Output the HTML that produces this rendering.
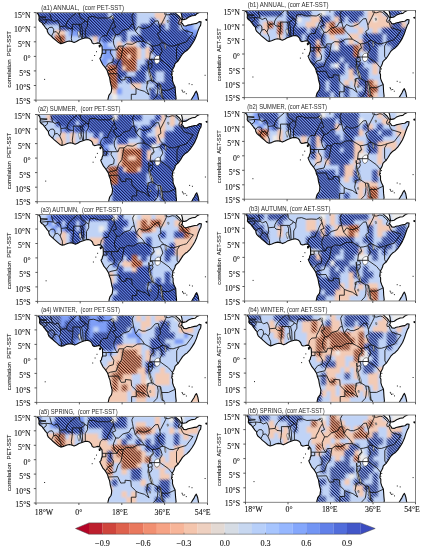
<!DOCTYPE html><html><head><meta charset="utf-8"><style>html,body{margin:0;padding:0;background:#fff;}svg{display:block;}</style></head><body><svg width="423" height="550" viewBox="0 0 423 550"><defs><pattern id="hb" patternUnits="userSpaceOnUse" width="2.05" height="2.05" patternTransform="rotate(-45)"><rect x="0" y="0" width="1.0" height="2.05" fill="#121a58"/></pattern><pattern id="hr" patternUnits="userSpaceOnUse" width="2.05" height="2.05" patternTransform="rotate(-45)"><rect x="0" y="0" width="0.95" height="2.05" fill="#4a1608"/></pattern><filter id="bl" x="-5%" y="-5%" width="110%" height="110%"><feGaussianBlur stdDeviation="1.1"/></filter><filter id="bl2" x="-5%" y="-5%" width="110%" height="110%"><feGaussianBlur stdDeviation="0.8"/></filter></defs><style>.tk{font-family:"Liberation Serif",serif;font-size:7.8px;fill:#111;stroke:#111;stroke-width:0.1px}.tt{font-family:"Liberation Sans",sans-serif;font-size:6.9px;fill:#2a2a2a}.yl{font-family:"Liberation Sans",sans-serif;font-size:6.2px;fill:#222;stroke:#222;stroke-width:0.08px}.cb{font-family:"Liberation Serif",serif;font-size:8.2px;fill:#111;stroke:#111;stroke-width:0.1px}</style><clipPath id="ca1"><rect x="36.0" y="12.6" width="171.5" height="87.5"/></clipPath><clipPath id="la1"><path d="M40.8 5.3 L39.6 9.7 L38.1 12.6 L37.2 13.5 L38.4 14.3 L38.9 16.1 L39.1 17.6 L38.9 19.9 L39.8 21.4 L42.0 22.8 L43.1 24.6 L44.1 25.7 L45.5 27.8 L47.2 29.5 L47.4 31.6 L48.4 33.6 L50.3 35.4 L51.7 36.5 L53.1 38.0 L56.2 40.6 L58.6 42.6 L60.8 43.7 L63.4 42.9 L67.0 41.5 L69.3 41.0 L71.7 41.5 L74.1 42.5 L76.5 41.5 L78.9 40.0 L81.3 39.1 L84.8 38.0 L87.0 37.7 L89.6 38.6 L91.3 40.3 L92.2 42.9 L93.6 43.8 L95.5 43.5 L97.9 42.9 L99.6 43.2 L100.8 44.7 L102.0 46.4 L102.2 49.4 L102.2 53.4 L101.3 55.5 L101.0 57.2 L99.8 58.4 L100.8 60.7 L102.7 64.5 L105.1 67.4 L107.0 70.3 L107.9 72.7 L108.2 74.1 L109.6 77.6 L110.3 82.0 L110.8 84.1 L111.7 87.6 L111.5 90.5 L111.0 92.5 L108.9 95.4 L108.2 98.1 L107.7 100.7 L107.5 104.5 L173.0 104.5 L175.6 100.7 L176.1 98.6 L175.6 94.3 L175.3 89.9 L175.1 87.0 L173.4 83.5 L172.5 80.6 L172.5 76.8 L171.5 75.3 L172.0 72.4 L172.2 70.1 L173.4 68.0 L174.4 66.0 L174.9 63.9 L176.5 62.2 L178.0 61.0 L180.1 57.8 L182.5 54.0 L184.9 51.7 L186.8 50.5 L189.6 47.6 L192.3 43.8 L194.4 40.3 L196.3 35.9 L197.7 31.6 L199.4 27.2 L200.6 25.4 L201.1 21.9 L199.2 21.6 L196.8 23.4 L194.4 23.7 L190.8 24.6 L188.0 25.1 L186.1 26.0 L183.7 25.7 L182.3 23.4 L180.8 22.8 L181.8 21.9 L182.0 20.2 L180.6 18.4 L178.9 16.1 L176.5 14.1 L174.2 11.7 L173.0 10.9 L171.8 8.2 L170.6 5.3ZM180.1 5.3 L180.6 8.2 L180.8 11.7 L181.1 13.2 L181.8 15.5 L182.0 17.6 L182.5 19.3 L183.7 19.6 L186.1 19.0 L188.4 17.3 L192.0 15.8 L194.9 15.5 L196.8 13.8 L199.2 12.6 L203.2 10.9 L205.1 9.1 L209.9 5.9 L213.5 4.1 L213.5 2.4 L180.1 2.4ZM196.3 91.2 L197.0 92.8 L197.7 94.8 L198.4 98.6 L198.7 101.0 L199.2 104.5 L184.9 104.5 L188.4 102.7 L191.1 100.1 L192.7 97.2 L193.9 95.4 L195.1 92.8ZM205.8 19.6 L207.5 19.3 L208.7 19.9 L207.5 20.5 L206.1 20.2ZM99.1 45.6 L100.1 45.3 L100.1 46.7 L99.4 47.0Z"/></clipPath><g clip-path="url(#ca1)"><g clip-path="url(#la1)"><g filter="url(#bl)"><path d="M35.7 12.3h72.1v6.4h-72.1zM111.9 12.3h24.4v6.4h-24.4zM169.1 12.3h38.7v6.4h-38.7zM35.7 18.1h100.6v6.4h-100.6zM150.0 18.1h5.4v6.4h-5.4zM169.1 18.1h10.1v6.4h-10.1zM35.7 24.0h5.4v6.4h-5.4zM59.5 24.0h76.8v6.4h-76.8zM140.5 24.0h24.4v6.4h-24.4zM169.1 24.0h10.1v6.4h-10.1zM35.7 29.8h5.4v6.4h-5.4zM78.6 29.8h48.2v6.4h-48.2zM140.5 29.8h48.2v6.4h-48.2zM35.7 35.6h5.4v6.4h-5.4zM83.3 35.6h5.4v6.4h-5.4zM102.4 35.6h10.1v6.4h-10.1zM121.5 35.6h5.4v6.4h-5.4zM131.0 35.6h67.3v6.4h-67.3zM35.7 41.5h5.4v6.4h-5.4zM83.3 41.5h5.4v6.4h-5.4zM140.5 41.5h5.4v6.4h-5.4zM150.0 41.5h57.8v6.4h-57.8zM35.7 47.3h5.4v6.4h-5.4zM83.3 47.3h5.4v6.4h-5.4zM150.0 47.3h57.8v6.4h-57.8zM35.7 53.1h5.4v6.4h-5.4zM83.3 53.1h5.4v6.4h-5.4zM154.8 53.1h53.0v6.4h-53.0zM35.7 59.0h5.4v6.4h-5.4zM111.9 59.0h10.1v6.4h-10.1zM145.3 59.0h62.5v6.4h-62.5zM35.7 64.8h5.4v6.4h-5.4zM116.7 64.8h5.4v6.4h-5.4zM140.5 64.8h57.8v6.4h-57.8zM35.7 70.6h5.4v6.4h-5.4zM116.7 70.6h10.1v6.4h-10.1zM135.7 70.6h10.1v6.4h-10.1zM150.0 70.6h5.4v6.4h-5.4zM164.3 70.6h24.4v6.4h-24.4zM35.7 76.5h5.4v6.4h-5.4zM116.7 76.5h5.4v6.4h-5.4zM126.2 76.5h19.7v6.4h-19.7zM150.0 76.5h5.4v6.4h-5.4zM164.3 76.5h24.4v6.4h-24.4zM35.7 82.3h5.4v6.4h-5.4zM154.8 82.3h29.2v6.4h-29.2zM35.7 88.1h5.4v6.4h-5.4zM150.0 88.1h5.4v6.4h-5.4zM159.6 88.1h24.4v6.4h-24.4zM35.7 94.0h5.4v6.4h-5.4zM150.0 94.0h33.9v6.4h-33.9z" fill="#6a8cf0"/><path d="M107.2 12.3h5.4v6.4h-5.4zM135.7 12.3h19.7v6.4h-19.7zM164.3 12.3h5.4v6.4h-5.4zM135.7 18.1h14.9v6.4h-14.9zM154.8 18.1h5.4v6.4h-5.4zM164.3 18.1h5.4v6.4h-5.4zM183.4 18.1h24.4v6.4h-24.4zM40.5 24.0h19.7v6.4h-19.7zM135.7 24.0h5.4v6.4h-5.4zM164.3 24.0h5.4v6.4h-5.4zM178.6 24.0h5.4v6.4h-5.4zM192.9 24.0h14.9v6.4h-14.9zM40.5 29.8h14.9v6.4h-14.9zM64.3 29.8h5.4v6.4h-5.4zM126.2 29.8h14.9v6.4h-14.9zM40.5 35.6h14.9v6.4h-14.9zM64.3 35.6h19.7v6.4h-19.7zM88.1 35.6h5.4v6.4h-5.4zM111.9 35.6h10.1v6.4h-10.1zM126.2 35.6h5.4v6.4h-5.4zM40.5 41.5h14.9v6.4h-14.9zM64.3 41.5h19.7v6.4h-19.7zM88.1 41.5h5.4v6.4h-5.4zM97.6 41.5h5.4v6.4h-5.4zM107.2 41.5h10.1v6.4h-10.1zM121.5 41.5h5.4v6.4h-5.4zM135.7 41.5h5.4v6.4h-5.4zM145.3 41.5h5.4v6.4h-5.4zM40.5 47.3h14.9v6.4h-14.9zM64.3 47.3h19.7v6.4h-19.7zM88.1 47.3h5.4v6.4h-5.4zM97.6 47.3h5.4v6.4h-5.4zM111.9 47.3h5.4v6.4h-5.4zM140.5 47.3h5.4v6.4h-5.4zM40.5 53.1h14.9v6.4h-14.9zM64.3 53.1h19.7v6.4h-19.7zM88.1 53.1h14.9v6.4h-14.9zM111.9 53.1h5.4v6.4h-5.4zM140.5 53.1h5.4v6.4h-5.4zM150.0 53.1h5.4v6.4h-5.4zM40.5 59.0h14.9v6.4h-14.9zM64.3 59.0h19.7v6.4h-19.7zM107.2 59.0h5.4v6.4h-5.4zM135.7 59.0h10.1v6.4h-10.1zM40.5 64.8h14.9v6.4h-14.9zM64.3 64.8h19.7v6.4h-19.7zM102.4 64.8h5.4v6.4h-5.4zM135.7 64.8h5.4v6.4h-5.4zM40.5 70.6h14.9v6.4h-14.9zM64.3 70.6h19.7v6.4h-19.7zM102.4 70.6h5.4v6.4h-5.4zM126.2 70.6h10.1v6.4h-10.1zM145.3 70.6h5.4v6.4h-5.4zM154.8 70.6h10.1v6.4h-10.1zM40.5 76.5h14.9v6.4h-14.9zM64.3 76.5h14.9v6.4h-14.9zM121.5 76.5h5.4v6.4h-5.4zM145.3 76.5h5.4v6.4h-5.4zM154.8 76.5h10.1v6.4h-10.1zM40.5 82.3h14.9v6.4h-14.9zM64.3 82.3h10.1v6.4h-10.1zM116.7 82.3h14.9v6.4h-14.9zM140.5 82.3h14.9v6.4h-14.9zM40.5 88.1h14.9v6.4h-14.9zM64.3 88.1h5.4v6.4h-5.4zM121.5 88.1h29.2v6.4h-29.2zM154.8 88.1h5.4v6.4h-5.4zM40.5 94.0h14.9v6.4h-14.9zM64.3 94.0h48.2v6.4h-48.2zM116.7 94.0h33.9v6.4h-33.9z" fill="#c0d3f6"/><path d="M154.8 12.3h10.1v6.4h-10.1zM159.6 18.1h5.4v6.4h-5.4zM178.6 18.1h5.4v6.4h-5.4zM54.8 29.8h10.1v6.4h-10.1zM92.9 35.6h5.4v6.4h-5.4zM116.7 41.5h5.4v6.4h-5.4zM126.2 41.5h10.1v6.4h-10.1zM135.7 47.3h5.4v6.4h-5.4zM145.3 47.3h5.4v6.4h-5.4zM126.2 53.1h5.4v6.4h-5.4zM135.7 53.1h5.4v6.4h-5.4zM145.3 53.1h5.4v6.4h-5.4zM121.5 64.8h5.4v6.4h-5.4zM131.0 82.3h10.1v6.4h-10.1zM111.9 88.1h5.4v6.4h-5.4z" fill="#f3cbb6"/><path d="M183.4 24.0h10.1v6.4h-10.1zM69.0 29.8h10.1v6.4h-10.1zM188.1 29.8h19.7v6.4h-19.7zM97.6 35.6h5.4v6.4h-5.4zM197.7 35.6h10.1v6.4h-10.1zM102.4 41.5h5.4v6.4h-5.4zM102.4 47.3h10.1v6.4h-10.1zM102.4 53.1h10.1v6.4h-10.1zM83.3 59.0h24.4v6.4h-24.4zM83.3 64.8h19.7v6.4h-19.7zM197.7 64.8h10.1v6.4h-10.1zM83.3 70.6h19.7v6.4h-19.7zM188.1 70.6h19.7v6.4h-19.7zM188.1 76.5h19.7v6.4h-19.7zM183.4 82.3h24.4v6.4h-24.4zM116.7 88.1h5.4v6.4h-5.4zM183.4 88.1h24.4v6.4h-24.4zM183.4 94.0h24.4v6.4h-24.4z" fill="#7f9ff7"/><path d="M54.8 35.6h10.1v6.4h-10.1zM54.8 41.5h10.1v6.4h-10.1zM54.8 47.3h10.1v6.4h-10.1zM116.7 47.3h19.7v6.4h-19.7zM54.8 53.1h10.1v6.4h-10.1zM116.7 53.1h10.1v6.4h-10.1zM131.0 53.1h5.4v6.4h-5.4zM54.8 59.0h10.1v6.4h-10.1zM121.5 59.0h14.9v6.4h-14.9zM54.8 64.8h10.1v6.4h-10.1zM107.2 64.8h10.1v6.4h-10.1zM126.2 64.8h10.1v6.4h-10.1zM54.8 70.6h10.1v6.4h-10.1zM107.2 70.6h10.1v6.4h-10.1zM54.8 76.5h10.1v6.4h-10.1zM78.6 76.5h38.7v6.4h-38.7zM54.8 82.3h10.1v6.4h-10.1zM73.8 82.3h43.5v6.4h-43.5zM54.8 88.1h10.1v6.4h-10.1zM54.8 94.0h10.1v6.4h-10.1z" fill="#ec9a78"/><path d="M92.9 41.5h5.4v6.4h-5.4zM92.9 47.3h5.4v6.4h-5.4zM69.0 88.1h43.5v6.4h-43.5zM111.9 94.0h5.4v6.4h-5.4z" fill="#ececec"/></g><mask id="ma1D" maskUnits="userSpaceOnUse" x="31.0" y="7.6" width="181.5" height="97.5"><path filter="url(#bl2)" d="M35.7 12.3h72.1v6.4h-72.1zM111.9 12.3h24.4v6.4h-24.4zM169.1 12.3h38.7v6.4h-38.7zM35.7 18.1h100.6v6.4h-100.6zM150.0 18.1h5.4v6.4h-5.4zM169.1 18.1h10.1v6.4h-10.1zM35.7 24.0h5.4v6.4h-5.4zM59.5 24.0h76.8v6.4h-76.8zM140.5 24.0h24.4v6.4h-24.4zM169.1 24.0h10.1v6.4h-10.1zM35.7 29.8h5.4v6.4h-5.4zM78.6 29.8h48.2v6.4h-48.2zM140.5 29.8h48.2v6.4h-48.2zM35.7 35.6h5.4v6.4h-5.4zM83.3 35.6h5.4v6.4h-5.4zM102.4 35.6h10.1v6.4h-10.1zM121.5 35.6h5.4v6.4h-5.4zM131.0 35.6h67.3v6.4h-67.3zM35.7 41.5h5.4v6.4h-5.4zM83.3 41.5h5.4v6.4h-5.4zM140.5 41.5h5.4v6.4h-5.4zM150.0 41.5h57.8v6.4h-57.8zM35.7 47.3h5.4v6.4h-5.4zM83.3 47.3h5.4v6.4h-5.4zM150.0 47.3h57.8v6.4h-57.8zM35.7 53.1h5.4v6.4h-5.4zM83.3 53.1h5.4v6.4h-5.4zM154.8 53.1h53.0v6.4h-53.0zM35.7 59.0h5.4v6.4h-5.4zM111.9 59.0h10.1v6.4h-10.1zM145.3 59.0h62.5v6.4h-62.5zM35.7 64.8h5.4v6.4h-5.4zM116.7 64.8h5.4v6.4h-5.4zM140.5 64.8h57.8v6.4h-57.8zM35.7 70.6h5.4v6.4h-5.4zM116.7 70.6h10.1v6.4h-10.1zM135.7 70.6h10.1v6.4h-10.1zM150.0 70.6h5.4v6.4h-5.4zM164.3 70.6h24.4v6.4h-24.4zM35.7 76.5h5.4v6.4h-5.4zM116.7 76.5h5.4v6.4h-5.4zM126.2 76.5h19.7v6.4h-19.7zM150.0 76.5h5.4v6.4h-5.4zM164.3 76.5h24.4v6.4h-24.4zM35.7 82.3h5.4v6.4h-5.4zM154.8 82.3h29.2v6.4h-29.2zM35.7 88.1h5.4v6.4h-5.4zM150.0 88.1h5.4v6.4h-5.4zM159.6 88.1h24.4v6.4h-24.4zM35.7 94.0h5.4v6.4h-5.4zM150.0 94.0h33.9v6.4h-33.9z" fill="#fff"/></mask><rect x="36.0" y="12.6" width="171.5" height="87.5" fill="url(#hb)" mask="url(#ma1D)"/><mask id="ma1R" maskUnits="userSpaceOnUse" x="31.0" y="7.6" width="181.5" height="97.5"><path filter="url(#bl2)" d="M54.8 35.6h10.1v6.4h-10.1zM54.8 41.5h10.1v6.4h-10.1zM54.8 47.3h10.1v6.4h-10.1zM116.7 47.3h19.7v6.4h-19.7zM54.8 53.1h10.1v6.4h-10.1zM116.7 53.1h10.1v6.4h-10.1zM131.0 53.1h5.4v6.4h-5.4zM54.8 59.0h10.1v6.4h-10.1zM121.5 59.0h14.9v6.4h-14.9zM54.8 64.8h10.1v6.4h-10.1zM107.2 64.8h10.1v6.4h-10.1zM126.2 64.8h10.1v6.4h-10.1zM54.8 70.6h10.1v6.4h-10.1zM107.2 70.6h10.1v6.4h-10.1zM54.8 76.5h10.1v6.4h-10.1zM78.6 76.5h38.7v6.4h-38.7zM54.8 82.3h10.1v6.4h-10.1zM73.8 82.3h43.5v6.4h-43.5zM54.8 88.1h10.1v6.4h-10.1zM54.8 94.0h10.1v6.4h-10.1z" fill="#fff"/></mask><rect x="36.0" y="12.6" width="171.5" height="87.5" fill="url(#hr)" mask="url(#ma1R)"/></g><path d="M154.6 57.5 L156.3 55.8 L158.2 55.5 L160.1 56.4 L159.9 57.8 L159.6 61.6 L158.0 63.6 L156.1 63.9 L154.4 61.6 L154.4 59.3ZM148.4 66.0 L148.9 66.3 L149.4 69.5 L150.3 72.7 L151.8 75.6 L152.7 78.5 L153.0 81.1 L152.2 82.0 L151.3 80.3 L149.6 76.8 L148.7 73.8 L148.2 70.3ZM159.9 84.1 L161.1 84.9 L161.5 88.4 L162.0 91.3 L162.2 94.3 L163.0 98.1 L162.0 98.3 L161.1 96.0 L160.3 92.8 L159.9 88.4ZM164.4 43.2 L165.3 43.5 L165.8 46.7 L165.8 49.1 L165.1 48.8 L164.6 46.1ZM78.2 31.3 L79.4 31.0 L79.8 34.5 L79.1 37.7 L78.4 35.9 L77.7 33.0ZM167.0 20.5 L168.2 20.5 L168.4 22.2 L167.5 22.5ZM151.3 52.0 L151.8 50.8 L153.7 49.9 L153.2 51.1 L151.5 53.1ZM148.0 61.3 L148.7 61.3 L148.4 63.6 L147.7 63.4ZM146.5 81.7 L148.0 81.1 L148.2 83.8 L147.0 84.1ZM111.0 16.1 L113.4 15.8 L113.7 18.4 L112.0 19.3 L110.6 17.9ZM149.4 88.4 L150.3 88.1 L150.6 90.2 L149.4 89.9Z" fill="#fff" stroke="#222" stroke-width="0.5"/><path d="M40.8 5.3 L39.6 9.7 L38.1 12.6 L37.2 13.5 L38.4 14.3 L38.9 16.1 L39.1 17.6 L38.9 19.9 L39.8 21.4 L42.0 22.8 L43.1 24.6 L44.1 25.7 L45.5 27.8 L47.2 29.5 L47.4 31.6 L48.4 33.6 L50.3 35.4 L51.7 36.5 L53.1 38.0 L56.2 40.6 L58.6 42.6 L60.8 43.7 L63.4 42.9 L67.0 41.5 L69.3 41.0 L71.7 41.5 L74.1 42.5 L76.5 41.5 L78.9 40.0 L81.3 39.1 L84.8 38.0 L87.0 37.7 L89.6 38.6 L91.3 40.3 L92.2 42.9 L93.6 43.8 L95.5 43.5 L97.9 42.9 L99.6 43.2 L100.8 44.7 L102.0 46.4 L102.2 49.4 L102.2 53.4 L101.3 55.5 L101.0 57.2 L99.8 58.4 L100.8 60.7 L102.7 64.5 L105.1 67.4 L107.0 70.3 L107.9 72.7 L108.2 74.1 L109.6 77.6 L110.3 82.0 L110.8 84.1 L111.7 87.6 L111.5 90.5 L111.0 92.5 L108.9 95.4 L108.2 98.1 L107.7 100.7 L107.5 104.5 L173.0 104.5 L175.6 100.7 L176.1 98.6 L175.6 94.3 L175.3 89.9 L175.1 87.0 L173.4 83.5 L172.5 80.6 L172.5 76.8 L171.5 75.3 L172.0 72.4 L172.2 70.1 L173.4 68.0 L174.4 66.0 L174.9 63.9 L176.5 62.2 L178.0 61.0 L180.1 57.8 L182.5 54.0 L184.9 51.7 L186.8 50.5 L189.6 47.6 L192.3 43.8 L194.4 40.3 L196.3 35.9 L197.7 31.6 L199.4 27.2 L200.6 25.4 L201.1 21.9 L199.2 21.6 L196.8 23.4 L194.4 23.7 L190.8 24.6 L188.0 25.1 L186.1 26.0 L183.7 25.7 L182.3 23.4 L180.8 22.8 L181.8 21.9 L182.0 20.2 L180.6 18.4 L178.9 16.1 L176.5 14.1 L174.2 11.7 L173.0 10.9 L171.8 8.2 L170.6 5.3ZM180.1 5.3 L180.6 8.2 L180.8 11.7 L181.1 13.2 L181.8 15.5 L182.0 17.6 L182.5 19.3 L183.7 19.6 L186.1 19.0 L188.4 17.3 L192.0 15.8 L194.9 15.5 L196.8 13.8 L199.2 12.6 L203.2 10.9 L205.1 9.1 L209.9 5.9 L213.5 4.1 L213.5 2.4 L180.1 2.4ZM196.3 91.2 L197.0 92.8 L197.7 94.8 L198.4 98.6 L198.7 101.0 L199.2 104.5 L184.9 104.5 L188.4 102.7 L191.1 100.1 L192.7 97.2 L193.9 95.4 L195.1 92.8ZM205.8 19.6 L207.5 19.3 L208.7 19.9 L207.5 20.5 L206.1 20.2ZM99.1 45.6 L100.1 45.3 L100.1 46.7 L99.4 47.0Z" fill="none" stroke="#0a0a0a" stroke-width="1.1" stroke-linejoin="round"/><path d="M49.8 13.5 L51.7 20.2M39.1 16.7 L46.0 17.0M39.1 18.1 L46.0 17.6M39.1 20.3 L46.2 19.6 L51.7 20.2M46.2 19.6 L46.2 22.2 L43.1 24.6M47.2 30.1 L49.3 27.5 L52.2 27.2 L53.6 29.2 L53.6 32.1 L51.5 36.2M53.6 32.1 L56.2 31.6 L58.6 34.2M58.6 34.2 L61.0 39.4 L61.0 43.5M51.7 20.2 L53.9 21.6 L57.4 20.2 L59.1 23.4 L59.8 26.6M59.8 26.6 L60.1 30.7 L58.6 34.2M59.8 26.6 L65.8 26.0 L67.7 28.1 L72.4 28.6M66.0 26.0 L66.5 23.1 L68.4 19.9 L71.7 16.7 L76.5 12.6 L79.4 12.9M72.4 28.6 L72.0 33.3 L71.3 38.3 L72.0 41.8M72.4 28.6 L72.2 24.3 L78.9 24.3M78.9 24.3 L80.1 27.2 L80.3 32.4 L81.7 38.6M81.0 24.3 L82.2 28.9 L82.7 38.3M78.9 24.3 L81.0 24.3 L84.4 21.9 L84.6 20.5M79.4 12.9 L79.8 16.4 L81.3 18.4 L84.1 19.6 L84.6 20.5M85.3 37.7 L85.3 29.8 L87.5 26.0 L87.5 22.2M84.6 20.5 L87.5 22.2M87.5 22.2 L88.6 17.0 L93.2 16.4 L97.9 18.1 L102.7 17.9 L108.2 18.1 L111.3 16.4 L112.7 18.1M99.4 42.6 L100.3 38.3 L102.7 35.9 L107.0 35.6 L107.5 33.0 L109.8 28.6 L110.6 26.6 L111.7 24.3 L113.7 21.4 L112.7 18.1M113.7 21.4 L114.6 24.6 L115.8 27.2 L112.2 28.6 L115.8 34.5M115.8 34.5 L113.4 40.3 L113.7 44.1 L115.1 47.6 L117.2 49.9M102.2 49.9 L105.8 49.9 L110.6 49.9 L117.2 49.9M105.8 49.9 L105.8 53.4 L101.7 53.4M110.6 49.9 L110.3 52.9 L113.4 57.8 L112.9 62.2 L108.6 63.4 L105.3 67.7M123.2 46.1 L121.0 57.8 L117.9 62.2 L115.8 68.6 L110.1 69.8 L107.5 70.9M117.2 49.9 L118.7 46.1 L123.2 46.1M123.2 46.1 L126.5 43.8 L132.2 44.4 L137.2 41.5 L140.8 41.2 L144.1 41.5M115.8 34.5 L118.7 34.5 L122.9 30.4 L128.9 28.6 L131.3 24.6 L133.4 24.3M133.4 24.3 L135.3 31.0 L138.4 34.5 L142.0 38.0 L144.1 41.5M133.4 24.3 L132.5 19.6 L131.8 16.1 L133.7 12.6 L136.0 10.6M135.3 31.0 L138.4 26.6 L142.0 28.4 L145.1 28.4 L150.3 26.3 L155.1 21.1 L158.0 20.8 L159.9 27.2M159.9 27.2 L160.3 31.6 L157.5 33.6 L159.6 38.9 L163.4 42.9M163.4 42.9 L160.8 42.9 L159.6 44.7M159.6 44.7 L155.1 45.9 L152.2 46.1M144.1 41.5 L148.0 43.5 L152.2 46.1M152.2 46.1 L153.4 49.9 L150.3 52.9 L149.4 60.1M159.9 27.2 L160.6 25.7 L163.9 19.3 L165.6 15.8 L165.8 14.6 L167.0 6.8M165.8 14.6 L168.2 14.9 L171.8 13.8 L174.2 14.3 L177.7 17.6 L179.9 19.9M179.9 19.9 L178.4 22.2 L178.9 24.3 L180.8 24.3M180.8 24.3 L182.0 27.5 L183.7 30.1 L193.0 33.0 L186.1 42.1 L183.0 42.9 L179.2 44.1M179.2 44.1 L176.5 45.0 L173.0 46.1 L169.4 45.9 L164.6 43.2 L163.4 42.9M179.2 44.1 L176.5 48.2 L176.5 58.7 L178.0 61.0M159.6 44.7 L161.1 47.6 L162.2 51.4 L159.9 55.5 L159.6 56.4 L159.9 59.3M159.9 59.3 L168.4 65.4 L172.2 70.1M149.4 59.3 L159.6 59.3M149.4 60.1 L151.5 59.6 L152.5 63.4M148.0 60.7 L148.4 64.5 L148.0 69.5M148.0 64.5 L151.5 63.4M151.5 63.4 L152.2 66.0 L150.8 68.6 L149.1 69.5M148.9 69.5 L151.8 80.3M151.8 80.3 L147.7 81.1 L147.2 84.3 L146.5 88.4 L148.0 92.5 L149.1 94.8 L144.4 91.3 L139.6 89.9 L136.0 88.4M108.2 73.8 L117.7 73.6 L120.8 80.0 L125.1 79.7 L125.1 77.1 L130.8 77.6 L131.3 83.5 L135.8 87.8 L136.0 88.4M136.0 88.4 L136.0 94.3 L131.3 94.3 L131.3 103.6M151.8 80.3 L157.2 83.8M157.2 83.8 L158.0 88.1 L157.5 92.8 L156.8 96.0M157.2 83.8 L159.9 84.1 L161.3 90.2M161.3 90.2 L162.2 97.8 L164.1 98.6 L163.0 103.3M161.3 90.2 L168.2 90.2 L175.1 87.0M156.8 96.0 L151.3 101.8M182.3 19.0 L182.3 18.4" fill="none" stroke="#111" stroke-width="0.85" stroke-linejoin="round"/><rect x="94.1" y="55.0" width="1" height="1" fill="#222"/><rect x="96.0" y="51.2" width="1" height="1" fill="#222"/><rect x="91.7" y="59.9" width="1" height="1" fill="#222"/><rect x="172.0" y="73.6" width="1" height="1" fill="#222"/><rect x="172.9" y="70.7" width="1" height="1" fill="#222"/><rect x="181.5" y="89.7" width="1" height="1" fill="#222"/><rect x="182.0" y="90.6" width="1" height="1" fill="#222"/><rect x="182.7" y="91.7" width="1" height="1" fill="#222"/><rect x="184.1" y="91.4" width="1" height="1" fill="#222"/><rect x="185.8" y="93.2" width="1" height="1" fill="#222"/><rect x="188.7" y="83.3" width="1" height="1" fill="#222"/><rect x="191.5" y="84.1" width="1" height="1" fill="#222"/><rect x="44.1" y="78.9" width="1" height="1" fill="#222"/><rect x="210.6" y="69.3" width="1" height="1" fill="#222"/><rect x="204.6" y="74.8" width="1" height="1" fill="#222"/></g><rect x="36.0" y="12.6" width="171.5" height="87.5" fill="none" stroke="#777" stroke-width="0.9"/><line x1="33.8" y1="12.6" x2="36.0" y2="12.6" stroke="#333" stroke-width="0.8"/><text x="30.6" y="17.5" class="tk" text-anchor="end">15°N</text><line x1="33.8" y1="27.2" x2="36.0" y2="27.2" stroke="#333" stroke-width="0.8"/><text x="30.6" y="32.1" class="tk" text-anchor="end">10°N</text><line x1="33.8" y1="41.8" x2="36.0" y2="41.8" stroke="#333" stroke-width="0.8"/><text x="30.6" y="46.7" class="tk" text-anchor="end">5°N</text><line x1="33.8" y1="56.4" x2="36.0" y2="56.4" stroke="#333" stroke-width="0.8"/><text x="30.6" y="61.2" class="tk" text-anchor="end">0°</text><line x1="33.8" y1="70.9" x2="36.0" y2="70.9" stroke="#333" stroke-width="0.8"/><text x="30.6" y="75.8" class="tk" text-anchor="end">5°S</text><line x1="33.8" y1="85.5" x2="36.0" y2="85.5" stroke="#333" stroke-width="0.8"/><text x="30.6" y="90.4" class="tk" text-anchor="end">10°S</text><line x1="33.8" y1="100.1" x2="36.0" y2="100.1" stroke="#333" stroke-width="0.8"/><text x="30.6" y="103.7" class="tk" text-anchor="end">15°S</text><line x1="78.9" y1="12.6" x2="78.9" y2="14.6" stroke="#333" stroke-width="0.8"/><line x1="121.8" y1="12.6" x2="121.8" y2="14.6" stroke="#333" stroke-width="0.8"/><line x1="164.6" y1="12.6" x2="164.6" y2="14.6" stroke="#333" stroke-width="0.8"/><line x1="207.5" y1="12.6" x2="207.5" y2="14.6" stroke="#333" stroke-width="0.8"/><line x1="36.0" y1="100.1" x2="36.0" y2="102.1" stroke="#333" stroke-width="0.8"/><line x1="78.9" y1="100.1" x2="78.9" y2="102.1" stroke="#333" stroke-width="0.8"/><line x1="121.8" y1="100.1" x2="121.8" y2="102.1" stroke="#333" stroke-width="0.8"/><line x1="164.6" y1="100.1" x2="164.6" y2="102.1" stroke="#333" stroke-width="0.8"/><line x1="207.5" y1="100.1" x2="207.5" y2="102.1" stroke="#333" stroke-width="0.8"/><text x="41.2" y="10.0" class="tt" textLength="82.8" lengthAdjust="spacingAndGlyphs">(a1) ANNUAL,&#160; (corr PET-SST)</text><text transform="translate(11.4 59.3) rotate(-90)" class="yl" text-anchor="middle" textLength="56.5" lengthAdjust="spacingAndGlyphs">correlation&#160; PET-SST</text><clipPath id="cb1"><rect x="244.3" y="10.5" width="171.2" height="87.1"/></clipPath><clipPath id="lb1"><path d="M249.1 3.2 L247.9 7.6 L246.4 10.5 L245.5 11.4 L246.7 12.2 L247.2 14.0 L247.4 15.4 L247.2 17.8 L248.1 19.2 L250.2 20.7 L251.4 22.4 L252.4 23.6 L253.8 25.6 L255.5 27.3 L255.7 29.4 L256.7 31.4 L258.6 33.1 L260.0 34.3 L261.4 35.8 L264.5 38.4 L266.9 40.4 L269.0 41.4 L271.6 40.7 L275.2 39.2 L277.6 38.8 L280.0 39.2 L282.3 40.3 L284.7 39.2 L287.1 37.8 L289.5 36.9 L293.0 35.8 L295.2 35.5 L297.8 36.3 L299.5 38.1 L300.4 40.7 L301.8 41.6 L303.7 41.3 L306.1 40.7 L307.8 41.0 L309.0 42.4 L310.2 44.2 L310.4 47.1 L310.4 51.1 L309.5 53.2 L309.2 54.9 L308.0 56.1 L309.0 58.4 L310.9 62.2 L313.3 65.1 L315.2 68.0 L316.1 70.3 L316.3 71.8 L317.8 75.2 L318.5 79.6 L319.0 81.6 L319.9 85.1 L319.7 88.0 L319.2 90.1 L317.1 93.0 L316.3 95.6 L315.9 98.2 L315.6 102.0 L381.0 102.0 L383.6 98.2 L384.1 96.1 L383.6 91.8 L383.4 87.4 L383.2 84.5 L381.5 81.1 L380.5 78.1 L380.5 74.4 L379.6 72.9 L380.1 70.0 L380.3 67.7 L381.5 65.7 L382.4 63.6 L382.9 61.6 L384.6 59.9 L386.0 58.7 L388.2 55.5 L390.5 51.7 L392.9 49.4 L394.8 48.2 L397.7 45.3 L400.3 41.6 L402.4 38.1 L404.3 33.7 L405.8 29.4 L407.4 25.0 L408.6 23.3 L409.1 19.8 L407.2 19.5 L404.8 21.2 L402.4 21.5 L398.9 22.4 L396.0 23.0 L394.1 23.9 L391.7 23.6 L390.3 21.2 L388.9 20.7 L389.8 19.8 L390.1 18.0 L388.6 16.3 L387.0 14.0 L384.6 12.0 L382.2 9.6 L381.0 8.8 L379.8 6.1 L378.6 3.2ZM388.2 3.2 L388.6 6.1 L388.9 9.6 L389.1 11.1 L389.8 13.4 L390.1 15.4 L390.5 17.2 L391.7 17.5 L394.1 16.9 L396.5 15.1 L400.0 13.7 L402.9 13.4 L404.8 11.7 L407.2 10.5 L411.2 8.8 L413.1 7.0 L417.9 3.8 L421.4 2.1 L421.4 0.3 L388.2 0.3ZM404.3 88.7 L405.0 90.3 L405.8 92.4 L406.5 96.1 L406.7 98.5 L407.2 102.0 L392.9 102.0 L396.5 100.2 L399.1 97.6 L400.8 94.7 L401.9 93.0 L403.1 90.3ZM413.8 17.5 L415.5 17.2 L416.7 17.8 L415.5 18.3 L414.1 18.0ZM307.3 43.3 L308.3 43.0 L308.3 44.5 L307.5 44.8Z"/></clipPath><g clip-path="url(#cb1)"><g clip-path="url(#lb1)"><g filter="url(#bl)"><path d="M244.0 10.2h38.6v6.4h-38.6zM286.8 10.2h24.4v6.4h-24.4zM334.4 10.2h29.1v6.4h-29.1zM386.7 10.2h14.9v6.4h-14.9zM244.0 16.0h14.9v6.4h-14.9zM286.8 16.0h10.1v6.4h-10.1zM320.1 16.0h10.1v6.4h-10.1zM339.1 16.0h5.4v6.4h-5.4zM348.6 16.0h10.1v6.4h-10.1zM244.0 21.8h14.9v6.4h-14.9zM286.8 21.8h10.1v6.4h-10.1zM320.1 21.8h5.4v6.4h-5.4zM391.4 21.8h10.1v6.4h-10.1zM244.0 27.6h10.1v6.4h-10.1zM286.8 27.6h19.6v6.4h-19.6zM310.6 27.6h10.1v6.4h-10.1zM381.9 27.6h24.4v6.4h-24.4zM244.0 33.4h10.1v6.4h-10.1zM286.8 33.4h14.9v6.4h-14.9zM305.8 33.4h19.6v6.4h-19.6zM362.9 33.4h19.6v6.4h-19.6zM386.7 33.4h29.1v6.4h-29.1zM244.0 39.2h10.1v6.4h-10.1zM286.8 39.2h14.9v6.4h-14.9zM305.8 39.2h10.1v6.4h-10.1zM320.1 39.2h5.4v6.4h-5.4zM339.1 39.2h5.4v6.4h-5.4zM362.9 39.2h19.6v6.4h-19.6zM386.7 39.2h29.1v6.4h-29.1zM244.0 45.0h10.1v6.4h-10.1zM286.8 45.0h14.9v6.4h-14.9zM310.6 45.0h5.4v6.4h-5.4zM324.8 45.0h5.4v6.4h-5.4zM339.1 45.0h14.9v6.4h-14.9zM362.9 45.0h14.9v6.4h-14.9zM391.4 45.0h24.4v6.4h-24.4zM244.0 50.8h10.1v6.4h-10.1zM286.8 50.8h10.1v6.4h-10.1zM310.6 50.8h5.4v6.4h-5.4zM324.8 50.8h29.1v6.4h-29.1zM367.6 50.8h10.1v6.4h-10.1zM391.4 50.8h24.4v6.4h-24.4zM244.0 56.7h10.1v6.4h-10.1zM286.8 56.7h10.1v6.4h-10.1zM310.6 56.7h5.4v6.4h-5.4zM324.8 56.7h14.9v6.4h-14.9zM343.9 56.7h14.9v6.4h-14.9zM367.6 56.7h10.1v6.4h-10.1zM391.4 56.7h24.4v6.4h-24.4zM244.0 62.5h10.1v6.4h-10.1zM286.8 62.5h43.4v6.4h-43.4zM339.1 62.5h5.4v6.4h-5.4zM348.6 62.5h14.9v6.4h-14.9zM396.2 62.5h5.4v6.4h-5.4zM244.0 68.3h10.1v6.4h-10.1zM286.8 68.3h57.7v6.4h-57.7zM353.4 68.3h14.9v6.4h-14.9zM244.0 74.1h10.1v6.4h-10.1zM286.8 74.1h52.9v6.4h-52.9zM358.1 74.1h10.1v6.4h-10.1zM244.0 79.9h10.1v6.4h-10.1zM282.0 79.9h43.4v6.4h-43.4zM329.6 79.9h10.1v6.4h-10.1zM358.1 79.9h10.1v6.4h-10.1zM244.0 85.7h10.1v6.4h-10.1zM277.3 85.7h48.2v6.4h-48.2zM329.6 85.7h10.1v6.4h-10.1zM343.9 85.7h5.4v6.4h-5.4zM362.9 85.7h5.4v6.4h-5.4zM244.0 91.5h10.1v6.4h-10.1zM272.5 91.5h57.7v6.4h-57.7zM334.4 91.5h5.4v6.4h-5.4zM343.9 91.5h5.4v6.4h-5.4zM358.1 91.5h10.1v6.4h-10.1z" fill="#7494ee"/><path d="M282.0 10.2h5.4v6.4h-5.4zM310.6 10.2h10.1v6.4h-10.1zM324.8 10.2h10.1v6.4h-10.1zM362.9 10.2h5.4v6.4h-5.4zM381.9 10.2h5.4v6.4h-5.4zM258.3 16.0h29.1v6.4h-29.1zM301.1 16.0h10.1v6.4h-10.1zM329.6 16.0h5.4v6.4h-5.4zM343.9 16.0h5.4v6.4h-5.4zM358.1 16.0h10.1v6.4h-10.1zM386.7 16.0h10.1v6.4h-10.1zM400.9 16.0h14.9v6.4h-14.9zM258.3 21.8h5.4v6.4h-5.4zM272.5 21.8h5.4v6.4h-5.4zM282.0 21.8h5.4v6.4h-5.4zM296.3 21.8h10.1v6.4h-10.1zM315.3 21.8h5.4v6.4h-5.4zM334.4 21.8h19.6v6.4h-19.6zM358.1 21.8h10.1v6.4h-10.1zM405.7 21.8h10.1v6.4h-10.1zM253.5 27.6h10.1v6.4h-10.1zM267.8 27.6h10.1v6.4h-10.1zM282.0 27.6h5.4v6.4h-5.4zM305.8 27.6h5.4v6.4h-5.4zM320.1 27.6h5.4v6.4h-5.4zM343.9 27.6h14.9v6.4h-14.9zM362.9 27.6h10.1v6.4h-10.1zM377.2 27.6h5.4v6.4h-5.4zM405.7 27.6h10.1v6.4h-10.1zM253.5 33.4h24.4v6.4h-24.4zM282.0 33.4h5.4v6.4h-5.4zM301.1 33.4h5.4v6.4h-5.4zM324.8 33.4h5.4v6.4h-5.4zM334.4 33.4h14.9v6.4h-14.9zM358.1 33.4h5.4v6.4h-5.4zM381.9 33.4h5.4v6.4h-5.4zM253.5 39.2h24.4v6.4h-24.4zM282.0 39.2h5.4v6.4h-5.4zM301.1 39.2h5.4v6.4h-5.4zM324.8 39.2h10.1v6.4h-10.1zM343.9 39.2h5.4v6.4h-5.4zM353.4 39.2h5.4v6.4h-5.4zM381.9 39.2h5.4v6.4h-5.4zM253.5 45.0h24.4v6.4h-24.4zM282.0 45.0h5.4v6.4h-5.4zM301.1 45.0h10.1v6.4h-10.1zM320.1 45.0h5.4v6.4h-5.4zM329.6 45.0h5.4v6.4h-5.4zM377.2 45.0h14.9v6.4h-14.9zM253.5 50.8h24.4v6.4h-24.4zM282.0 50.8h5.4v6.4h-5.4zM296.3 50.8h14.9v6.4h-14.9zM320.1 50.8h5.4v6.4h-5.4zM358.1 50.8h5.4v6.4h-5.4zM377.2 50.8h14.9v6.4h-14.9zM253.5 56.7h24.4v6.4h-24.4zM282.0 56.7h5.4v6.4h-5.4zM296.3 56.7h14.9v6.4h-14.9zM315.3 56.7h10.1v6.4h-10.1zM339.1 56.7h5.4v6.4h-5.4zM358.1 56.7h10.1v6.4h-10.1zM377.2 56.7h14.9v6.4h-14.9zM253.5 62.5h24.4v6.4h-24.4zM282.0 62.5h5.4v6.4h-5.4zM329.6 62.5h5.4v6.4h-5.4zM343.9 62.5h5.4v6.4h-5.4zM362.9 62.5h10.1v6.4h-10.1zM377.2 62.5h19.6v6.4h-19.6zM400.9 62.5h14.9v6.4h-14.9zM253.5 68.3h24.4v6.4h-24.4zM282.0 68.3h5.4v6.4h-5.4zM343.9 68.3h5.4v6.4h-5.4zM367.6 68.3h5.4v6.4h-5.4zM377.2 68.3h38.6v6.4h-38.6zM253.5 74.1h24.4v6.4h-24.4zM282.0 74.1h5.4v6.4h-5.4zM339.1 74.1h10.1v6.4h-10.1zM353.4 74.1h5.4v6.4h-5.4zM367.6 74.1h48.2v6.4h-48.2zM253.5 79.9h24.4v6.4h-24.4zM324.8 79.9h5.4v6.4h-5.4zM339.1 79.9h5.4v6.4h-5.4zM348.6 79.9h5.4v6.4h-5.4zM377.2 79.9h38.6v6.4h-38.6zM253.5 85.7h24.4v6.4h-24.4zM324.8 85.7h5.4v6.4h-5.4zM339.1 85.7h5.4v6.4h-5.4zM348.6 85.7h14.9v6.4h-14.9zM377.2 85.7h38.6v6.4h-38.6zM253.5 91.5h19.6v6.4h-19.6zM329.6 91.5h5.4v6.4h-5.4zM339.1 91.5h5.4v6.4h-5.4zM348.6 91.5h10.1v6.4h-10.1zM377.2 91.5h38.6v6.4h-38.6z" fill="#c0d3f6"/><path d="M320.1 10.2h5.4v6.4h-5.4zM400.9 10.2h14.9v6.4h-14.9zM296.3 16.0h5.4v6.4h-5.4zM372.4 16.0h5.4v6.4h-5.4zM334.4 45.0h5.4v6.4h-5.4zM362.9 50.8h5.4v6.4h-5.4zM334.4 62.5h5.4v6.4h-5.4z" fill="#ececec"/><path d="M367.6 10.2h14.9v6.4h-14.9zM310.6 16.0h10.1v6.4h-10.1zM334.4 16.0h5.4v6.4h-5.4zM367.6 16.0h5.4v6.4h-5.4zM377.2 16.0h10.1v6.4h-10.1zM396.2 16.0h5.4v6.4h-5.4zM263.0 21.8h5.4v6.4h-5.4zM305.8 21.8h10.1v6.4h-10.1zM324.8 21.8h5.4v6.4h-5.4zM353.4 21.8h5.4v6.4h-5.4zM367.6 21.8h24.4v6.4h-24.4zM400.9 21.8h5.4v6.4h-5.4zM263.0 27.6h5.4v6.4h-5.4zM324.8 27.6h5.4v6.4h-5.4zM358.1 27.6h5.4v6.4h-5.4zM372.4 27.6h5.4v6.4h-5.4zM277.3 33.4h5.4v6.4h-5.4zM329.6 33.4h5.4v6.4h-5.4zM348.6 33.4h10.1v6.4h-10.1zM277.3 39.2h5.4v6.4h-5.4zM315.3 39.2h5.4v6.4h-5.4zM334.4 39.2h5.4v6.4h-5.4zM348.6 39.2h5.4v6.4h-5.4zM358.1 39.2h5.4v6.4h-5.4zM277.3 45.0h5.4v6.4h-5.4zM358.1 45.0h5.4v6.4h-5.4zM277.3 50.8h5.4v6.4h-5.4zM315.3 50.8h5.4v6.4h-5.4zM277.3 56.7h5.4v6.4h-5.4zM277.3 62.5h5.4v6.4h-5.4zM372.4 62.5h5.4v6.4h-5.4zM277.3 68.3h5.4v6.4h-5.4zM348.6 68.3h5.4v6.4h-5.4zM372.4 68.3h5.4v6.4h-5.4zM277.3 74.1h5.4v6.4h-5.4zM348.6 74.1h5.4v6.4h-5.4zM277.3 79.9h5.4v6.4h-5.4zM343.9 79.9h5.4v6.4h-5.4zM353.4 79.9h5.4v6.4h-5.4zM372.4 79.9h5.4v6.4h-5.4zM372.4 91.5h5.4v6.4h-5.4z" fill="#f3cbb6"/><path d="M267.8 21.8h5.4v6.4h-5.4zM277.3 21.8h5.4v6.4h-5.4zM329.6 21.8h5.4v6.4h-5.4zM277.3 27.6h5.4v6.4h-5.4zM329.6 27.6h14.9v6.4h-14.9zM315.3 45.0h5.4v6.4h-5.4zM353.4 45.0h5.4v6.4h-5.4zM353.4 50.8h5.4v6.4h-5.4zM367.6 79.9h5.4v6.4h-5.4zM367.6 85.7h10.1v6.4h-10.1zM367.6 91.5h5.4v6.4h-5.4z" fill="#ec9a78"/></g><mask id="mb1D" maskUnits="userSpaceOnUse" x="239.3" y="5.5" width="181.2" height="97.1"><path filter="url(#bl2)" d="M244.0 10.2h38.6v6.4h-38.6zM286.8 10.2h24.4v6.4h-24.4zM334.4 10.2h29.1v6.4h-29.1zM386.7 10.2h14.9v6.4h-14.9zM244.0 16.0h14.9v6.4h-14.9zM286.8 16.0h10.1v6.4h-10.1zM320.1 16.0h10.1v6.4h-10.1zM339.1 16.0h5.4v6.4h-5.4zM348.6 16.0h10.1v6.4h-10.1zM244.0 21.8h14.9v6.4h-14.9zM286.8 21.8h10.1v6.4h-10.1zM320.1 21.8h5.4v6.4h-5.4zM391.4 21.8h10.1v6.4h-10.1zM244.0 27.6h10.1v6.4h-10.1zM286.8 27.6h19.6v6.4h-19.6zM310.6 27.6h10.1v6.4h-10.1zM381.9 27.6h24.4v6.4h-24.4zM244.0 33.4h10.1v6.4h-10.1zM286.8 33.4h14.9v6.4h-14.9zM305.8 33.4h19.6v6.4h-19.6zM362.9 33.4h19.6v6.4h-19.6zM386.7 33.4h29.1v6.4h-29.1zM244.0 39.2h10.1v6.4h-10.1zM286.8 39.2h14.9v6.4h-14.9zM305.8 39.2h10.1v6.4h-10.1zM320.1 39.2h5.4v6.4h-5.4zM339.1 39.2h5.4v6.4h-5.4zM362.9 39.2h19.6v6.4h-19.6zM386.7 39.2h29.1v6.4h-29.1zM244.0 45.0h10.1v6.4h-10.1zM286.8 45.0h14.9v6.4h-14.9zM310.6 45.0h5.4v6.4h-5.4zM324.8 45.0h5.4v6.4h-5.4zM339.1 45.0h14.9v6.4h-14.9zM362.9 45.0h14.9v6.4h-14.9zM391.4 45.0h24.4v6.4h-24.4zM244.0 50.8h10.1v6.4h-10.1zM286.8 50.8h10.1v6.4h-10.1zM310.6 50.8h5.4v6.4h-5.4zM324.8 50.8h29.1v6.4h-29.1zM367.6 50.8h10.1v6.4h-10.1zM391.4 50.8h24.4v6.4h-24.4zM244.0 56.7h10.1v6.4h-10.1zM286.8 56.7h10.1v6.4h-10.1zM310.6 56.7h5.4v6.4h-5.4zM324.8 56.7h14.9v6.4h-14.9zM343.9 56.7h14.9v6.4h-14.9zM367.6 56.7h10.1v6.4h-10.1zM391.4 56.7h24.4v6.4h-24.4zM244.0 62.5h10.1v6.4h-10.1zM286.8 62.5h43.4v6.4h-43.4zM339.1 62.5h5.4v6.4h-5.4zM348.6 62.5h14.9v6.4h-14.9zM396.2 62.5h5.4v6.4h-5.4zM244.0 68.3h10.1v6.4h-10.1zM286.8 68.3h57.7v6.4h-57.7zM353.4 68.3h14.9v6.4h-14.9zM244.0 74.1h10.1v6.4h-10.1zM286.8 74.1h52.9v6.4h-52.9zM358.1 74.1h10.1v6.4h-10.1zM244.0 79.9h10.1v6.4h-10.1zM282.0 79.9h43.4v6.4h-43.4zM329.6 79.9h10.1v6.4h-10.1zM358.1 79.9h10.1v6.4h-10.1zM244.0 85.7h10.1v6.4h-10.1zM277.3 85.7h48.2v6.4h-48.2zM329.6 85.7h10.1v6.4h-10.1zM343.9 85.7h5.4v6.4h-5.4zM362.9 85.7h5.4v6.4h-5.4zM244.0 91.5h10.1v6.4h-10.1zM272.5 91.5h57.7v6.4h-57.7zM334.4 91.5h5.4v6.4h-5.4zM343.9 91.5h5.4v6.4h-5.4zM358.1 91.5h10.1v6.4h-10.1z" fill="#fff"/></mask><rect x="244.3" y="10.5" width="171.2" height="87.1" fill="url(#hb)" mask="url(#mb1D)"/><mask id="mb1R" maskUnits="userSpaceOnUse" x="239.3" y="5.5" width="181.2" height="97.1"><path filter="url(#bl2)" d="M267.8 21.8h5.4v6.4h-5.4zM277.3 21.8h5.4v6.4h-5.4zM329.6 21.8h5.4v6.4h-5.4zM277.3 27.6h5.4v6.4h-5.4zM329.6 27.6h14.9v6.4h-14.9zM315.3 45.0h5.4v6.4h-5.4zM353.4 45.0h5.4v6.4h-5.4zM353.4 50.8h5.4v6.4h-5.4zM367.6 79.9h5.4v6.4h-5.4zM367.6 85.7h10.1v6.4h-10.1zM367.6 91.5h5.4v6.4h-5.4z" fill="#fff"/></mask><rect x="244.3" y="10.5" width="171.2" height="87.1" fill="url(#hr)" mask="url(#mb1R)"/></g><path d="M362.7 55.2 L364.4 53.5 L366.3 53.2 L368.2 54.0 L367.9 55.5 L367.7 59.3 L366.0 61.3 L364.1 61.6 L362.5 59.3 L362.5 57.0ZM356.5 63.6 L357.0 63.9 L357.5 67.1 L358.4 70.3 L359.9 73.2 L360.8 76.1 L361.0 78.7 L360.3 79.6 L359.4 77.9 L357.7 74.4 L356.8 71.5 L356.3 68.0ZM367.9 81.6 L369.1 82.5 L369.6 86.0 L370.1 88.9 L370.3 91.8 L371.0 95.6 L370.1 95.9 L369.1 93.5 L368.4 90.3 L367.9 86.0ZM372.5 41.0 L373.4 41.3 L373.9 44.5 L373.9 46.8 L373.2 46.5 L372.7 43.9ZM286.4 29.1 L287.6 28.8 L288.1 32.3 L287.3 35.5 L286.6 33.7 L285.9 30.8ZM375.1 18.3 L376.3 18.3 L376.5 20.1 L375.6 20.4ZM359.4 49.7 L359.9 48.5 L361.8 47.7 L361.3 48.8 L359.6 50.9ZM356.1 59.0 L356.8 59.0 L356.5 61.3 L355.8 61.0ZM354.6 79.3 L356.1 78.7 L356.3 81.3 L355.1 81.6ZM319.2 14.0 L321.6 13.7 L321.8 16.3 L320.2 17.2 L318.7 15.7ZM357.5 86.0 L358.4 85.7 L358.7 87.7 L357.5 87.4Z" fill="#fff" stroke="#222" stroke-width="0.5"/><path d="M249.1 3.2 L247.9 7.6 L246.4 10.5 L245.5 11.4 L246.7 12.2 L247.2 14.0 L247.4 15.4 L247.2 17.8 L248.1 19.2 L250.2 20.7 L251.4 22.4 L252.4 23.6 L253.8 25.6 L255.5 27.3 L255.7 29.4 L256.7 31.4 L258.6 33.1 L260.0 34.3 L261.4 35.8 L264.5 38.4 L266.9 40.4 L269.0 41.4 L271.6 40.7 L275.2 39.2 L277.6 38.8 L280.0 39.2 L282.3 40.3 L284.7 39.2 L287.1 37.8 L289.5 36.9 L293.0 35.8 L295.2 35.5 L297.8 36.3 L299.5 38.1 L300.4 40.7 L301.8 41.6 L303.7 41.3 L306.1 40.7 L307.8 41.0 L309.0 42.4 L310.2 44.2 L310.4 47.1 L310.4 51.1 L309.5 53.2 L309.2 54.9 L308.0 56.1 L309.0 58.4 L310.9 62.2 L313.3 65.1 L315.2 68.0 L316.1 70.3 L316.3 71.8 L317.8 75.2 L318.5 79.6 L319.0 81.6 L319.9 85.1 L319.7 88.0 L319.2 90.1 L317.1 93.0 L316.3 95.6 L315.9 98.2 L315.6 102.0 L381.0 102.0 L383.6 98.2 L384.1 96.1 L383.6 91.8 L383.4 87.4 L383.2 84.5 L381.5 81.1 L380.5 78.1 L380.5 74.4 L379.6 72.9 L380.1 70.0 L380.3 67.7 L381.5 65.7 L382.4 63.6 L382.9 61.6 L384.6 59.9 L386.0 58.7 L388.2 55.5 L390.5 51.7 L392.9 49.4 L394.8 48.2 L397.7 45.3 L400.3 41.6 L402.4 38.1 L404.3 33.7 L405.8 29.4 L407.4 25.0 L408.6 23.3 L409.1 19.8 L407.2 19.5 L404.8 21.2 L402.4 21.5 L398.9 22.4 L396.0 23.0 L394.1 23.9 L391.7 23.6 L390.3 21.2 L388.9 20.7 L389.8 19.8 L390.1 18.0 L388.6 16.3 L387.0 14.0 L384.6 12.0 L382.2 9.6 L381.0 8.8 L379.8 6.1 L378.6 3.2ZM388.2 3.2 L388.6 6.1 L388.9 9.6 L389.1 11.1 L389.8 13.4 L390.1 15.4 L390.5 17.2 L391.7 17.5 L394.1 16.9 L396.5 15.1 L400.0 13.7 L402.9 13.4 L404.8 11.7 L407.2 10.5 L411.2 8.8 L413.1 7.0 L417.9 3.8 L421.4 2.1 L421.4 0.3 L388.2 0.3ZM404.3 88.7 L405.0 90.3 L405.8 92.4 L406.5 96.1 L406.7 98.5 L407.2 102.0 L392.9 102.0 L396.5 100.2 L399.1 97.6 L400.8 94.7 L401.9 93.0 L403.1 90.3ZM413.8 17.5 L415.5 17.2 L416.7 17.8 L415.5 18.3 L414.1 18.0ZM307.3 43.3 L308.3 43.0 L308.3 44.5 L307.5 44.8Z" fill="none" stroke="#0a0a0a" stroke-width="1.1" stroke-linejoin="round"/><path d="M258.1 11.4 L260.0 18.0M247.4 14.6 L254.3 14.9M247.4 16.0 L254.3 15.4M247.4 18.2 L254.5 17.5 L260.0 18.0M254.5 17.5 L254.5 20.1 L251.4 22.4M255.5 27.9 L257.6 25.3 L260.5 25.0 L261.9 27.0 L261.9 30.0 L259.8 34.0M261.9 30.0 L264.5 29.4 L266.9 32.0M266.9 32.0 L269.3 37.2 L269.3 41.3M260.0 18.0 L262.1 19.5 L265.7 18.0 L267.4 21.2 L268.1 24.4M268.1 24.4 L268.3 28.5 L266.9 32.0M268.1 24.4 L274.0 23.9 L275.9 25.9 L280.7 26.5M274.3 23.9 L274.7 21.0 L276.6 17.8 L280.0 14.6 L284.7 10.5 L287.6 10.8M280.7 26.5 L280.2 31.1 L279.5 36.0 L280.2 39.5M280.7 26.5 L280.4 22.1 L287.1 22.1M287.1 22.1 L288.3 25.0 L288.5 30.2 L290.0 36.3M289.2 22.1 L290.4 26.8 L290.9 36.0M287.1 22.1 L289.2 22.1 L292.6 19.8 L292.8 18.3M287.6 10.8 L288.1 14.3 L289.5 16.3 L292.3 17.5 L292.8 18.3M293.5 35.5 L293.5 27.6 L295.7 23.9 L295.7 20.1M292.8 18.3 L295.7 20.1M295.7 20.1 L296.8 14.9 L301.4 14.3 L306.1 16.0 L310.9 15.7 L316.3 16.0 L319.4 14.3 L320.9 16.0M307.5 40.4 L308.5 36.0 L310.9 33.7 L315.2 33.4 L315.6 30.8 L318.0 26.5 L318.7 24.4 L319.9 22.1 L321.8 19.2 L320.9 16.0M321.8 19.2 L322.8 22.4 L324.0 25.0 L320.4 26.5 L324.0 32.3M324.0 32.3 L321.6 38.1 L321.8 41.9 L323.2 45.3 L325.4 47.7M310.4 47.7 L314.0 47.7 L318.7 47.7 L325.4 47.7M314.0 47.7 L314.0 51.1 L309.9 51.1M318.7 47.7 L318.5 50.6 L321.6 55.5 L321.1 59.9 L316.8 61.0 L313.5 65.4M331.3 43.9 L329.2 55.5 L326.1 59.9 L324.0 66.2 L318.2 67.4 L315.6 68.6M325.4 47.7 L326.8 43.9 L331.3 43.9M331.3 43.9 L334.7 41.6 L340.4 42.1 L345.4 39.2 L348.9 39.0 L352.3 39.2M324.0 32.3 L326.8 32.3 L331.1 28.2 L337.0 26.5 L339.4 22.4 L341.6 22.1M341.6 22.1 L343.5 28.8 L346.5 32.3 L350.1 35.8 L352.3 39.2M341.6 22.1 L340.6 17.5 L339.9 14.0 L341.8 10.5 L344.2 8.5M343.5 28.8 L346.5 24.4 L350.1 26.2 L353.2 26.2 L358.4 24.1 L363.2 18.9 L366.0 18.6 L367.9 25.0M367.9 25.0 L368.4 29.4 L365.6 31.4 L367.7 36.6 L371.5 40.7M371.5 40.7 L368.9 40.7 L367.7 42.4M367.7 42.4 L363.2 43.6 L360.3 43.9M352.3 39.2 L356.1 41.3 L360.3 43.9M360.3 43.9 L361.5 47.7 L358.4 50.6 L357.5 57.8M367.9 25.0 L368.7 23.6 L372.0 17.2 L373.7 13.7 L373.9 12.5 L375.1 4.7M373.9 12.5 L376.3 12.8 L379.8 11.7 L382.2 12.2 L385.8 15.4 L387.9 17.8M387.9 17.8 L386.5 20.1 L387.0 22.1 L388.9 22.1M388.9 22.1 L390.1 25.3 L391.7 27.9 L401.0 30.8 L394.1 39.8 L391.0 40.7 L387.2 41.9M387.2 41.9 L384.6 42.7 L381.0 43.9 L377.5 43.6 L372.7 41.0 L371.5 40.7M387.2 41.9 L384.6 45.9 L384.6 56.4 L386.0 58.7M367.7 42.4 L369.1 45.3 L370.3 49.1 L367.9 53.2 L367.7 54.0 L367.9 57.0M367.9 57.0 L376.5 63.1 L380.3 67.7M357.5 57.0 L367.7 57.0M357.5 57.8 L359.6 57.2 L360.6 61.0M356.1 58.4 L356.5 62.2 L356.1 67.1M356.1 62.2 L359.6 61.0M359.6 61.0 L360.3 63.6 L358.9 66.2 L357.2 67.1M357.0 67.1 L359.9 77.9M359.9 77.9 L355.8 78.7 L355.3 81.9 L354.6 86.0 L356.1 90.1 L357.2 92.4 L352.5 88.9 L347.7 87.4 L344.2 86.0M316.3 71.5 L325.9 71.2 L328.9 77.6 L333.2 77.3 L333.2 74.7 L338.9 75.2 L339.4 81.1 L343.9 85.4 L344.2 86.0M344.2 86.0 L344.2 91.8 L339.4 91.8 L339.4 101.1M359.9 77.9 L365.3 81.3M365.3 81.3 L366.0 85.7 L365.6 90.3 L364.9 93.5M365.3 81.3 L367.9 81.6 L369.4 87.7M369.4 87.7 L370.3 95.3 L372.2 96.1 L371.0 100.8M369.4 87.7 L376.3 87.7 L383.2 84.5M364.9 93.5 L359.4 99.3M390.3 16.9 L390.3 16.3" fill="none" stroke="#111" stroke-width="0.85" stroke-linejoin="round"/><rect x="302.3" y="52.7" width="1" height="1" fill="#222"/><rect x="304.2" y="48.9" width="1" height="1" fill="#222"/><rect x="299.9" y="57.6" width="1" height="1" fill="#222"/><rect x="380.0" y="71.3" width="1" height="1" fill="#222"/><rect x="381.0" y="68.4" width="1" height="1" fill="#222"/><rect x="389.6" y="87.2" width="1" height="1" fill="#222"/><rect x="390.0" y="88.1" width="1" height="1" fill="#222"/><rect x="390.7" y="89.3" width="1" height="1" fill="#222"/><rect x="392.2" y="89.0" width="1" height="1" fill="#222"/><rect x="393.8" y="90.7" width="1" height="1" fill="#222"/><rect x="396.7" y="80.8" width="1" height="1" fill="#222"/><rect x="399.5" y="81.7" width="1" height="1" fill="#222"/><rect x="252.4" y="76.5" width="1" height="1" fill="#222"/><rect x="418.6" y="66.9" width="1" height="1" fill="#222"/><rect x="412.6" y="72.4" width="1" height="1" fill="#222"/></g><rect x="244.3" y="10.5" width="171.2" height="87.1" fill="none" stroke="#777" stroke-width="0.9"/><line x1="242.1" y1="10.5" x2="244.3" y2="10.5" stroke="#333" stroke-width="0.8"/><text x="240.0" y="15.4" class="tk" text-anchor="end">15°N</text><line x1="242.1" y1="25.0" x2="244.3" y2="25.0" stroke="#333" stroke-width="0.8"/><text x="240.0" y="29.9" class="tk" text-anchor="end">10°N</text><line x1="242.1" y1="39.5" x2="244.3" y2="39.5" stroke="#333" stroke-width="0.8"/><text x="240.0" y="44.4" class="tk" text-anchor="end">5°N</text><line x1="242.1" y1="54.0" x2="244.3" y2="54.0" stroke="#333" stroke-width="0.8"/><text x="240.0" y="58.9" class="tk" text-anchor="end">0°</text><line x1="242.1" y1="68.6" x2="244.3" y2="68.6" stroke="#333" stroke-width="0.8"/><text x="240.0" y="73.5" class="tk" text-anchor="end">5°S</text><line x1="242.1" y1="83.1" x2="244.3" y2="83.1" stroke="#333" stroke-width="0.8"/><text x="240.0" y="88.0" class="tk" text-anchor="end">10°S</text><line x1="242.1" y1="97.6" x2="244.3" y2="97.6" stroke="#333" stroke-width="0.8"/><text x="240.0" y="101.2" class="tk" text-anchor="end">15°S</text><line x1="287.1" y1="10.5" x2="287.1" y2="12.5" stroke="#333" stroke-width="0.8"/><line x1="329.9" y1="10.5" x2="329.9" y2="12.5" stroke="#333" stroke-width="0.8"/><line x1="372.7" y1="10.5" x2="372.7" y2="12.5" stroke="#333" stroke-width="0.8"/><line x1="415.5" y1="10.5" x2="415.5" y2="12.5" stroke="#333" stroke-width="0.8"/><line x1="244.3" y1="97.6" x2="244.3" y2="99.6" stroke="#333" stroke-width="0.8"/><line x1="287.1" y1="97.6" x2="287.1" y2="99.6" stroke="#333" stroke-width="0.8"/><line x1="329.9" y1="97.6" x2="329.9" y2="99.6" stroke="#333" stroke-width="0.8"/><line x1="372.7" y1="97.6" x2="372.7" y2="99.6" stroke="#333" stroke-width="0.8"/><line x1="415.5" y1="97.6" x2="415.5" y2="99.6" stroke="#333" stroke-width="0.8"/><text x="247.7" y="7.4" class="tt" textLength="80.9" lengthAdjust="spacingAndGlyphs">(b1) ANNUAL, (corr AET-SST)</text><text transform="translate(220.9 54.8) rotate(-90)" class="yl" text-anchor="middle" textLength="53.0" lengthAdjust="spacingAndGlyphs">correlation&#160; AET-SST</text><clipPath id="ca2"><rect x="37.2" y="114.5" width="170.6" height="87.2"/></clipPath><clipPath id="la2"><path d="M41.9 107.2 L40.8 111.6 L39.3 114.5 L38.4 115.4 L39.6 116.2 L40.0 118.0 L40.3 119.4 L40.0 121.8 L41.0 123.2 L43.1 124.7 L44.3 126.4 L45.3 127.6 L46.7 129.6 L48.3 131.4 L48.6 133.4 L49.5 135.4 L51.4 137.2 L52.8 138.3 L54.3 139.8 L57.3 142.4 L59.7 144.4 L61.8 145.5 L64.4 144.7 L68.0 143.3 L70.4 142.8 L72.7 143.3 L75.1 144.3 L77.5 143.3 L79.9 141.8 L82.2 141.0 L85.8 139.8 L87.9 139.5 L90.5 140.4 L92.2 142.1 L93.1 144.7 L94.5 145.6 L96.4 145.3 L98.8 144.7 L100.5 145.0 L101.6 146.5 L102.8 148.2 L103.1 151.1 L103.1 155.2 L102.1 157.2 L101.9 159.0 L100.7 160.1 L101.6 162.5 L103.5 166.2 L105.9 169.1 L107.8 172.1 L108.8 174.4 L109.0 175.8 L110.4 179.3 L111.1 183.7 L111.6 185.7 L112.5 189.2 L112.3 192.1 L111.8 194.1 L109.7 197.0 L109.0 199.7 L108.5 202.3 L108.3 206.1 L173.4 206.1 L176.0 202.3 L176.5 200.2 L176.0 195.9 L175.8 191.5 L175.6 188.6 L173.9 185.1 L173.0 182.2 L173.0 178.4 L172.0 177.0 L172.5 174.1 L172.7 171.8 L173.9 169.7 L174.9 167.7 L175.3 165.7 L177.0 163.9 L178.4 162.8 L180.6 159.6 L182.9 155.8 L185.3 153.4 L187.2 152.3 L190.0 149.4 L192.6 145.6 L194.8 142.1 L196.7 137.8 L198.1 133.4 L199.7 129.0 L200.9 127.3 L201.4 123.8 L199.5 123.5 L197.1 125.3 L194.8 125.5 L191.2 126.4 L188.4 127.0 L186.5 127.9 L184.1 127.6 L182.7 125.3 L181.3 124.7 L182.2 123.8 L182.4 122.1 L181.0 120.3 L179.4 118.0 L177.0 116.0 L174.6 113.6 L173.4 112.8 L172.3 110.1 L171.1 107.2ZM180.6 107.2 L181.0 110.1 L181.3 113.6 L181.5 115.1 L182.2 117.4 L182.4 119.4 L182.9 121.2 L184.1 121.5 L186.5 120.9 L188.8 119.2 L192.4 117.7 L195.2 117.4 L197.1 115.7 L199.5 114.5 L203.5 112.8 L205.4 111.0 L210.2 107.8 L213.7 106.1 L213.7 104.3 L180.6 104.3ZM196.7 192.8 L197.4 194.4 L198.1 196.5 L198.8 200.2 L199.0 202.6 L199.5 206.1 L185.3 206.1 L188.8 204.3 L191.5 201.7 L193.1 198.8 L194.3 197.0 L195.5 194.4ZM206.1 121.5 L207.8 121.2 L209.0 121.8 L207.8 122.3 L206.4 122.1ZM100.0 147.3 L100.9 147.1 L100.9 148.5 L100.2 148.8Z"/></clipPath><g clip-path="url(#ca2)"><g clip-path="url(#la2)"><g filter="url(#bl)"><path d="M36.9 114.2h10.1v6.4h-10.1zM141.2 114.2h14.8v6.4h-14.8zM164.9 114.2h5.3v6.4h-5.3zM174.3 114.2h5.3v6.4h-5.3zM36.9 120.0h19.6v6.4h-19.6zM74.8 120.0h5.3v6.4h-5.3zM131.7 120.0h19.6v6.4h-19.6zM155.4 120.0h5.3v6.4h-5.3zM164.9 120.0h5.3v6.4h-5.3zM174.3 120.0h5.3v6.4h-5.3zM36.9 125.8h24.3v6.4h-24.3zM136.4 125.8h5.3v6.4h-5.3zM150.6 125.8h5.3v6.4h-5.3zM164.9 125.8h10.1v6.4h-10.1zM36.9 131.6h24.3v6.4h-24.3zM65.3 131.6h5.3v6.4h-5.3zM74.8 131.6h19.6v6.4h-19.6zM98.5 131.6h5.3v6.4h-5.3zM136.4 131.6h5.3v6.4h-5.3zM145.9 131.6h10.1v6.4h-10.1zM36.9 137.5h19.6v6.4h-19.6zM65.3 137.5h5.3v6.4h-5.3zM74.8 137.5h14.8v6.4h-14.8zM112.7 137.5h5.3v6.4h-5.3zM126.9 137.5h14.8v6.4h-14.8zM160.1 137.5h5.3v6.4h-5.3zM36.9 143.3h19.6v6.4h-19.6zM65.3 143.3h5.3v6.4h-5.3zM74.8 143.3h14.8v6.4h-14.8zM93.8 143.3h5.3v6.4h-5.3zM108.0 143.3h10.1v6.4h-10.1zM136.4 143.3h5.3v6.4h-5.3zM155.4 143.3h5.3v6.4h-5.3zM36.9 149.1h19.6v6.4h-19.6zM65.3 149.1h5.3v6.4h-5.3zM74.8 149.1h14.8v6.4h-14.8zM93.8 149.1h10.1v6.4h-10.1zM108.0 149.1h10.1v6.4h-10.1zM150.6 149.1h14.8v6.4h-14.8zM36.9 154.9h19.6v6.4h-19.6zM65.3 154.9h5.3v6.4h-5.3zM74.8 154.9h43.3v6.4h-43.3zM150.6 154.9h14.8v6.4h-14.8zM36.9 160.7h19.6v6.4h-19.6zM65.3 160.7h5.3v6.4h-5.3zM74.8 160.7h43.3v6.4h-43.3zM36.9 166.5h19.6v6.4h-19.6zM65.3 166.5h5.3v6.4h-5.3zM74.8 166.5h33.8v6.4h-33.8zM36.9 172.3h19.6v6.4h-19.6zM65.3 172.3h5.3v6.4h-5.3zM74.8 172.3h33.8v6.4h-33.8zM145.9 172.3h5.3v6.4h-5.3zM36.9 178.1h19.6v6.4h-19.6zM65.3 178.1h5.3v6.4h-5.3zM74.8 178.1h5.3v6.4h-5.3zM145.9 178.1h5.3v6.4h-5.3zM36.9 184.0h19.6v6.4h-19.6zM65.3 184.0h5.3v6.4h-5.3zM74.8 184.0h38.5v6.4h-38.5zM155.4 184.0h5.3v6.4h-5.3zM36.9 189.8h19.6v6.4h-19.6zM65.3 189.8h48.0v6.4h-48.0zM36.9 195.6h19.6v6.4h-19.6zM65.3 195.6h48.0v6.4h-48.0zM155.4 195.6h5.3v6.4h-5.3z" fill="#c0d3f6"/><path d="M46.4 114.2h5.3v6.4h-5.3zM160.1 114.2h5.3v6.4h-5.3zM169.6 114.2h5.3v6.4h-5.3zM160.1 120.0h5.3v6.4h-5.3zM169.6 120.0h5.3v6.4h-5.3zM179.1 120.0h5.3v6.4h-5.3zM155.4 125.8h10.1v6.4h-10.1zM60.6 131.6h5.3v6.4h-5.3zM70.1 131.6h5.3v6.4h-5.3zM155.4 131.6h10.1v6.4h-10.1zM55.9 137.5h10.1v6.4h-10.1zM70.1 137.5h5.3v6.4h-5.3zM89.0 137.5h10.1v6.4h-10.1zM155.4 137.5h5.3v6.4h-5.3zM55.9 143.3h10.1v6.4h-10.1zM70.1 143.3h5.3v6.4h-5.3zM89.0 143.3h5.3v6.4h-5.3zM117.5 143.3h19.6v6.4h-19.6zM55.9 149.1h10.1v6.4h-10.1zM70.1 149.1h5.3v6.4h-5.3zM89.0 149.1h5.3v6.4h-5.3zM117.5 149.1h5.3v6.4h-5.3zM145.9 149.1h5.3v6.4h-5.3zM55.9 154.9h10.1v6.4h-10.1zM70.1 154.9h5.3v6.4h-5.3zM117.5 154.9h5.3v6.4h-5.3zM126.9 154.9h10.1v6.4h-10.1zM145.9 154.9h5.3v6.4h-5.3zM55.9 160.7h10.1v6.4h-10.1zM70.1 160.7h5.3v6.4h-5.3zM117.5 160.7h5.3v6.4h-5.3zM55.9 166.5h10.1v6.4h-10.1zM70.1 166.5h5.3v6.4h-5.3zM122.2 166.5h5.3v6.4h-5.3zM136.4 166.5h5.3v6.4h-5.3zM55.9 172.3h10.1v6.4h-10.1zM70.1 172.3h5.3v6.4h-5.3zM55.9 178.1h10.1v6.4h-10.1zM70.1 178.1h5.3v6.4h-5.3zM55.9 184.0h10.1v6.4h-10.1zM70.1 184.0h5.3v6.4h-5.3zM55.9 189.8h10.1v6.4h-10.1zM55.9 195.6h10.1v6.4h-10.1z" fill="#f3cbb6"/><path d="M51.1 114.2h62.2v6.4h-62.2zM117.5 114.2h24.3v6.4h-24.3zM155.4 114.2h5.3v6.4h-5.3zM55.9 120.0h19.6v6.4h-19.6zM79.6 120.0h52.7v6.4h-52.7zM150.6 120.0h5.3v6.4h-5.3zM183.8 120.0h24.3v6.4h-24.3zM65.3 125.8h5.3v6.4h-5.3zM74.8 125.8h10.1v6.4h-10.1zM89.0 125.8h48.0v6.4h-48.0zM141.2 125.8h10.1v6.4h-10.1zM174.3 125.8h33.8v6.4h-33.8zM93.8 131.6h5.3v6.4h-5.3zM103.2 131.6h33.8v6.4h-33.8zM141.2 131.6h5.3v6.4h-5.3zM164.9 131.6h43.3v6.4h-43.3zM103.2 137.5h10.1v6.4h-10.1zM117.5 137.5h10.1v6.4h-10.1zM141.2 137.5h14.8v6.4h-14.8zM164.9 137.5h43.3v6.4h-43.3zM98.5 143.3h5.3v6.4h-5.3zM141.2 143.3h10.1v6.4h-10.1zM160.1 143.3h48.0v6.4h-48.0zM103.2 149.1h5.3v6.4h-5.3zM141.2 149.1h5.3v6.4h-5.3zM164.9 149.1h43.3v6.4h-43.3zM141.2 154.9h5.3v6.4h-5.3zM164.9 154.9h43.3v6.4h-43.3zM141.2 160.7h66.9v6.4h-66.9zM117.5 166.5h5.3v6.4h-5.3zM141.2 166.5h66.9v6.4h-66.9zM117.5 172.3h29.0v6.4h-29.0zM150.6 172.3h57.5v6.4h-57.5zM117.5 178.1h29.0v6.4h-29.0zM150.6 178.1h57.5v6.4h-57.5zM112.7 184.0h43.3v6.4h-43.3zM160.1 184.0h48.0v6.4h-48.0zM112.7 189.8h95.4v6.4h-95.4zM112.7 195.6h43.3v6.4h-43.3zM160.1 195.6h48.0v6.4h-48.0z" fill="#6a8cf0"/><path d="M112.7 114.2h5.3v6.4h-5.3zM179.1 114.2h29.0v6.4h-29.0zM150.6 143.3h5.3v6.4h-5.3z" fill="#ececec"/><path d="M60.6 125.8h5.3v6.4h-5.3zM70.1 125.8h5.3v6.4h-5.3zM84.3 125.8h5.3v6.4h-5.3zM98.5 137.5h5.3v6.4h-5.3zM103.2 143.3h5.3v6.4h-5.3z" fill="#7f9ff7"/><path d="M122.2 149.1h19.6v6.4h-19.6zM122.2 154.9h5.3v6.4h-5.3zM136.4 154.9h5.3v6.4h-5.3zM122.2 160.7h19.6v6.4h-19.6zM108.0 166.5h10.1v6.4h-10.1zM126.9 166.5h10.1v6.4h-10.1zM108.0 172.3h10.1v6.4h-10.1zM79.6 178.1h38.5v6.4h-38.5z" fill="#ec9a78"/></g><mask id="ma2D" maskUnits="userSpaceOnUse" x="32.2" y="109.5" width="180.6" height="97.2"><path filter="url(#bl2)" d="M51.1 114.2h62.2v6.4h-62.2zM117.5 114.2h24.3v6.4h-24.3zM155.4 114.2h5.3v6.4h-5.3zM55.9 120.0h19.6v6.4h-19.6zM79.6 120.0h52.7v6.4h-52.7zM150.6 120.0h5.3v6.4h-5.3zM183.8 120.0h24.3v6.4h-24.3zM65.3 125.8h5.3v6.4h-5.3zM74.8 125.8h10.1v6.4h-10.1zM89.0 125.8h48.0v6.4h-48.0zM141.2 125.8h10.1v6.4h-10.1zM174.3 125.8h33.8v6.4h-33.8zM93.8 131.6h5.3v6.4h-5.3zM103.2 131.6h33.8v6.4h-33.8zM141.2 131.6h5.3v6.4h-5.3zM164.9 131.6h43.3v6.4h-43.3zM103.2 137.5h10.1v6.4h-10.1zM117.5 137.5h10.1v6.4h-10.1zM141.2 137.5h14.8v6.4h-14.8zM164.9 137.5h43.3v6.4h-43.3zM98.5 143.3h5.3v6.4h-5.3zM141.2 143.3h10.1v6.4h-10.1zM160.1 143.3h48.0v6.4h-48.0zM103.2 149.1h5.3v6.4h-5.3zM141.2 149.1h5.3v6.4h-5.3zM164.9 149.1h43.3v6.4h-43.3zM141.2 154.9h5.3v6.4h-5.3zM164.9 154.9h43.3v6.4h-43.3zM141.2 160.7h66.9v6.4h-66.9zM117.5 166.5h5.3v6.4h-5.3zM141.2 166.5h66.9v6.4h-66.9zM117.5 172.3h29.0v6.4h-29.0zM150.6 172.3h57.5v6.4h-57.5zM117.5 178.1h29.0v6.4h-29.0zM150.6 178.1h57.5v6.4h-57.5zM112.7 184.0h43.3v6.4h-43.3zM160.1 184.0h48.0v6.4h-48.0zM112.7 189.8h95.4v6.4h-95.4zM112.7 195.6h43.3v6.4h-43.3zM160.1 195.6h48.0v6.4h-48.0z" fill="#fff"/></mask><rect x="37.2" y="114.5" width="170.6" height="87.2" fill="url(#hb)" mask="url(#ma2D)"/><mask id="ma2R" maskUnits="userSpaceOnUse" x="32.2" y="109.5" width="180.6" height="97.2"><path filter="url(#bl2)" d="M122.2 149.1h19.6v6.4h-19.6zM122.2 154.9h5.3v6.4h-5.3zM136.4 154.9h5.3v6.4h-5.3zM122.2 160.7h19.6v6.4h-19.6zM108.0 166.5h10.1v6.4h-10.1zM126.9 166.5h10.1v6.4h-10.1zM108.0 172.3h10.1v6.4h-10.1zM79.6 178.1h38.5v6.4h-38.5z" fill="#fff"/></mask><rect x="37.2" y="114.5" width="170.6" height="87.2" fill="url(#hr)" mask="url(#ma2R)"/></g><path d="M155.2 159.3 L156.9 157.5 L158.8 157.2 L160.6 158.1 L160.4 159.6 L160.2 163.3 L158.5 165.4 L156.6 165.7 L155.0 163.3 L155.0 161.0ZM149.0 167.7 L149.5 168.0 L150.0 171.2 L150.9 174.4 L152.4 177.3 L153.3 180.2 L153.5 182.8 L152.8 183.7 L151.9 181.9 L150.2 178.4 L149.3 175.5 L148.8 172.1ZM160.4 185.7 L161.6 186.6 L162.1 190.1 L162.5 193.0 L162.8 195.9 L163.5 199.7 L162.5 200.0 L161.6 197.6 L160.9 194.4 L160.4 190.1ZM164.9 145.0 L165.9 145.3 L166.3 148.5 L166.3 150.8 L165.6 150.5 L165.2 147.9ZM79.1 133.1 L80.3 132.8 L80.8 136.3 L80.1 139.5 L79.4 137.8 L78.7 134.8ZM167.5 122.3 L168.7 122.3 L168.9 124.1 L168.0 124.4ZM151.9 153.7 L152.4 152.6 L154.3 151.7 L153.8 152.9 L152.1 154.9ZM148.6 163.0 L149.3 163.0 L149.0 165.4 L148.3 165.1ZM147.1 183.4 L148.6 182.8 L148.8 185.4 L147.6 185.7ZM111.8 118.0 L114.2 117.7 L114.4 120.3 L112.8 121.2 L111.4 119.7ZM150.0 190.1 L150.9 189.8 L151.2 191.8 L150.0 191.5Z" fill="#fff" stroke="#222" stroke-width="0.5"/><path d="M41.9 107.2 L40.8 111.6 L39.3 114.5 L38.4 115.4 L39.6 116.2 L40.0 118.0 L40.3 119.4 L40.0 121.8 L41.0 123.2 L43.1 124.7 L44.3 126.4 L45.3 127.6 L46.7 129.6 L48.3 131.4 L48.6 133.4 L49.5 135.4 L51.4 137.2 L52.8 138.3 L54.3 139.8 L57.3 142.4 L59.7 144.4 L61.8 145.5 L64.4 144.7 L68.0 143.3 L70.4 142.8 L72.7 143.3 L75.1 144.3 L77.5 143.3 L79.9 141.8 L82.2 141.0 L85.8 139.8 L87.9 139.5 L90.5 140.4 L92.2 142.1 L93.1 144.7 L94.5 145.6 L96.4 145.3 L98.8 144.7 L100.5 145.0 L101.6 146.5 L102.8 148.2 L103.1 151.1 L103.1 155.2 L102.1 157.2 L101.9 159.0 L100.7 160.1 L101.6 162.5 L103.5 166.2 L105.9 169.1 L107.8 172.1 L108.8 174.4 L109.0 175.8 L110.4 179.3 L111.1 183.7 L111.6 185.7 L112.5 189.2 L112.3 192.1 L111.8 194.1 L109.7 197.0 L109.0 199.7 L108.5 202.3 L108.3 206.1 L173.4 206.1 L176.0 202.3 L176.5 200.2 L176.0 195.9 L175.8 191.5 L175.6 188.6 L173.9 185.1 L173.0 182.2 L173.0 178.4 L172.0 177.0 L172.5 174.1 L172.7 171.8 L173.9 169.7 L174.9 167.7 L175.3 165.7 L177.0 163.9 L178.4 162.8 L180.6 159.6 L182.9 155.8 L185.3 153.4 L187.2 152.3 L190.0 149.4 L192.6 145.6 L194.8 142.1 L196.7 137.8 L198.1 133.4 L199.7 129.0 L200.9 127.3 L201.4 123.8 L199.5 123.5 L197.1 125.3 L194.8 125.5 L191.2 126.4 L188.4 127.0 L186.5 127.9 L184.1 127.6 L182.7 125.3 L181.3 124.7 L182.2 123.8 L182.4 122.1 L181.0 120.3 L179.4 118.0 L177.0 116.0 L174.6 113.6 L173.4 112.8 L172.3 110.1 L171.1 107.2ZM180.6 107.2 L181.0 110.1 L181.3 113.6 L181.5 115.1 L182.2 117.4 L182.4 119.4 L182.9 121.2 L184.1 121.5 L186.5 120.9 L188.8 119.2 L192.4 117.7 L195.2 117.4 L197.1 115.7 L199.5 114.5 L203.5 112.8 L205.4 111.0 L210.2 107.8 L213.7 106.1 L213.7 104.3 L180.6 104.3ZM196.7 192.8 L197.4 194.4 L198.1 196.5 L198.8 200.2 L199.0 202.6 L199.5 206.1 L185.3 206.1 L188.8 204.3 L191.5 201.7 L193.1 198.8 L194.3 197.0 L195.5 194.4ZM206.1 121.5 L207.8 121.2 L209.0 121.8 L207.8 122.3 L206.4 122.1ZM100.0 147.3 L100.9 147.1 L100.9 148.5 L100.2 148.8Z" fill="none" stroke="#0a0a0a" stroke-width="1.1" stroke-linejoin="round"/><path d="M50.9 115.4 L52.8 122.1M40.3 118.6 L47.2 118.9M40.3 120.0 L47.2 119.4M40.3 122.2 L47.4 121.5 L52.8 122.1M47.4 121.5 L47.4 124.1 L44.3 126.4M48.3 131.9 L50.5 129.3 L53.3 129.0 L54.7 131.1 L54.7 134.0 L52.6 138.0M54.7 134.0 L57.3 133.4 L59.7 136.0M59.7 136.0 L62.1 141.2 L62.1 145.3M52.8 122.1 L55.0 123.5 L58.5 122.1 L60.2 125.3 L60.9 128.5M60.9 128.5 L61.1 132.5 L59.7 136.0M60.9 128.5 L66.8 127.9 L68.7 129.9 L73.5 130.5M67.1 127.9 L67.5 125.0 L69.4 121.8 L72.7 118.6 L77.5 114.5 L80.3 114.8M73.5 130.5 L73.0 135.1 L72.3 140.1 L73.0 143.6M73.5 130.5 L73.2 126.1 L79.9 126.1M79.9 126.1 L81.0 129.0 L81.3 134.3 L82.7 140.4M82.0 126.1 L83.2 130.8 L83.6 140.1M79.9 126.1 L82.0 126.1 L85.3 123.8 L85.5 122.3M80.3 114.8 L80.8 118.3 L82.2 120.3 L85.1 121.5 L85.5 122.3M86.2 139.5 L86.2 131.6 L88.4 127.9 L88.4 124.1M85.5 122.3 L88.4 124.1M88.4 124.1 L89.6 118.9 L94.1 118.3 L98.8 120.0 L103.5 119.7 L109.0 120.0 L112.1 118.3 L113.5 120.0M100.2 144.4 L101.2 140.1 L103.5 137.8 L107.8 137.5 L108.3 134.8 L110.7 130.5 L111.4 128.5 L112.5 126.1 L114.4 123.2 L113.5 120.0M114.4 123.2 L115.4 126.4 L116.6 129.0 L113.0 130.5 L116.6 136.3M116.6 136.3 L114.2 142.1 L114.4 145.9 L115.9 149.4 L118.0 151.7M103.1 151.7 L106.6 151.7 L111.4 151.7 L118.0 151.7M106.6 151.7 L106.6 155.2 L102.6 155.2M111.4 151.7 L111.1 154.6 L114.2 159.6 L113.7 163.9 L109.5 165.1 L106.2 169.4M123.9 147.9 L121.8 159.6 L118.7 163.9 L116.6 170.3 L110.9 171.5 L108.3 172.6M118.0 151.7 L119.4 147.9 L123.9 147.9M123.9 147.9 L127.2 145.6 L132.9 146.2 L137.9 143.3 L141.5 143.0 L144.8 143.3M116.6 136.3 L119.4 136.3 L123.7 132.2 L129.6 130.5 L132.0 126.4 L134.1 126.1M134.1 126.1 L136.0 132.8 L139.1 136.3 L142.6 139.8 L144.8 143.3M134.1 126.1 L133.2 121.5 L132.5 118.0 L134.3 114.5 L136.7 112.5M136.0 132.8 L139.1 128.5 L142.6 130.2 L145.7 130.2 L150.9 128.2 L155.7 122.9 L158.5 122.6 L160.4 129.0M160.4 129.0 L160.9 133.4 L158.0 135.4 L160.2 140.7 L164.0 144.7M164.0 144.7 L161.4 144.7 L160.2 146.5M160.2 146.5 L155.7 147.6 L152.8 147.9M144.8 143.3 L148.6 145.3 L152.8 147.9M152.8 147.9 L154.0 151.7 L150.9 154.6 L150.0 161.9M160.4 129.0 L161.1 127.6 L164.4 121.2 L166.1 117.7 L166.3 116.5 L167.5 108.7M166.3 116.5 L168.7 116.8 L172.3 115.7 L174.6 116.2 L178.2 119.4 L180.3 121.8M180.3 121.8 L178.9 124.1 L179.4 126.1 L181.3 126.1M181.3 126.1 L182.4 129.3 L184.1 131.9 L193.3 134.8 L186.5 143.9 L183.4 144.7 L179.6 145.9M179.6 145.9 L177.0 146.8 L173.4 147.9 L169.9 147.6 L165.2 145.0 L164.0 144.7M179.6 145.9 L177.0 150.0 L177.0 160.4 L178.4 162.8M160.2 146.5 L161.6 149.4 L162.8 153.2 L160.4 157.2 L160.2 158.1 L160.4 161.0M160.4 161.0 L168.9 167.1 L172.7 171.8M150.0 161.0 L160.2 161.0M150.0 161.9 L152.1 161.3 L153.1 165.1M148.6 162.5 L149.0 166.2 L148.6 171.2M148.6 166.2 L152.1 165.1M152.1 165.1 L152.8 167.7 L151.4 170.3 L149.7 171.2M149.5 171.2 L152.4 181.9M152.4 181.9 L148.3 182.8 L147.9 186.0 L147.1 190.1 L148.6 194.1 L149.7 196.5 L145.0 193.0 L140.3 191.5 L136.7 190.1M109.0 175.5 L118.5 175.2 L121.6 181.6 L125.8 181.4 L125.8 178.7 L131.5 179.3 L132.0 185.1 L136.5 189.5 L136.7 190.1M136.7 190.1 L136.7 195.9 L132.0 195.9 L132.0 205.2M152.4 181.9 L157.8 185.4M157.8 185.4 L158.5 189.8 L158.0 194.4 L157.3 197.6M157.8 185.4 L160.4 185.7 L161.8 191.8M161.8 191.8 L162.8 199.4 L164.7 200.2 L163.5 204.9M161.8 191.8 L168.7 191.8 L175.6 188.6M157.3 197.6 L151.9 203.4M182.7 120.9 L182.7 120.3" fill="none" stroke="#111" stroke-width="0.85" stroke-linejoin="round"/><rect x="95.0" y="156.7" width="1" height="1" fill="#222"/><rect x="96.9" y="152.9" width="1" height="1" fill="#222"/><rect x="92.6" y="161.7" width="1" height="1" fill="#222"/><rect x="172.5" y="175.3" width="1" height="1" fill="#222"/><rect x="173.4" y="172.4" width="1" height="1" fill="#222"/><rect x="181.9" y="191.3" width="1" height="1" fill="#222"/><rect x="182.4" y="192.2" width="1" height="1" fill="#222"/><rect x="183.1" y="193.4" width="1" height="1" fill="#222"/><rect x="184.6" y="193.1" width="1" height="1" fill="#222"/><rect x="186.2" y="194.8" width="1" height="1" fill="#222"/><rect x="189.1" y="184.9" width="1" height="1" fill="#222"/><rect x="191.9" y="185.8" width="1" height="1" fill="#222"/><rect x="45.2" y="180.6" width="1" height="1" fill="#222"/><rect x="210.9" y="171.0" width="1" height="1" fill="#222"/><rect x="204.9" y="176.5" width="1" height="1" fill="#222"/></g><rect x="37.2" y="114.5" width="170.6" height="87.2" fill="none" stroke="#777" stroke-width="0.9"/><line x1="35.0" y1="114.5" x2="37.2" y2="114.5" stroke="#333" stroke-width="0.8"/><text x="30.6" y="119.4" class="tk" text-anchor="end">15°N</text><line x1="35.0" y1="129.0" x2="37.2" y2="129.0" stroke="#333" stroke-width="0.8"/><text x="30.6" y="133.9" class="tk" text-anchor="end">10°N</text><line x1="35.0" y1="143.6" x2="37.2" y2="143.6" stroke="#333" stroke-width="0.8"/><text x="30.6" y="148.5" class="tk" text-anchor="end">5°N</text><line x1="35.0" y1="158.1" x2="37.2" y2="158.1" stroke="#333" stroke-width="0.8"/><text x="30.6" y="163.0" class="tk" text-anchor="end">0°</text><line x1="35.0" y1="172.6" x2="37.2" y2="172.6" stroke="#333" stroke-width="0.8"/><text x="30.6" y="177.5" class="tk" text-anchor="end">5°S</text><line x1="35.0" y1="187.2" x2="37.2" y2="187.2" stroke="#333" stroke-width="0.8"/><text x="30.6" y="192.1" class="tk" text-anchor="end">10°S</text><line x1="35.0" y1="201.7" x2="37.2" y2="201.7" stroke="#333" stroke-width="0.8"/><text x="30.6" y="205.3" class="tk" text-anchor="end">15°S</text><line x1="79.9" y1="114.5" x2="79.9" y2="116.5" stroke="#333" stroke-width="0.8"/><line x1="122.5" y1="114.5" x2="122.5" y2="116.5" stroke="#333" stroke-width="0.8"/><line x1="165.2" y1="114.5" x2="165.2" y2="116.5" stroke="#333" stroke-width="0.8"/><line x1="207.8" y1="114.5" x2="207.8" y2="116.5" stroke="#333" stroke-width="0.8"/><line x1="37.2" y1="201.7" x2="37.2" y2="203.7" stroke="#333" stroke-width="0.8"/><line x1="79.9" y1="201.7" x2="79.9" y2="203.7" stroke="#333" stroke-width="0.8"/><line x1="122.5" y1="201.7" x2="122.5" y2="203.7" stroke="#333" stroke-width="0.8"/><line x1="165.2" y1="201.7" x2="165.2" y2="203.7" stroke="#333" stroke-width="0.8"/><line x1="207.8" y1="201.7" x2="207.8" y2="203.7" stroke="#333" stroke-width="0.8"/><text x="37.9" y="111.2" class="tt" textLength="82.5" lengthAdjust="spacingAndGlyphs">(a2) SUMMER,&#160; (corr PET-SST)</text><text transform="translate(11.4 161.1) rotate(-90)" class="yl" text-anchor="middle" textLength="56.5" lengthAdjust="spacingAndGlyphs">correlation&#160; PET-SST</text><clipPath id="cb2"><rect x="244.3" y="112.5" width="171.2" height="86.7"/></clipPath><clipPath id="lb2"><path d="M249.1 105.3 L247.9 109.6 L246.4 112.5 L245.5 113.4 L246.7 114.2 L247.2 116.0 L247.4 117.4 L247.2 119.7 L248.1 121.2 L250.2 122.6 L251.4 124.3 L252.4 125.5 L253.8 127.5 L255.5 129.3 L255.7 131.3 L256.7 133.3 L258.6 135.0 L260.0 136.2 L261.4 137.6 L264.5 140.2 L266.9 142.3 L269.0 143.3 L271.6 142.6 L275.2 141.1 L277.6 140.7 L280.0 141.1 L282.3 142.1 L284.7 141.1 L287.1 139.7 L289.5 138.8 L293.0 137.6 L295.2 137.4 L297.8 138.2 L299.5 140.0 L300.4 142.6 L301.8 143.4 L303.7 143.1 L306.1 142.6 L307.8 142.8 L309.0 144.3 L310.2 146.0 L310.4 148.9 L310.4 153.0 L309.5 155.0 L309.2 156.7 L308.0 157.9 L309.0 160.2 L310.9 163.9 L313.3 166.8 L315.2 169.7 L316.1 172.0 L316.3 173.5 L317.8 176.9 L318.5 181.3 L319.0 183.3 L319.9 186.8 L319.7 189.7 L319.2 191.7 L317.1 194.6 L316.3 197.2 L315.9 199.8 L315.6 203.5 L381.0 203.5 L383.6 199.8 L384.1 197.8 L383.6 193.4 L383.4 189.1 L383.2 186.2 L381.5 182.7 L380.5 179.8 L380.5 176.1 L379.6 174.6 L380.1 171.7 L380.3 169.4 L381.5 167.4 L382.4 165.4 L382.9 163.4 L384.6 161.6 L386.0 160.5 L388.2 157.3 L390.5 153.5 L392.9 151.2 L394.8 150.1 L397.7 147.2 L400.3 143.4 L402.4 140.0 L404.3 135.6 L405.8 131.3 L407.4 127.0 L408.6 125.2 L409.1 121.7 L407.2 121.5 L404.8 123.2 L402.4 123.5 L398.9 124.3 L396.0 124.9 L394.1 125.8 L391.7 125.5 L390.3 123.2 L388.9 122.6 L389.8 121.7 L390.1 120.0 L388.6 118.3 L387.0 116.0 L384.6 113.9 L382.2 111.6 L381.0 110.8 L379.8 108.2 L378.6 105.3ZM388.2 105.3 L388.6 108.2 L388.9 111.6 L389.1 113.1 L389.8 115.4 L390.1 117.4 L390.5 119.1 L391.7 119.4 L394.1 118.9 L396.5 117.1 L400.0 115.7 L402.9 115.4 L404.8 113.7 L407.2 112.5 L411.2 110.8 L413.1 109.0 L417.9 105.9 L421.4 104.1 L421.4 102.4 L388.2 102.4ZM404.3 190.4 L405.0 192.0 L405.8 194.0 L406.5 197.8 L406.7 200.1 L407.2 203.5 L392.9 203.5 L396.5 201.8 L399.1 199.2 L400.8 196.3 L401.9 194.6 L403.1 192.0ZM413.8 119.4 L415.5 119.1 L416.7 119.7 L415.5 120.3 L414.1 120.0ZM307.3 145.2 L308.3 144.9 L308.3 146.3 L307.5 146.6Z"/></clipPath><g clip-path="url(#cb2)"><g clip-path="url(#lb2)"><g filter="url(#bl)"><path d="M244.0 112.2h10.1v6.4h-10.1zM277.3 112.2h10.1v6.4h-10.1zM324.8 112.2h10.1v6.4h-10.1zM358.1 112.2h19.6v6.4h-19.6zM381.9 112.2h14.9v6.4h-14.9zM244.0 118.0h10.1v6.4h-10.1zM258.3 118.0h5.4v6.4h-5.4zM277.3 118.0h10.1v6.4h-10.1zM334.4 118.0h5.4v6.4h-5.4zM362.9 118.0h19.6v6.4h-19.6zM391.4 118.0h24.4v6.4h-24.4zM244.0 123.8h14.9v6.4h-14.9zM263.0 123.8h5.4v6.4h-5.4zM277.3 123.8h10.1v6.4h-10.1zM339.1 123.8h5.4v6.4h-5.4zM358.1 123.8h5.4v6.4h-5.4zM372.4 123.8h5.4v6.4h-5.4zM381.9 123.8h14.9v6.4h-14.9zM400.9 123.8h14.9v6.4h-14.9zM244.0 129.5h10.1v6.4h-10.1zM267.8 129.5h10.1v6.4h-10.1zM282.0 129.5h10.1v6.4h-10.1zM334.4 129.5h10.1v6.4h-10.1zM362.9 129.5h5.4v6.4h-5.4zM377.2 129.5h5.4v6.4h-5.4zM391.4 129.5h5.4v6.4h-5.4zM405.7 129.5h10.1v6.4h-10.1zM244.0 135.3h10.1v6.4h-10.1zM267.8 135.3h5.4v6.4h-5.4zM282.0 135.3h19.6v6.4h-19.6zM305.8 135.3h5.4v6.4h-5.4zM339.1 135.3h5.4v6.4h-5.4zM353.4 135.3h14.9v6.4h-14.9zM381.9 135.3h19.6v6.4h-19.6zM405.7 135.3h10.1v6.4h-10.1zM244.0 141.1h10.1v6.4h-10.1zM267.8 141.1h5.4v6.4h-5.4zM282.0 141.1h19.6v6.4h-19.6zM305.8 141.1h5.4v6.4h-5.4zM320.1 141.1h5.4v6.4h-5.4zM362.9 141.1h5.4v6.4h-5.4zM396.2 141.1h5.4v6.4h-5.4zM405.7 141.1h10.1v6.4h-10.1zM244.0 146.9h10.1v6.4h-10.1zM267.8 146.9h5.4v6.4h-5.4zM282.0 146.9h19.6v6.4h-19.6zM305.8 146.9h5.4v6.4h-5.4zM315.3 146.9h10.1v6.4h-10.1zM339.1 146.9h5.4v6.4h-5.4zM362.9 146.9h5.4v6.4h-5.4zM381.9 146.9h10.1v6.4h-10.1zM396.2 146.9h5.4v6.4h-5.4zM405.7 146.9h10.1v6.4h-10.1zM244.0 152.7h10.1v6.4h-10.1zM267.8 152.7h5.4v6.4h-5.4zM282.0 152.7h29.1v6.4h-29.1zM320.1 152.7h5.4v6.4h-5.4zM367.6 152.7h10.1v6.4h-10.1zM381.9 152.7h10.1v6.4h-10.1zM396.2 152.7h5.4v6.4h-5.4zM405.7 152.7h10.1v6.4h-10.1zM244.0 158.4h10.1v6.4h-10.1zM267.8 158.4h5.4v6.4h-5.4zM282.0 158.4h33.9v6.4h-33.9zM320.1 158.4h5.4v6.4h-5.4zM348.6 158.4h5.4v6.4h-5.4zM358.1 158.4h19.6v6.4h-19.6zM381.9 158.4h10.1v6.4h-10.1zM396.2 158.4h5.4v6.4h-5.4zM405.7 158.4h10.1v6.4h-10.1zM244.0 164.2h10.1v6.4h-10.1zM267.8 164.2h5.4v6.4h-5.4zM282.0 164.2h57.7v6.4h-57.7zM353.4 164.2h62.4v6.4h-62.4zM244.0 170.0h10.1v6.4h-10.1zM267.8 170.0h5.4v6.4h-5.4zM282.0 170.0h33.9v6.4h-33.9zM334.4 170.0h5.4v6.4h-5.4zM358.1 170.0h14.9v6.4h-14.9zM396.2 170.0h19.6v6.4h-19.6zM244.0 175.8h10.1v6.4h-10.1zM267.8 175.8h5.4v6.4h-5.4zM282.0 175.8h5.4v6.4h-5.4zM339.1 175.8h5.4v6.4h-5.4zM348.6 175.8h5.4v6.4h-5.4zM358.1 175.8h14.9v6.4h-14.9zM377.2 175.8h38.6v6.4h-38.6zM244.0 181.6h10.1v6.4h-10.1zM267.8 181.6h5.4v6.4h-5.4zM339.1 181.6h19.6v6.4h-19.6zM377.2 181.6h38.6v6.4h-38.6zM244.0 187.3h10.1v6.4h-10.1zM267.8 187.3h5.4v6.4h-5.4zM277.3 187.3h43.4v6.4h-43.4zM339.1 187.3h19.6v6.4h-19.6zM362.9 187.3h5.4v6.4h-5.4zM377.2 187.3h38.6v6.4h-38.6zM244.0 193.1h10.1v6.4h-10.1zM267.8 193.1h5.4v6.4h-5.4zM339.1 193.1h5.4v6.4h-5.4zM348.6 193.1h10.1v6.4h-10.1zM362.9 193.1h5.4v6.4h-5.4zM377.2 193.1h38.6v6.4h-38.6z" fill="#c0d3f6"/><path d="M253.5 112.2h5.4v6.4h-5.4zM253.5 118.0h5.4v6.4h-5.4zM258.3 123.8h5.4v6.4h-5.4zM267.8 123.8h5.4v6.4h-5.4z" fill="#7f9ff7"/><path d="M258.3 112.2h19.6v6.4h-19.6zM286.8 112.2h33.9v6.4h-33.9zM334.4 112.2h24.4v6.4h-24.4zM263.0 118.0h14.9v6.4h-14.9zM286.8 118.0h48.2v6.4h-48.2zM339.1 118.0h19.6v6.4h-19.6zM272.5 123.8h5.4v6.4h-5.4zM286.8 123.8h48.2v6.4h-48.2zM343.9 123.8h14.9v6.4h-14.9zM362.9 123.8h5.4v6.4h-5.4zM377.2 123.8h5.4v6.4h-5.4zM291.6 129.5h43.4v6.4h-43.4zM343.9 129.5h14.9v6.4h-14.9zM367.6 129.5h10.1v6.4h-10.1zM381.9 129.5h10.1v6.4h-10.1zM310.6 135.3h5.4v6.4h-5.4zM320.1 135.3h19.6v6.4h-19.6zM343.9 135.3h10.1v6.4h-10.1zM367.6 135.3h14.9v6.4h-14.9zM310.6 141.1h5.4v6.4h-5.4zM324.8 141.1h29.1v6.4h-29.1zM367.6 141.1h10.1v6.4h-10.1zM310.6 146.9h5.4v6.4h-5.4zM324.8 146.9h14.9v6.4h-14.9zM343.9 146.9h10.1v6.4h-10.1zM367.6 146.9h10.1v6.4h-10.1zM310.6 152.7h5.4v6.4h-5.4zM324.8 152.7h29.1v6.4h-29.1zM329.6 158.4h19.6v6.4h-19.6zM339.1 164.2h5.4v6.4h-5.4zM315.3 170.0h19.6v6.4h-19.6zM339.1 170.0h5.4v6.4h-5.4zM353.4 170.0h5.4v6.4h-5.4zM372.4 170.0h5.4v6.4h-5.4zM286.8 175.8h52.9v6.4h-52.9zM353.4 175.8h5.4v6.4h-5.4zM372.4 175.8h5.4v6.4h-5.4zM282.0 181.6h57.7v6.4h-57.7zM320.1 187.3h19.6v6.4h-19.6zM272.5 193.1h67.2v6.4h-67.2zM343.9 193.1h5.4v6.4h-5.4z" fill="#7b9bf0"/><path d="M320.1 112.2h5.4v6.4h-5.4zM396.2 112.2h19.6v6.4h-19.6zM358.1 118.0h5.4v6.4h-5.4zM272.5 135.3h5.4v6.4h-5.4zM272.5 141.1h5.4v6.4h-5.4zM272.5 146.9h5.4v6.4h-5.4zM272.5 152.7h5.4v6.4h-5.4zM358.1 152.7h10.1v6.4h-10.1zM272.5 158.4h5.4v6.4h-5.4zM272.5 164.2h5.4v6.4h-5.4zM272.5 170.0h5.4v6.4h-5.4zM272.5 175.8h5.4v6.4h-5.4zM272.5 181.6h5.4v6.4h-5.4zM272.5 187.3h5.4v6.4h-5.4z" fill="#ececec"/><path d="M377.2 112.2h5.4v6.4h-5.4zM381.9 118.0h10.1v6.4h-10.1zM334.4 123.8h5.4v6.4h-5.4zM367.6 123.8h5.4v6.4h-5.4zM396.2 123.8h5.4v6.4h-5.4zM253.5 129.5h5.4v6.4h-5.4zM277.3 129.5h5.4v6.4h-5.4zM358.1 129.5h5.4v6.4h-5.4zM396.2 129.5h10.1v6.4h-10.1zM253.5 135.3h5.4v6.4h-5.4zM263.0 135.3h5.4v6.4h-5.4zM277.3 135.3h5.4v6.4h-5.4zM301.1 135.3h5.4v6.4h-5.4zM315.3 135.3h5.4v6.4h-5.4zM400.9 135.3h5.4v6.4h-5.4zM253.5 141.1h5.4v6.4h-5.4zM263.0 141.1h5.4v6.4h-5.4zM277.3 141.1h5.4v6.4h-5.4zM301.1 141.1h5.4v6.4h-5.4zM315.3 141.1h5.4v6.4h-5.4zM353.4 141.1h10.1v6.4h-10.1zM377.2 141.1h19.6v6.4h-19.6zM400.9 141.1h5.4v6.4h-5.4zM253.5 146.9h5.4v6.4h-5.4zM263.0 146.9h5.4v6.4h-5.4zM277.3 146.9h5.4v6.4h-5.4zM301.1 146.9h5.4v6.4h-5.4zM353.4 146.9h10.1v6.4h-10.1zM377.2 146.9h5.4v6.4h-5.4zM391.4 146.9h5.4v6.4h-5.4zM400.9 146.9h5.4v6.4h-5.4zM253.5 152.7h5.4v6.4h-5.4zM263.0 152.7h5.4v6.4h-5.4zM277.3 152.7h5.4v6.4h-5.4zM315.3 152.7h5.4v6.4h-5.4zM353.4 152.7h5.4v6.4h-5.4zM377.2 152.7h5.4v6.4h-5.4zM391.4 152.7h5.4v6.4h-5.4zM400.9 152.7h5.4v6.4h-5.4zM253.5 158.4h5.4v6.4h-5.4zM263.0 158.4h5.4v6.4h-5.4zM277.3 158.4h5.4v6.4h-5.4zM315.3 158.4h5.4v6.4h-5.4zM324.8 158.4h5.4v6.4h-5.4zM353.4 158.4h5.4v6.4h-5.4zM377.2 158.4h5.4v6.4h-5.4zM391.4 158.4h5.4v6.4h-5.4zM400.9 158.4h5.4v6.4h-5.4zM253.5 164.2h5.4v6.4h-5.4zM263.0 164.2h5.4v6.4h-5.4zM277.3 164.2h5.4v6.4h-5.4zM343.9 164.2h10.1v6.4h-10.1zM253.5 170.0h5.4v6.4h-5.4zM263.0 170.0h5.4v6.4h-5.4zM277.3 170.0h5.4v6.4h-5.4zM343.9 170.0h10.1v6.4h-10.1zM377.2 170.0h19.6v6.4h-19.6zM253.5 175.8h5.4v6.4h-5.4zM263.0 175.8h5.4v6.4h-5.4zM277.3 175.8h5.4v6.4h-5.4zM343.9 175.8h5.4v6.4h-5.4zM253.5 181.6h5.4v6.4h-5.4zM263.0 181.6h5.4v6.4h-5.4zM277.3 181.6h5.4v6.4h-5.4zM358.1 181.6h19.6v6.4h-19.6zM253.5 187.3h5.4v6.4h-5.4zM263.0 187.3h5.4v6.4h-5.4zM358.1 187.3h5.4v6.4h-5.4zM253.5 193.1h5.4v6.4h-5.4zM263.0 193.1h5.4v6.4h-5.4zM358.1 193.1h5.4v6.4h-5.4z" fill="#f3cbb6"/><path d="M258.3 129.5h10.1v6.4h-10.1zM258.3 135.3h5.4v6.4h-5.4zM258.3 141.1h5.4v6.4h-5.4zM258.3 146.9h5.4v6.4h-5.4zM258.3 152.7h5.4v6.4h-5.4zM258.3 158.4h5.4v6.4h-5.4zM258.3 164.2h5.4v6.4h-5.4zM258.3 170.0h5.4v6.4h-5.4zM258.3 175.8h5.4v6.4h-5.4zM258.3 181.6h5.4v6.4h-5.4zM258.3 187.3h5.4v6.4h-5.4zM367.6 187.3h10.1v6.4h-10.1zM258.3 193.1h5.4v6.4h-5.4zM367.6 193.1h10.1v6.4h-10.1z" fill="#ec9a78"/></g><mask id="mb2D" maskUnits="userSpaceOnUse" x="239.3" y="107.5" width="181.2" height="96.7"><path filter="url(#bl2)" d="M258.3 112.2h19.6v6.4h-19.6zM286.8 112.2h33.9v6.4h-33.9zM334.4 112.2h24.4v6.4h-24.4zM263.0 118.0h14.9v6.4h-14.9zM286.8 118.0h48.2v6.4h-48.2zM339.1 118.0h19.6v6.4h-19.6zM272.5 123.8h5.4v6.4h-5.4zM286.8 123.8h48.2v6.4h-48.2zM343.9 123.8h14.9v6.4h-14.9zM362.9 123.8h5.4v6.4h-5.4zM377.2 123.8h5.4v6.4h-5.4zM291.6 129.5h43.4v6.4h-43.4zM343.9 129.5h14.9v6.4h-14.9zM367.6 129.5h10.1v6.4h-10.1zM381.9 129.5h10.1v6.4h-10.1zM310.6 135.3h5.4v6.4h-5.4zM320.1 135.3h19.6v6.4h-19.6zM343.9 135.3h10.1v6.4h-10.1zM367.6 135.3h14.9v6.4h-14.9zM310.6 141.1h5.4v6.4h-5.4zM324.8 141.1h29.1v6.4h-29.1zM367.6 141.1h10.1v6.4h-10.1zM310.6 146.9h5.4v6.4h-5.4zM324.8 146.9h14.9v6.4h-14.9zM343.9 146.9h10.1v6.4h-10.1zM367.6 146.9h10.1v6.4h-10.1zM310.6 152.7h5.4v6.4h-5.4zM324.8 152.7h29.1v6.4h-29.1zM329.6 158.4h19.6v6.4h-19.6zM339.1 164.2h5.4v6.4h-5.4zM315.3 170.0h19.6v6.4h-19.6zM339.1 170.0h5.4v6.4h-5.4zM353.4 170.0h5.4v6.4h-5.4zM372.4 170.0h5.4v6.4h-5.4zM286.8 175.8h52.9v6.4h-52.9zM353.4 175.8h5.4v6.4h-5.4zM372.4 175.8h5.4v6.4h-5.4zM282.0 181.6h57.7v6.4h-57.7zM320.1 187.3h19.6v6.4h-19.6zM272.5 193.1h67.2v6.4h-67.2zM343.9 193.1h5.4v6.4h-5.4z" fill="#fff"/></mask><rect x="244.3" y="112.5" width="171.2" height="86.7" fill="url(#hb)" mask="url(#mb2D)"/><mask id="mb2R" maskUnits="userSpaceOnUse" x="239.3" y="107.5" width="181.2" height="96.7"><path filter="url(#bl2)" d="M258.3 129.5h10.1v6.4h-10.1zM258.3 135.3h5.4v6.4h-5.4zM258.3 141.1h5.4v6.4h-5.4zM258.3 146.9h5.4v6.4h-5.4zM258.3 152.7h5.4v6.4h-5.4zM258.3 158.4h5.4v6.4h-5.4zM258.3 164.2h5.4v6.4h-5.4zM258.3 170.0h5.4v6.4h-5.4zM258.3 175.8h5.4v6.4h-5.4zM258.3 181.6h5.4v6.4h-5.4zM258.3 187.3h5.4v6.4h-5.4zM367.6 187.3h10.1v6.4h-10.1zM258.3 193.1h5.4v6.4h-5.4zM367.6 193.1h10.1v6.4h-10.1z" fill="#fff"/></mask><rect x="244.3" y="112.5" width="171.2" height="86.7" fill="url(#hr)" mask="url(#mb2R)"/></g><path d="M362.7 157.0 L364.4 155.3 L366.3 155.0 L368.2 155.8 L367.9 157.3 L367.7 161.1 L366.0 163.1 L364.1 163.4 L362.5 161.1 L362.5 158.7ZM356.5 165.4 L357.0 165.7 L357.5 168.9 L358.4 172.0 L359.9 174.9 L360.8 177.8 L361.0 180.4 L360.3 181.3 L359.4 179.5 L357.7 176.1 L356.8 173.2 L356.3 169.7ZM367.9 183.3 L369.1 184.2 L369.6 187.6 L370.1 190.5 L370.3 193.4 L371.0 197.2 L370.1 197.5 L369.1 195.2 L368.4 192.0 L367.9 187.6ZM372.5 142.8 L373.4 143.1 L373.9 146.3 L373.9 148.6 L373.2 148.3 L372.7 145.7ZM286.4 131.0 L287.6 130.7 L288.1 134.2 L287.3 137.4 L286.6 135.6 L285.9 132.7ZM375.1 120.3 L376.3 120.3 L376.5 122.0 L375.6 122.3ZM359.4 151.5 L359.9 150.4 L361.8 149.5 L361.3 150.6 L359.6 152.7ZM356.1 160.8 L356.8 160.8 L356.5 163.1 L355.8 162.8ZM354.6 181.0 L356.1 180.4 L356.3 183.0 L355.1 183.3ZM319.2 116.0 L321.6 115.7 L321.8 118.3 L320.2 119.1 L318.7 117.7ZM357.5 187.6 L358.4 187.4 L358.7 189.4 L357.5 189.1Z" fill="#fff" stroke="#222" stroke-width="0.5"/><path d="M249.1 105.3 L247.9 109.6 L246.4 112.5 L245.5 113.4 L246.7 114.2 L247.2 116.0 L247.4 117.4 L247.2 119.7 L248.1 121.2 L250.2 122.6 L251.4 124.3 L252.4 125.5 L253.8 127.5 L255.5 129.3 L255.7 131.3 L256.7 133.3 L258.6 135.0 L260.0 136.2 L261.4 137.6 L264.5 140.2 L266.9 142.3 L269.0 143.3 L271.6 142.6 L275.2 141.1 L277.6 140.7 L280.0 141.1 L282.3 142.1 L284.7 141.1 L287.1 139.7 L289.5 138.8 L293.0 137.6 L295.2 137.4 L297.8 138.2 L299.5 140.0 L300.4 142.6 L301.8 143.4 L303.7 143.1 L306.1 142.6 L307.8 142.8 L309.0 144.3 L310.2 146.0 L310.4 148.9 L310.4 153.0 L309.5 155.0 L309.2 156.7 L308.0 157.9 L309.0 160.2 L310.9 163.9 L313.3 166.8 L315.2 169.7 L316.1 172.0 L316.3 173.5 L317.8 176.9 L318.5 181.3 L319.0 183.3 L319.9 186.8 L319.7 189.7 L319.2 191.7 L317.1 194.6 L316.3 197.2 L315.9 199.8 L315.6 203.5 L381.0 203.5 L383.6 199.8 L384.1 197.8 L383.6 193.4 L383.4 189.1 L383.2 186.2 L381.5 182.7 L380.5 179.8 L380.5 176.1 L379.6 174.6 L380.1 171.7 L380.3 169.4 L381.5 167.4 L382.4 165.4 L382.9 163.4 L384.6 161.6 L386.0 160.5 L388.2 157.3 L390.5 153.5 L392.9 151.2 L394.8 150.1 L397.7 147.2 L400.3 143.4 L402.4 140.0 L404.3 135.6 L405.8 131.3 L407.4 127.0 L408.6 125.2 L409.1 121.7 L407.2 121.5 L404.8 123.2 L402.4 123.5 L398.9 124.3 L396.0 124.9 L394.1 125.8 L391.7 125.5 L390.3 123.2 L388.9 122.6 L389.8 121.7 L390.1 120.0 L388.6 118.3 L387.0 116.0 L384.6 113.9 L382.2 111.6 L381.0 110.8 L379.8 108.2 L378.6 105.3ZM388.2 105.3 L388.6 108.2 L388.9 111.6 L389.1 113.1 L389.8 115.4 L390.1 117.4 L390.5 119.1 L391.7 119.4 L394.1 118.9 L396.5 117.1 L400.0 115.7 L402.9 115.4 L404.8 113.7 L407.2 112.5 L411.2 110.8 L413.1 109.0 L417.9 105.9 L421.4 104.1 L421.4 102.4 L388.2 102.4ZM404.3 190.4 L405.0 192.0 L405.8 194.0 L406.5 197.8 L406.7 200.1 L407.2 203.5 L392.9 203.5 L396.5 201.8 L399.1 199.2 L400.8 196.3 L401.9 194.6 L403.1 192.0ZM413.8 119.4 L415.5 119.1 L416.7 119.7 L415.5 120.3 L414.1 120.0ZM307.3 145.2 L308.3 144.9 L308.3 146.3 L307.5 146.6Z" fill="none" stroke="#0a0a0a" stroke-width="1.1" stroke-linejoin="round"/><path d="M258.1 113.4 L260.0 120.0M247.4 116.5 L254.3 116.8M247.4 118.0 L254.3 117.4M247.4 120.2 L254.5 119.4 L260.0 120.0M254.5 119.4 L254.5 122.0 L251.4 124.3M255.5 129.8 L257.6 127.2 L260.5 127.0 L261.9 129.0 L261.9 131.9 L259.8 135.9M261.9 131.9 L264.5 131.3 L266.9 133.9M266.9 133.9 L269.3 139.1 L269.3 143.1M260.0 120.0 L262.1 121.5 L265.7 120.0 L267.4 123.2 L268.1 126.4M268.1 126.4 L268.3 130.4 L266.9 133.9M268.1 126.4 L274.0 125.8 L275.9 127.8 L280.7 128.4M274.3 125.8 L274.7 122.9 L276.6 119.7 L280.0 116.5 L284.7 112.5 L287.6 112.8M280.7 128.4 L280.2 133.0 L279.5 137.9 L280.2 141.4M280.7 128.4 L280.4 124.1 L287.1 124.1M287.1 124.1 L288.3 127.0 L288.5 132.2 L290.0 138.2M289.2 124.1 L290.4 128.7 L290.9 137.9M287.1 124.1 L289.2 124.1 L292.6 121.7 L292.8 120.3M287.6 112.8 L288.1 116.3 L289.5 118.3 L292.3 119.4 L292.8 120.3M293.5 137.4 L293.5 129.6 L295.7 125.8 L295.7 122.0M292.8 120.3 L295.7 122.0M295.7 122.0 L296.8 116.8 L301.4 116.3 L306.1 118.0 L310.9 117.7 L316.3 118.0 L319.4 116.3 L320.9 118.0M307.5 142.3 L308.5 137.9 L310.9 135.6 L315.2 135.3 L315.6 132.7 L318.0 128.4 L318.7 126.4 L319.9 124.1 L321.8 121.2 L320.9 118.0M321.8 121.2 L322.8 124.3 L324.0 127.0 L320.4 128.4 L324.0 134.2M324.0 134.2 L321.6 140.0 L321.8 143.7 L323.2 147.2 L325.4 149.5M310.4 149.5 L314.0 149.5 L318.7 149.5 L325.4 149.5M314.0 149.5 L314.0 153.0 L309.9 153.0M318.7 149.5 L318.5 152.4 L321.6 157.3 L321.1 161.6 L316.8 162.8 L313.5 167.1M331.3 145.7 L329.2 157.3 L326.1 161.6 L324.0 168.0 L318.2 169.1 L315.6 170.3M325.4 149.5 L326.8 145.7 L331.3 145.7M331.3 145.7 L334.7 143.4 L340.4 144.0 L345.4 141.1 L348.9 140.8 L352.3 141.1M324.0 134.2 L326.8 134.2 L331.1 130.1 L337.0 128.4 L339.4 124.3 L341.6 124.1M341.6 124.1 L343.5 130.7 L346.5 134.2 L350.1 137.6 L352.3 141.1M341.6 124.1 L340.6 119.4 L339.9 116.0 L341.8 112.5 L344.2 110.5M343.5 130.7 L346.5 126.4 L350.1 128.1 L353.2 128.1 L358.4 126.1 L363.2 120.9 L366.0 120.6 L367.9 127.0M367.9 127.0 L368.4 131.3 L365.6 133.3 L367.7 138.5 L371.5 142.6M371.5 142.6 L368.9 142.6 L367.7 144.3M367.7 144.3 L363.2 145.4 L360.3 145.7M352.3 141.1 L356.1 143.1 L360.3 145.7M360.3 145.7 L361.5 149.5 L358.4 152.4 L357.5 159.6M367.9 127.0 L368.7 125.5 L372.0 119.1 L373.7 115.7 L373.9 114.5 L375.1 106.7M373.9 114.5 L376.3 114.8 L379.8 113.7 L382.2 114.2 L385.8 117.4 L387.9 119.7M387.9 119.7 L386.5 122.0 L387.0 124.1 L388.9 124.1M388.9 124.1 L390.1 127.2 L391.7 129.8 L401.0 132.7 L394.1 141.7 L391.0 142.6 L387.2 143.7M387.2 143.7 L384.6 144.6 L381.0 145.7 L377.5 145.4 L372.7 142.8 L371.5 142.6M387.2 143.7 L384.6 147.8 L384.6 158.2 L386.0 160.5M367.7 144.3 L369.1 147.2 L370.3 150.9 L367.9 155.0 L367.7 155.8 L367.9 158.7M367.9 158.7 L376.5 164.8 L380.3 169.4M357.5 158.7 L367.7 158.7M357.5 159.6 L359.6 159.0 L360.6 162.8M356.1 160.2 L356.5 163.9 L356.1 168.9M356.1 163.9 L359.6 162.8M359.6 162.8 L360.3 165.4 L358.9 168.0 L357.2 168.9M357.0 168.9 L359.9 179.5M359.9 179.5 L355.8 180.4 L355.3 183.6 L354.6 187.6 L356.1 191.7 L357.2 194.0 L352.5 190.5 L347.7 189.1 L344.2 187.6M316.3 173.2 L325.9 172.9 L328.9 179.3 L333.2 179.0 L333.2 176.4 L338.9 176.9 L339.4 182.7 L343.9 187.1 L344.2 187.6M344.2 187.6 L344.2 193.4 L339.4 193.4 L339.4 202.7M359.9 179.5 L365.3 183.0M365.3 183.0 L366.0 187.4 L365.6 192.0 L364.9 195.2M365.3 183.0 L367.9 183.3 L369.4 189.4M369.4 189.4 L370.3 196.9 L372.2 197.8 L371.0 202.4M369.4 189.4 L376.3 189.4 L383.2 186.2M364.9 195.2 L359.4 200.9M390.3 118.9 L390.3 118.3" fill="none" stroke="#111" stroke-width="0.85" stroke-linejoin="round"/><rect x="302.3" y="154.5" width="1" height="1" fill="#222"/><rect x="304.2" y="150.7" width="1" height="1" fill="#222"/><rect x="299.9" y="159.4" width="1" height="1" fill="#222"/><rect x="380.0" y="173.0" width="1" height="1" fill="#222"/><rect x="381.0" y="170.1" width="1" height="1" fill="#222"/><rect x="389.6" y="188.9" width="1" height="1" fill="#222"/><rect x="390.0" y="189.7" width="1" height="1" fill="#222"/><rect x="390.7" y="190.9" width="1" height="1" fill="#222"/><rect x="392.2" y="190.6" width="1" height="1" fill="#222"/><rect x="393.8" y="192.3" width="1" height="1" fill="#222"/><rect x="396.7" y="182.5" width="1" height="1" fill="#222"/><rect x="399.5" y="183.4" width="1" height="1" fill="#222"/><rect x="252.4" y="178.2" width="1" height="1" fill="#222"/><rect x="418.6" y="168.6" width="1" height="1" fill="#222"/><rect x="412.6" y="174.1" width="1" height="1" fill="#222"/></g><rect x="244.3" y="112.5" width="171.2" height="86.7" fill="none" stroke="#777" stroke-width="0.9"/><line x1="242.1" y1="112.5" x2="244.3" y2="112.5" stroke="#333" stroke-width="0.8"/><text x="240.0" y="117.4" class="tk" text-anchor="end">15°N</text><line x1="242.1" y1="127.0" x2="244.3" y2="127.0" stroke="#333" stroke-width="0.8"/><text x="240.0" y="131.8" class="tk" text-anchor="end">10°N</text><line x1="242.1" y1="141.4" x2="244.3" y2="141.4" stroke="#333" stroke-width="0.8"/><text x="240.0" y="146.3" class="tk" text-anchor="end">5°N</text><line x1="242.1" y1="155.8" x2="244.3" y2="155.8" stroke="#333" stroke-width="0.8"/><text x="240.0" y="160.8" class="tk" text-anchor="end">0°</text><line x1="242.1" y1="170.3" x2="244.3" y2="170.3" stroke="#333" stroke-width="0.8"/><text x="240.0" y="175.2" class="tk" text-anchor="end">5°S</text><line x1="242.1" y1="184.8" x2="244.3" y2="184.8" stroke="#333" stroke-width="0.8"/><text x="240.0" y="189.7" class="tk" text-anchor="end">10°S</text><line x1="242.1" y1="199.2" x2="244.3" y2="199.2" stroke="#333" stroke-width="0.8"/><text x="240.0" y="202.8" class="tk" text-anchor="end">15°S</text><line x1="287.1" y1="112.5" x2="287.1" y2="114.5" stroke="#333" stroke-width="0.8"/><line x1="329.9" y1="112.5" x2="329.9" y2="114.5" stroke="#333" stroke-width="0.8"/><line x1="372.7" y1="112.5" x2="372.7" y2="114.5" stroke="#333" stroke-width="0.8"/><line x1="415.5" y1="112.5" x2="415.5" y2="114.5" stroke="#333" stroke-width="0.8"/><line x1="244.3" y1="199.2" x2="244.3" y2="201.2" stroke="#333" stroke-width="0.8"/><line x1="287.1" y1="199.2" x2="287.1" y2="201.2" stroke="#333" stroke-width="0.8"/><line x1="329.9" y1="199.2" x2="329.9" y2="201.2" stroke="#333" stroke-width="0.8"/><line x1="372.7" y1="199.2" x2="372.7" y2="201.2" stroke="#333" stroke-width="0.8"/><line x1="415.5" y1="199.2" x2="415.5" y2="201.2" stroke="#333" stroke-width="0.8"/><text x="247.3" y="109.2" class="tt" textLength="79.6" lengthAdjust="spacingAndGlyphs">(b2) SUMMER, (corr AET-SST)</text><text transform="translate(220.9 156.7) rotate(-90)" class="yl" text-anchor="middle" textLength="53.0" lengthAdjust="spacingAndGlyphs">correlation&#160; AET-SST</text><clipPath id="ca3"><rect x="37.6" y="214.5" width="170.2" height="86.9"/></clipPath><clipPath id="la3"><path d="M42.3 207.3 L41.1 211.6 L39.7 214.5 L38.8 215.4 L40.0 216.2 L40.4 218.0 L40.7 219.4 L40.4 221.7 L41.4 223.2 L43.5 224.6 L44.7 226.4 L45.6 227.5 L47.1 229.6 L48.7 231.3 L48.9 233.3 L49.9 235.4 L51.8 237.1 L53.2 238.3 L54.6 239.7 L57.7 242.3 L60.1 244.3 L62.2 245.3 L64.8 244.6 L68.3 243.2 L70.7 242.7 L73.1 243.2 L75.4 244.2 L77.8 243.2 L80.2 241.7 L82.5 240.9 L86.1 239.7 L88.2 239.4 L90.8 240.3 L92.4 242.0 L93.4 244.6 L94.8 245.5 L96.7 245.2 L99.1 244.6 L100.7 244.9 L101.9 246.4 L103.1 248.1 L103.3 251.0 L103.3 255.1 L102.4 257.1 L102.1 258.8 L101.0 260.0 L101.9 262.3 L103.8 266.1 L106.2 269.0 L108.0 271.9 L109.0 274.2 L109.2 275.6 L110.6 279.1 L111.4 283.4 L111.8 285.5 L112.8 288.9 L112.5 291.8 L112.1 293.9 L109.9 296.8 L109.2 299.4 L108.8 302.0 L108.5 305.7 L173.5 305.7 L176.1 302.0 L176.6 300.0 L176.1 295.6 L175.9 291.3 L175.7 288.4 L174.0 284.9 L173.1 282.0 L173.1 278.2 L172.1 276.8 L172.6 273.9 L172.8 271.6 L174.0 269.5 L174.9 267.5 L175.4 265.5 L177.1 263.7 L178.5 262.6 L180.6 259.4 L183.0 255.6 L185.3 253.3 L187.2 252.2 L190.1 249.3 L192.7 245.5 L194.8 242.0 L196.7 237.7 L198.1 233.3 L199.8 229.0 L200.9 227.2 L201.4 223.8 L199.5 223.5 L197.2 225.2 L194.8 225.5 L191.3 226.4 L188.4 227.0 L186.5 227.8 L184.2 227.5 L182.7 225.2 L181.3 224.6 L182.3 223.8 L182.5 222.0 L181.1 220.3 L179.4 218.0 L177.1 215.9 L174.7 213.6 L173.5 212.8 L172.3 210.2 L171.2 207.3ZM180.6 207.3 L181.1 210.2 L181.3 213.6 L181.6 215.1 L182.3 217.4 L182.5 219.4 L183.0 221.2 L184.2 221.5 L186.5 220.9 L188.9 219.1 L192.4 217.7 L195.3 217.4 L197.2 215.7 L199.5 214.5 L203.5 212.8 L205.4 211.0 L210.2 207.8 L213.7 206.1 L213.7 204.4 L180.6 204.4ZM196.7 292.6 L197.4 294.2 L198.1 296.2 L198.8 300.0 L199.1 302.3 L199.5 305.7 L185.3 305.7 L188.9 304.0 L191.5 301.4 L193.1 298.5 L194.3 296.8 L195.5 294.2ZM206.1 221.5 L207.8 221.2 L209.0 221.7 L207.8 222.3 L206.4 222.0ZM100.2 247.2 L101.2 246.9 L101.2 248.4 L100.5 248.7Z"/></clipPath><g clip-path="url(#ca3)"><g clip-path="url(#la3)"><g filter="url(#bl)"><path d="M37.3 214.2h10.1v6.4h-10.1zM122.4 214.2h10.1v6.4h-10.1zM136.6 214.2h5.3v6.4h-5.3zM150.8 214.2h5.3v6.4h-5.3zM164.9 214.2h14.8v6.4h-14.8zM37.3 220.0h10.1v6.4h-10.1zM51.5 220.0h5.3v6.4h-5.3zM60.9 220.0h5.3v6.4h-5.3zM75.1 220.0h5.3v6.4h-5.3zM84.6 220.0h24.2v6.4h-24.2zM127.1 220.0h10.1v6.4h-10.1zM164.9 220.0h10.1v6.4h-10.1zM183.9 220.0h24.2v6.4h-24.2zM37.3 225.8h14.8v6.4h-14.8zM56.2 225.8h5.3v6.4h-5.3zM75.1 225.8h5.3v6.4h-5.3zM84.6 225.8h14.8v6.4h-14.8zM103.5 225.8h5.3v6.4h-5.3zM122.4 225.8h14.8v6.4h-14.8zM155.5 225.8h24.2v6.4h-24.2zM198.0 225.8h10.1v6.4h-10.1zM37.3 231.6h24.2v6.4h-24.2zM65.7 231.6h5.3v6.4h-5.3zM84.6 231.6h19.5v6.4h-19.5zM141.3 231.6h19.5v6.4h-19.5zM164.9 231.6h10.1v6.4h-10.1zM198.0 231.6h10.1v6.4h-10.1zM37.3 237.4h24.2v6.4h-24.2zM65.7 237.4h5.3v6.4h-5.3zM79.9 237.4h10.1v6.4h-10.1zM136.6 237.4h10.1v6.4h-10.1zM150.8 237.4h24.2v6.4h-24.2zM37.3 243.2h24.2v6.4h-24.2zM65.7 243.2h5.3v6.4h-5.3zM79.9 243.2h10.1v6.4h-10.1zM98.8 243.2h5.3v6.4h-5.3zM150.8 243.2h19.5v6.4h-19.5zM37.3 249.0h24.2v6.4h-24.2zM65.7 249.0h5.3v6.4h-5.3zM79.9 249.0h10.1v6.4h-10.1zM150.8 249.0h5.3v6.4h-5.3zM160.2 249.0h5.3v6.4h-5.3zM37.3 254.8h24.2v6.4h-24.2zM65.7 254.8h5.3v6.4h-5.3zM79.9 254.8h29.0v6.4h-29.0zM122.4 254.8h5.3v6.4h-5.3zM136.6 254.8h5.3v6.4h-5.3zM146.0 254.8h19.5v6.4h-19.5zM169.7 254.8h10.1v6.4h-10.1zM37.3 260.5h24.2v6.4h-24.2zM65.7 260.5h5.3v6.4h-5.3zM79.9 260.5h33.7v6.4h-33.7zM117.7 260.5h5.3v6.4h-5.3zM141.3 260.5h38.4v6.4h-38.4zM37.3 266.3h24.2v6.4h-24.2zM65.7 266.3h5.3v6.4h-5.3zM79.9 266.3h38.4v6.4h-38.4zM122.4 266.3h10.1v6.4h-10.1zM150.8 266.3h38.4v6.4h-38.4zM37.3 272.1h24.2v6.4h-24.2zM65.7 272.1h5.3v6.4h-5.3zM79.9 272.1h29.0v6.4h-29.0zM112.9 272.1h5.3v6.4h-5.3zM150.8 272.1h14.8v6.4h-14.8zM169.7 272.1h19.5v6.4h-19.5zM37.3 277.9h24.2v6.4h-24.2zM65.7 277.9h5.3v6.4h-5.3zM112.9 277.9h5.3v6.4h-5.3zM150.8 277.9h5.3v6.4h-5.3zM160.2 277.9h5.3v6.4h-5.3zM169.7 277.9h19.5v6.4h-19.5zM37.3 283.7h24.2v6.4h-24.2zM65.7 283.7h5.3v6.4h-5.3zM75.1 283.7h38.4v6.4h-38.4zM146.0 283.7h5.3v6.4h-5.3zM37.3 289.5h24.2v6.4h-24.2zM65.7 289.5h52.6v6.4h-52.6zM37.3 295.3h24.2v6.4h-24.2zM65.7 295.3h47.9v6.4h-47.9z" fill="#c0d3f6"/><path d="M46.8 214.2h5.3v6.4h-5.3zM46.8 220.0h5.3v6.4h-5.3zM51.5 225.8h5.3v6.4h-5.3zM60.9 225.8h5.3v6.4h-5.3z" fill="#7f9ff7"/><path d="M51.5 214.2h62.1v6.4h-62.1zM117.7 214.2h5.3v6.4h-5.3zM56.2 220.0h5.3v6.4h-5.3zM65.7 220.0h10.1v6.4h-10.1zM79.9 220.0h5.3v6.4h-5.3zM108.2 220.0h19.5v6.4h-19.5zM65.7 225.8h10.1v6.4h-10.1zM79.9 225.8h5.3v6.4h-5.3zM108.2 225.8h14.8v6.4h-14.8zM70.4 231.6h14.8v6.4h-14.8zM103.5 231.6h33.7v6.4h-33.7zM160.2 231.6h5.3v6.4h-5.3zM174.4 231.6h10.1v6.4h-10.1zM70.4 237.4h10.1v6.4h-10.1zM103.5 237.4h33.7v6.4h-33.7zM146.0 237.4h5.3v6.4h-5.3zM70.4 243.2h10.1v6.4h-10.1zM103.5 243.2h47.9v6.4h-47.9zM169.7 243.2h5.3v6.4h-5.3zM70.4 249.0h10.1v6.4h-10.1zM103.5 249.0h47.9v6.4h-47.9zM164.9 249.0h10.1v6.4h-10.1zM70.4 254.8h10.1v6.4h-10.1zM108.2 254.8h14.8v6.4h-14.8zM127.1 254.8h5.3v6.4h-5.3zM141.3 254.8h5.3v6.4h-5.3zM164.9 254.8h5.3v6.4h-5.3zM70.4 260.5h10.1v6.4h-10.1zM112.9 260.5h5.3v6.4h-5.3zM70.4 266.3h10.1v6.4h-10.1zM117.7 266.3h5.3v6.4h-5.3zM136.6 266.3h14.8v6.4h-14.8zM193.3 266.3h14.8v6.4h-14.8zM70.4 272.1h10.1v6.4h-10.1zM117.7 272.1h33.7v6.4h-33.7zM164.9 272.1h5.3v6.4h-5.3zM188.6 272.1h19.5v6.4h-19.5zM70.4 277.9h10.1v6.4h-10.1zM117.7 277.9h33.7v6.4h-33.7zM155.5 277.9h5.3v6.4h-5.3zM164.9 277.9h5.3v6.4h-5.3zM188.6 277.9h19.5v6.4h-19.5zM70.4 283.7h5.3v6.4h-5.3zM112.9 283.7h33.7v6.4h-33.7zM150.8 283.7h57.3v6.4h-57.3zM117.7 289.5h90.4v6.4h-90.4zM112.9 295.3h95.2v6.4h-95.2z" fill="#6a8cf0"/><path d="M112.9 214.2h5.3v6.4h-5.3zM131.9 214.2h5.3v6.4h-5.3zM179.1 214.2h29.0v6.4h-29.0zM98.8 225.8h5.3v6.4h-5.3zM193.3 237.4h14.8v6.4h-14.8zM193.3 243.2h14.8v6.4h-14.8zM98.8 249.0h5.3v6.4h-5.3zM155.5 249.0h5.3v6.4h-5.3zM193.3 249.0h14.8v6.4h-14.8zM193.3 254.8h14.8v6.4h-14.8zM193.3 260.5h14.8v6.4h-14.8z" fill="#ececec"/><path d="M141.3 214.2h10.1v6.4h-10.1zM155.5 214.2h10.1v6.4h-10.1zM136.6 220.0h5.3v6.4h-5.3zM146.0 220.0h5.3v6.4h-5.3zM160.2 220.0h5.3v6.4h-5.3zM174.4 220.0h10.1v6.4h-10.1zM136.6 225.8h5.3v6.4h-5.3zM150.8 225.8h5.3v6.4h-5.3zM188.6 225.8h10.1v6.4h-10.1zM60.9 231.6h5.3v6.4h-5.3zM136.6 231.6h5.3v6.4h-5.3zM188.6 231.6h10.1v6.4h-10.1zM60.9 237.4h5.3v6.4h-5.3zM89.3 237.4h14.8v6.4h-14.8zM174.4 237.4h19.5v6.4h-19.5zM60.9 243.2h5.3v6.4h-5.3zM89.3 243.2h10.1v6.4h-10.1zM174.4 243.2h19.5v6.4h-19.5zM60.9 249.0h5.3v6.4h-5.3zM89.3 249.0h10.1v6.4h-10.1zM174.4 249.0h19.5v6.4h-19.5zM60.9 254.8h5.3v6.4h-5.3zM179.1 254.8h14.8v6.4h-14.8zM60.9 260.5h5.3v6.4h-5.3zM122.4 260.5h10.1v6.4h-10.1zM179.1 260.5h14.8v6.4h-14.8zM60.9 266.3h5.3v6.4h-5.3zM131.9 266.3h5.3v6.4h-5.3zM188.6 266.3h5.3v6.4h-5.3zM60.9 272.1h5.3v6.4h-5.3zM108.2 272.1h5.3v6.4h-5.3zM60.9 277.9h5.3v6.4h-5.3zM79.9 277.9h33.7v6.4h-33.7zM60.9 283.7h5.3v6.4h-5.3zM60.9 289.5h5.3v6.4h-5.3zM60.9 295.3h5.3v6.4h-5.3z" fill="#f3cbb6"/><path d="M141.3 220.0h5.3v6.4h-5.3zM150.8 220.0h10.1v6.4h-10.1zM141.3 225.8h10.1v6.4h-10.1zM179.1 225.8h10.1v6.4h-10.1zM183.9 231.6h5.3v6.4h-5.3zM131.9 254.8h5.3v6.4h-5.3zM131.9 260.5h10.1v6.4h-10.1z" fill="#ec9a78"/></g><mask id="ma3D" maskUnits="userSpaceOnUse" x="32.6" y="209.5" width="180.2" height="96.9"><path filter="url(#bl2)" d="M51.5 214.2h62.1v6.4h-62.1zM117.7 214.2h5.3v6.4h-5.3zM56.2 220.0h5.3v6.4h-5.3zM65.7 220.0h10.1v6.4h-10.1zM79.9 220.0h5.3v6.4h-5.3zM108.2 220.0h19.5v6.4h-19.5zM65.7 225.8h10.1v6.4h-10.1zM79.9 225.8h5.3v6.4h-5.3zM108.2 225.8h14.8v6.4h-14.8zM70.4 231.6h14.8v6.4h-14.8zM103.5 231.6h33.7v6.4h-33.7zM160.2 231.6h5.3v6.4h-5.3zM174.4 231.6h10.1v6.4h-10.1zM70.4 237.4h10.1v6.4h-10.1zM103.5 237.4h33.7v6.4h-33.7zM146.0 237.4h5.3v6.4h-5.3zM70.4 243.2h10.1v6.4h-10.1zM103.5 243.2h47.9v6.4h-47.9zM169.7 243.2h5.3v6.4h-5.3zM70.4 249.0h10.1v6.4h-10.1zM103.5 249.0h47.9v6.4h-47.9zM164.9 249.0h10.1v6.4h-10.1zM70.4 254.8h10.1v6.4h-10.1zM108.2 254.8h14.8v6.4h-14.8zM127.1 254.8h5.3v6.4h-5.3zM141.3 254.8h5.3v6.4h-5.3zM164.9 254.8h5.3v6.4h-5.3zM70.4 260.5h10.1v6.4h-10.1zM112.9 260.5h5.3v6.4h-5.3zM70.4 266.3h10.1v6.4h-10.1zM117.7 266.3h5.3v6.4h-5.3zM136.6 266.3h14.8v6.4h-14.8zM193.3 266.3h14.8v6.4h-14.8zM70.4 272.1h10.1v6.4h-10.1zM117.7 272.1h33.7v6.4h-33.7zM164.9 272.1h5.3v6.4h-5.3zM188.6 272.1h19.5v6.4h-19.5zM70.4 277.9h10.1v6.4h-10.1zM117.7 277.9h33.7v6.4h-33.7zM155.5 277.9h5.3v6.4h-5.3zM164.9 277.9h5.3v6.4h-5.3zM188.6 277.9h19.5v6.4h-19.5zM70.4 283.7h5.3v6.4h-5.3zM112.9 283.7h33.7v6.4h-33.7zM150.8 283.7h57.3v6.4h-57.3zM117.7 289.5h90.4v6.4h-90.4zM112.9 295.3h95.2v6.4h-95.2z" fill="#fff"/></mask><rect x="37.6" y="214.5" width="170.2" height="86.9" fill="url(#hb)" mask="url(#ma3D)"/><mask id="ma3R" maskUnits="userSpaceOnUse" x="32.6" y="209.5" width="180.2" height="96.9"><path filter="url(#bl2)" d="M141.3 220.0h5.3v6.4h-5.3zM150.8 220.0h10.1v6.4h-10.1zM141.3 225.8h10.1v6.4h-10.1zM179.1 225.8h10.1v6.4h-10.1zM183.9 231.6h5.3v6.4h-5.3zM131.9 254.8h5.3v6.4h-5.3zM131.9 260.5h10.1v6.4h-10.1z" fill="#fff"/></mask><rect x="37.6" y="214.5" width="170.2" height="86.9" fill="url(#hr)" mask="url(#ma3R)"/></g><path d="M155.3 259.1 L157.0 257.4 L158.9 257.1 L160.8 257.9 L160.5 259.4 L160.3 263.2 L158.6 265.2 L156.7 265.5 L155.1 263.2 L155.1 260.8ZM149.2 267.5 L149.6 267.8 L150.1 271.0 L151.1 274.2 L152.5 277.1 L153.4 280.0 L153.7 282.6 L153.0 283.4 L152.0 281.7 L150.4 278.2 L149.4 275.3 L148.9 271.9ZM160.5 285.5 L161.7 286.3 L162.2 289.8 L162.6 292.7 L162.9 295.6 L163.6 299.4 L162.6 299.7 L161.7 297.3 L161.0 294.2 L160.5 289.8ZM165.0 244.9 L166.0 245.2 L166.4 248.4 L166.4 250.7 L165.7 250.4 L165.2 247.8ZM79.4 233.0 L80.6 232.7 L81.1 236.2 L80.4 239.4 L79.7 237.7 L79.0 234.8ZM167.6 222.3 L168.8 222.3 L169.0 224.1 L168.1 224.3ZM152.0 253.6 L152.5 252.4 L154.4 251.6 L153.9 252.7 L152.2 254.8ZM148.7 262.9 L149.4 262.9 L149.2 265.2 L148.5 264.9ZM147.3 283.2 L148.7 282.6 L148.9 285.2 L147.8 285.5ZM112.1 218.0 L114.4 217.7 L114.7 220.3 L113.0 221.2 L111.6 219.7ZM150.1 289.8 L151.1 289.5 L151.3 291.6 L150.1 291.3Z" fill="#fff" stroke="#222" stroke-width="0.5"/><path d="M42.3 207.3 L41.1 211.6 L39.7 214.5 L38.8 215.4 L40.0 216.2 L40.4 218.0 L40.7 219.4 L40.4 221.7 L41.4 223.2 L43.5 224.6 L44.7 226.4 L45.6 227.5 L47.1 229.6 L48.7 231.3 L48.9 233.3 L49.9 235.4 L51.8 237.1 L53.2 238.3 L54.6 239.7 L57.7 242.3 L60.1 244.3 L62.2 245.3 L64.8 244.6 L68.3 243.2 L70.7 242.7 L73.1 243.2 L75.4 244.2 L77.8 243.2 L80.2 241.7 L82.5 240.9 L86.1 239.7 L88.2 239.4 L90.8 240.3 L92.4 242.0 L93.4 244.6 L94.8 245.5 L96.7 245.2 L99.1 244.6 L100.7 244.9 L101.9 246.4 L103.1 248.1 L103.3 251.0 L103.3 255.1 L102.4 257.1 L102.1 258.8 L101.0 260.0 L101.9 262.3 L103.8 266.1 L106.2 269.0 L108.0 271.9 L109.0 274.2 L109.2 275.6 L110.6 279.1 L111.4 283.4 L111.8 285.5 L112.8 288.9 L112.5 291.8 L112.1 293.9 L109.9 296.8 L109.2 299.4 L108.8 302.0 L108.5 305.7 L173.5 305.7 L176.1 302.0 L176.6 300.0 L176.1 295.6 L175.9 291.3 L175.7 288.4 L174.0 284.9 L173.1 282.0 L173.1 278.2 L172.1 276.8 L172.6 273.9 L172.8 271.6 L174.0 269.5 L174.9 267.5 L175.4 265.5 L177.1 263.7 L178.5 262.6 L180.6 259.4 L183.0 255.6 L185.3 253.3 L187.2 252.2 L190.1 249.3 L192.7 245.5 L194.8 242.0 L196.7 237.7 L198.1 233.3 L199.8 229.0 L200.9 227.2 L201.4 223.8 L199.5 223.5 L197.2 225.2 L194.8 225.5 L191.3 226.4 L188.4 227.0 L186.5 227.8 L184.2 227.5 L182.7 225.2 L181.3 224.6 L182.3 223.8 L182.5 222.0 L181.1 220.3 L179.4 218.0 L177.1 215.9 L174.7 213.6 L173.5 212.8 L172.3 210.2 L171.2 207.3ZM180.6 207.3 L181.1 210.2 L181.3 213.6 L181.6 215.1 L182.3 217.4 L182.5 219.4 L183.0 221.2 L184.2 221.5 L186.5 220.9 L188.9 219.1 L192.4 217.7 L195.3 217.4 L197.2 215.7 L199.5 214.5 L203.5 212.8 L205.4 211.0 L210.2 207.8 L213.7 206.1 L213.7 204.4 L180.6 204.4ZM196.7 292.6 L197.4 294.2 L198.1 296.2 L198.8 300.0 L199.1 302.3 L199.5 305.7 L185.3 305.7 L188.9 304.0 L191.5 301.4 L193.1 298.5 L194.3 296.8 L195.5 294.2ZM206.1 221.5 L207.8 221.2 L209.0 221.7 L207.8 222.3 L206.4 222.0ZM100.2 247.2 L101.2 246.9 L101.2 248.4 L100.5 248.7Z" fill="none" stroke="#0a0a0a" stroke-width="1.1" stroke-linejoin="round"/><path d="M51.3 215.4 L53.2 222.0M40.7 218.6 L47.5 218.8M40.7 220.0 L47.5 219.4M40.7 222.2 L47.8 221.5 L53.2 222.0M47.8 221.5 L47.8 224.1 L44.7 226.4M48.7 231.9 L50.8 229.3 L53.7 229.0 L55.1 231.0 L55.1 233.9 L53.0 238.0M55.1 233.9 L57.7 233.3 L60.1 235.9M60.1 235.9 L62.4 241.1 L62.4 245.2M53.2 222.0 L55.3 223.5 L58.9 222.0 L60.5 225.2 L61.2 228.4M61.2 228.4 L61.5 232.5 L60.1 235.9M61.2 228.4 L67.1 227.8 L69.0 229.9 L73.8 230.4M67.4 227.8 L67.9 224.9 L69.7 221.7 L73.1 218.6 L77.8 214.5 L80.6 214.8M73.8 230.4 L73.3 235.1 L72.6 240.0 L73.3 243.5M73.8 230.4 L73.5 226.1 L80.2 226.1M80.2 226.1 L81.3 229.0 L81.6 234.2 L83.0 240.3M82.3 226.1 L83.5 230.7 L83.9 240.0M80.2 226.1 L82.3 226.1 L85.6 223.8 L85.8 222.3M80.6 214.8 L81.1 218.3 L82.5 220.3 L85.4 221.5 L85.8 222.3M86.5 239.4 L86.5 231.6 L88.7 227.8 L88.7 224.1M85.8 222.3 L88.7 224.1M88.7 224.1 L89.8 218.8 L94.3 218.3 L99.1 220.0 L103.8 219.7 L109.2 220.0 L112.3 218.3 L113.7 220.0M100.5 244.3 L101.4 240.0 L103.8 237.7 L108.0 237.4 L108.5 234.8 L110.9 230.4 L111.6 228.4 L112.8 226.1 L114.7 223.2 L113.7 220.0M114.7 223.2 L115.6 226.4 L116.8 229.0 L113.2 230.4 L116.8 236.2M116.8 236.2 L114.4 242.0 L114.7 245.8 L116.1 249.3 L118.2 251.6M103.3 251.6 L106.9 251.6 L111.6 251.6 L118.2 251.6M106.9 251.6 L106.9 255.1 L102.8 255.1M111.6 251.6 L111.4 254.5 L114.4 259.4 L114.0 263.7 L109.7 264.9 L106.4 269.2M124.1 247.8 L122.0 259.4 L118.9 263.7 L116.8 270.1 L111.1 271.3 L108.5 272.4M118.2 251.6 L119.6 247.8 L124.1 247.8M124.1 247.8 L127.4 245.5 L133.1 246.1 L138.1 243.2 L141.6 242.9 L144.9 243.2M116.8 236.2 L119.6 236.2 L123.9 232.2 L129.8 230.4 L132.2 226.4 L134.3 226.1M134.3 226.1 L136.2 232.7 L139.2 236.2 L142.8 239.7 L144.9 243.2M134.3 226.1 L133.3 221.5 L132.6 218.0 L134.5 214.5 L136.9 212.5M136.2 232.7 L139.2 228.4 L142.8 230.1 L145.9 230.1 L151.1 228.1 L155.8 222.9 L158.6 222.6 L160.5 229.0M160.5 229.0 L161.0 233.3 L158.2 235.4 L160.3 240.6 L164.1 244.6M164.1 244.6 L161.5 244.6 L160.3 246.4M160.3 246.4 L155.8 247.5 L153.0 247.8M144.9 243.2 L148.7 245.2 L153.0 247.8M153.0 247.8 L154.1 251.6 L151.1 254.5 L150.1 261.7M160.5 229.0 L161.2 227.5 L164.5 221.2 L166.2 217.7 L166.4 216.5 L167.6 208.7M166.4 216.5 L168.8 216.8 L172.3 215.7 L174.7 216.2 L178.3 219.4 L180.4 221.7M180.4 221.7 L179.0 224.1 L179.4 226.1 L181.3 226.1M181.3 226.1 L182.5 229.3 L184.2 231.9 L193.4 234.8 L186.5 243.8 L183.5 244.6 L179.7 245.8M179.7 245.8 L177.1 246.7 L173.5 247.8 L170.0 247.5 L165.2 244.9 L164.1 244.6M179.7 245.8 L177.1 249.8 L177.1 260.3 L178.5 262.6M160.3 246.4 L161.7 249.3 L162.9 253.0 L160.5 257.1 L160.3 257.9 L160.5 260.8M160.5 260.8 L169.0 266.9 L172.8 271.6M150.1 260.8 L160.3 260.8M150.1 261.7 L152.2 261.1 L153.2 264.9M148.7 262.3 L149.2 266.1 L148.7 271.0M148.7 266.1 L152.2 264.9M152.2 264.9 L153.0 267.5 L151.5 270.1 L149.9 271.0M149.6 271.0 L152.5 281.7M152.5 281.7 L148.5 282.6 L148.0 285.8 L147.3 289.8 L148.7 293.9 L149.9 296.2 L145.2 292.7 L140.4 291.3 L136.9 289.8M109.2 275.3 L118.7 275.0 L121.8 281.4 L126.0 281.1 L126.0 278.5 L131.7 279.1 L132.2 284.9 L136.6 289.2 L136.9 289.8M136.9 289.8 L136.9 295.6 L132.2 295.6 L132.2 304.9M152.5 281.7 L157.9 285.2M157.9 285.2 L158.6 289.5 L158.2 294.2 L157.4 297.3M157.9 285.2 L160.5 285.5 L161.9 291.6M161.9 291.6 L162.9 299.1 L164.8 300.0 L163.6 304.6M161.9 291.6 L168.8 291.6 L175.7 288.4M157.4 297.3 L152.0 303.1M182.7 220.9 L182.7 220.3" fill="none" stroke="#111" stroke-width="0.85" stroke-linejoin="round"/><rect x="95.3" y="256.6" width="1" height="1" fill="#222"/><rect x="97.1" y="252.8" width="1" height="1" fill="#222"/><rect x="92.9" y="261.5" width="1" height="1" fill="#222"/><rect x="172.6" y="275.1" width="1" height="1" fill="#222"/><rect x="173.5" y="272.2" width="1" height="1" fill="#222"/><rect x="182.0" y="291.1" width="1" height="1" fill="#222"/><rect x="182.5" y="291.9" width="1" height="1" fill="#222"/><rect x="183.2" y="293.1" width="1" height="1" fill="#222"/><rect x="184.6" y="292.8" width="1" height="1" fill="#222"/><rect x="186.3" y="294.5" width="1" height="1" fill="#222"/><rect x="189.1" y="284.7" width="1" height="1" fill="#222"/><rect x="191.9" y="285.5" width="1" height="1" fill="#222"/><rect x="45.6" y="280.3" width="1" height="1" fill="#222"/><rect x="210.8" y="270.8" width="1" height="1" fill="#222"/><rect x="204.9" y="276.3" width="1" height="1" fill="#222"/></g><rect x="37.6" y="214.5" width="170.2" height="86.9" fill="none" stroke="#777" stroke-width="0.9"/><line x1="35.4" y1="214.5" x2="37.6" y2="214.5" stroke="#333" stroke-width="0.8"/><text x="30.6" y="219.4" class="tk" text-anchor="end">15°N</text><line x1="35.4" y1="229.0" x2="37.6" y2="229.0" stroke="#333" stroke-width="0.8"/><text x="30.6" y="233.9" class="tk" text-anchor="end">10°N</text><line x1="35.4" y1="243.5" x2="37.6" y2="243.5" stroke="#333" stroke-width="0.8"/><text x="30.6" y="248.4" class="tk" text-anchor="end">5°N</text><line x1="35.4" y1="257.9" x2="37.6" y2="257.9" stroke="#333" stroke-width="0.8"/><text x="30.6" y="262.8" class="tk" text-anchor="end">0°</text><line x1="35.4" y1="272.4" x2="37.6" y2="272.4" stroke="#333" stroke-width="0.8"/><text x="30.6" y="277.3" class="tk" text-anchor="end">5°S</text><line x1="35.4" y1="286.9" x2="37.6" y2="286.9" stroke="#333" stroke-width="0.8"/><text x="30.6" y="291.8" class="tk" text-anchor="end">10°S</text><line x1="35.4" y1="301.4" x2="37.6" y2="301.4" stroke="#333" stroke-width="0.8"/><text x="30.6" y="305.0" class="tk" text-anchor="end">15°S</text><line x1="80.2" y1="214.5" x2="80.2" y2="216.5" stroke="#333" stroke-width="0.8"/><line x1="122.7" y1="214.5" x2="122.7" y2="216.5" stroke="#333" stroke-width="0.8"/><line x1="165.2" y1="214.5" x2="165.2" y2="216.5" stroke="#333" stroke-width="0.8"/><line x1="207.8" y1="214.5" x2="207.8" y2="216.5" stroke="#333" stroke-width="0.8"/><line x1="37.6" y1="301.4" x2="37.6" y2="303.4" stroke="#333" stroke-width="0.8"/><line x1="80.2" y1="301.4" x2="80.2" y2="303.4" stroke="#333" stroke-width="0.8"/><line x1="122.7" y1="301.4" x2="122.7" y2="303.4" stroke="#333" stroke-width="0.8"/><line x1="165.2" y1="301.4" x2="165.2" y2="303.4" stroke="#333" stroke-width="0.8"/><line x1="207.8" y1="301.4" x2="207.8" y2="303.4" stroke="#333" stroke-width="0.8"/><text x="40.7" y="212.1" class="tt" textLength="80.9" lengthAdjust="spacingAndGlyphs">(a3) AUTUMN,&#160; (corr PET-SST)</text><text transform="translate(11.4 260.9) rotate(-90)" class="yl" text-anchor="middle" textLength="56.5" lengthAdjust="spacingAndGlyphs">correlation&#160; PET-SST</text><clipPath id="cb3"><rect x="244.6" y="213.8" width="170.9" height="87.2"/></clipPath><clipPath id="lb3"><path d="M249.3 206.5 L248.2 210.9 L246.7 213.8 L245.8 214.7 L247.0 215.5 L247.4 217.3 L247.7 218.7 L247.4 221.1 L248.4 222.5 L250.5 224.0 L251.7 225.7 L252.7 226.9 L254.1 228.9 L255.8 230.7 L256.0 232.7 L256.9 234.7 L258.8 236.5 L260.3 237.6 L261.7 239.1 L264.8 241.7 L267.1 243.7 L269.3 244.8 L271.9 244.0 L275.5 242.6 L277.8 242.1 L280.2 242.6 L282.6 243.6 L285.0 242.6 L287.3 241.1 L289.7 240.3 L293.3 239.1 L295.4 238.8 L298.0 239.7 L299.7 241.4 L300.6 244.0 L302.0 244.9 L303.9 244.6 L306.3 244.0 L308.0 244.3 L309.2 245.8 L310.3 247.5 L310.6 250.4 L310.6 254.5 L309.6 256.5 L309.4 258.3 L308.2 259.4 L309.2 261.8 L311.1 265.5 L313.4 268.4 L315.3 271.4 L316.3 273.7 L316.5 275.1 L317.9 278.6 L318.7 283.0 L319.1 285.0 L320.1 288.5 L319.8 291.4 L319.4 293.4 L317.2 296.3 L316.5 299.0 L316.0 301.6 L315.8 305.4 L381.1 305.4 L383.7 301.6 L384.2 299.5 L383.7 295.2 L383.5 290.8 L383.2 287.9 L381.6 284.4 L380.6 281.5 L380.6 277.7 L379.7 276.3 L380.1 273.4 L380.4 271.1 L381.6 269.0 L382.5 267.0 L383.0 265.0 L384.6 263.2 L386.1 262.1 L388.2 258.9 L390.6 255.1 L393.0 252.7 L394.8 251.6 L397.7 248.7 L400.3 244.9 L402.4 241.4 L404.3 237.1 L405.8 232.7 L407.4 228.3 L408.6 226.6 L409.1 223.1 L407.2 222.8 L404.8 224.6 L402.4 224.8 L398.9 225.7 L396.0 226.3 L394.1 227.2 L391.8 226.9 L390.3 224.6 L388.9 224.0 L389.9 223.1 L390.1 221.4 L388.7 219.6 L387.0 217.3 L384.6 215.3 L382.3 212.9 L381.1 212.1 L379.9 209.4 L378.7 206.5ZM388.2 206.5 L388.7 209.4 L388.9 212.9 L389.2 214.4 L389.9 216.7 L390.1 218.7 L390.6 220.5 L391.8 220.8 L394.1 220.2 L396.5 218.5 L400.1 217.0 L402.9 216.7 L404.8 215.0 L407.2 213.8 L411.2 212.1 L413.1 210.3 L417.9 207.1 L421.4 205.4 L421.4 203.6 L388.2 203.6ZM404.3 292.1 L405.1 293.7 L405.8 295.8 L406.5 299.5 L406.7 301.9 L407.2 305.4 L393.0 305.4 L396.5 303.6 L399.1 301.0 L400.8 298.1 L402.0 296.3 L403.2 293.7ZM413.8 220.8 L415.5 220.5 L416.7 221.1 L415.5 221.6 L414.1 221.4ZM307.5 246.6 L308.5 246.4 L308.5 247.8 L307.7 248.1Z"/></clipPath><g clip-path="url(#cb3)"><g clip-path="url(#lb3)"><g filter="url(#bl)"><path d="M244.3 213.5h19.6v6.4h-19.6zM268.0 213.5h19.6v6.4h-19.6zM339.2 213.5h29.1v6.4h-29.1zM244.3 219.3h14.8v6.4h-14.8zM277.5 219.3h5.3v6.4h-5.3zM339.2 219.3h14.8v6.4h-14.8zM244.3 225.1h19.6v6.4h-19.6zM325.0 225.1h5.3v6.4h-5.3zM367.7 225.1h5.3v6.4h-5.3zM396.2 225.1h10.1v6.4h-10.1zM244.3 230.9h10.1v6.4h-10.1zM258.5 230.9h10.1v6.4h-10.1zM310.8 230.9h10.1v6.4h-10.1zM325.0 230.9h5.3v6.4h-5.3zM367.7 230.9h5.3v6.4h-5.3zM386.7 230.9h19.6v6.4h-19.6zM244.3 236.8h10.1v6.4h-10.1zM258.5 236.8h10.1v6.4h-10.1zM306.0 236.8h48.1v6.4h-48.1zM363.0 236.8h10.1v6.4h-10.1zM382.0 236.8h24.3v6.4h-24.3zM244.3 242.6h10.1v6.4h-10.1zM258.5 242.6h10.1v6.4h-10.1zM306.0 242.6h52.8v6.4h-52.8zM367.7 242.6h5.3v6.4h-5.3zM377.2 242.6h14.8v6.4h-14.8zM396.2 242.6h10.1v6.4h-10.1zM244.3 248.4h10.1v6.4h-10.1zM258.5 248.4h10.1v6.4h-10.1zM320.3 248.4h19.6v6.4h-19.6zM344.0 248.4h14.8v6.4h-14.8zM367.7 248.4h10.1v6.4h-10.1zM382.0 248.4h5.3v6.4h-5.3zM396.2 248.4h10.1v6.4h-10.1zM244.3 254.2h10.1v6.4h-10.1zM258.5 254.2h10.1v6.4h-10.1zM296.5 254.2h19.6v6.4h-19.6zM320.3 254.2h14.8v6.4h-14.8zM344.0 254.2h10.1v6.4h-10.1zM372.5 254.2h5.3v6.4h-5.3zM396.2 254.2h10.1v6.4h-10.1zM244.3 260.0h10.1v6.4h-10.1zM258.5 260.0h10.1v6.4h-10.1zM296.5 260.0h33.8v6.4h-33.8zM334.5 260.0h14.8v6.4h-14.8zM396.2 260.0h10.1v6.4h-10.1zM244.3 265.8h10.1v6.4h-10.1zM258.5 265.8h10.1v6.4h-10.1zM315.5 265.8h5.3v6.4h-5.3zM329.8 265.8h5.3v6.4h-5.3zM339.2 265.8h5.3v6.4h-5.3zM348.7 265.8h10.1v6.4h-10.1zM363.0 265.8h5.3v6.4h-5.3zM244.3 271.6h10.1v6.4h-10.1zM258.5 271.6h10.1v6.4h-10.1zM315.5 271.6h5.3v6.4h-5.3zM329.8 271.6h10.1v6.4h-10.1zM353.5 271.6h5.3v6.4h-5.3zM363.0 271.6h10.1v6.4h-10.1zM244.3 277.4h10.1v6.4h-10.1zM258.5 277.4h10.1v6.4h-10.1zM287.0 277.4h52.8v6.4h-52.8zM358.2 277.4h10.1v6.4h-10.1zM244.3 283.3h10.1v6.4h-10.1zM258.5 283.3h10.1v6.4h-10.1zM282.3 283.3h57.6v6.4h-57.6zM244.3 289.1h10.1v6.4h-10.1zM258.5 289.1h10.1v6.4h-10.1zM277.5 289.1h43.3v6.4h-43.3zM325.0 289.1h10.1v6.4h-10.1zM244.3 294.9h10.1v6.4h-10.1zM258.5 294.9h10.1v6.4h-10.1zM272.8 294.9h52.8v6.4h-52.8z" fill="#7b9bf0"/><path d="M263.3 213.5h5.3v6.4h-5.3zM287.0 213.5h33.8v6.4h-33.8zM325.0 213.5h5.3v6.4h-5.3zM334.5 213.5h5.3v6.4h-5.3zM367.7 213.5h5.3v6.4h-5.3zM377.2 213.5h14.8v6.4h-14.8zM258.5 219.3h19.6v6.4h-19.6zM282.3 219.3h24.3v6.4h-24.3zM315.5 219.3h5.3v6.4h-5.3zM325.0 219.3h5.3v6.4h-5.3zM334.5 219.3h5.3v6.4h-5.3zM353.5 219.3h14.8v6.4h-14.8zM372.5 219.3h5.3v6.4h-5.3zM382.0 219.3h14.8v6.4h-14.8zM401.0 219.3h14.8v6.4h-14.8zM263.3 225.1h14.8v6.4h-14.8zM282.3 225.1h24.3v6.4h-24.3zM315.5 225.1h5.3v6.4h-5.3zM329.8 225.1h5.3v6.4h-5.3zM358.2 225.1h10.1v6.4h-10.1zM372.5 225.1h5.3v6.4h-5.3zM391.5 225.1h5.3v6.4h-5.3zM405.7 225.1h10.1v6.4h-10.1zM253.8 230.9h5.3v6.4h-5.3zM268.0 230.9h10.1v6.4h-10.1zM282.3 230.9h29.1v6.4h-29.1zM329.8 230.9h5.3v6.4h-5.3zM358.2 230.9h10.1v6.4h-10.1zM372.5 230.9h5.3v6.4h-5.3zM382.0 230.9h5.3v6.4h-5.3zM405.7 230.9h10.1v6.4h-10.1zM253.8 236.8h5.3v6.4h-5.3zM268.0 236.8h38.6v6.4h-38.6zM353.5 236.8h10.1v6.4h-10.1zM372.5 236.8h10.1v6.4h-10.1zM405.7 236.8h10.1v6.4h-10.1zM253.8 242.6h5.3v6.4h-5.3zM268.0 242.6h38.6v6.4h-38.6zM358.2 242.6h10.1v6.4h-10.1zM372.5 242.6h5.3v6.4h-5.3zM391.5 242.6h5.3v6.4h-5.3zM405.7 242.6h10.1v6.4h-10.1zM253.8 248.4h5.3v6.4h-5.3zM268.0 248.4h43.3v6.4h-43.3zM315.5 248.4h5.3v6.4h-5.3zM339.2 248.4h5.3v6.4h-5.3zM363.0 248.4h5.3v6.4h-5.3zM377.2 248.4h5.3v6.4h-5.3zM386.7 248.4h10.1v6.4h-10.1zM405.7 248.4h10.1v6.4h-10.1zM253.8 254.2h5.3v6.4h-5.3zM268.0 254.2h29.1v6.4h-29.1zM334.5 254.2h10.1v6.4h-10.1zM353.5 254.2h5.3v6.4h-5.3zM367.7 254.2h5.3v6.4h-5.3zM377.2 254.2h19.6v6.4h-19.6zM405.7 254.2h10.1v6.4h-10.1zM253.8 260.0h5.3v6.4h-5.3zM268.0 260.0h29.1v6.4h-29.1zM348.7 260.0h48.1v6.4h-48.1zM405.7 260.0h10.1v6.4h-10.1zM253.8 265.8h5.3v6.4h-5.3zM268.0 265.8h48.1v6.4h-48.1zM320.3 265.8h10.1v6.4h-10.1zM334.5 265.8h5.3v6.4h-5.3zM344.0 265.8h5.3v6.4h-5.3zM358.2 265.8h5.3v6.4h-5.3zM367.7 265.8h48.1v6.4h-48.1zM253.8 271.6h5.3v6.4h-5.3zM268.0 271.6h48.1v6.4h-48.1zM320.3 271.6h10.1v6.4h-10.1zM339.2 271.6h10.1v6.4h-10.1zM358.2 271.6h5.3v6.4h-5.3zM372.5 271.6h43.3v6.4h-43.3zM253.8 277.4h5.3v6.4h-5.3zM268.0 277.4h19.6v6.4h-19.6zM339.2 277.4h10.1v6.4h-10.1zM353.5 277.4h5.3v6.4h-5.3zM367.7 277.4h48.1v6.4h-48.1zM253.8 283.3h5.3v6.4h-5.3zM268.0 283.3h14.8v6.4h-14.8zM344.0 283.3h5.3v6.4h-5.3zM353.5 283.3h5.3v6.4h-5.3zM363.0 283.3h5.3v6.4h-5.3zM377.2 283.3h38.6v6.4h-38.6zM253.8 289.1h5.3v6.4h-5.3zM268.0 289.1h10.1v6.4h-10.1zM320.3 289.1h5.3v6.4h-5.3zM358.2 289.1h10.1v6.4h-10.1zM377.2 289.1h38.6v6.4h-38.6zM253.8 294.9h5.3v6.4h-5.3zM268.0 294.9h5.3v6.4h-5.3zM325.0 294.9h10.1v6.4h-10.1zM348.7 294.9h19.6v6.4h-19.6zM377.2 294.9h38.6v6.4h-38.6z" fill="#c0d3f6"/><path d="M320.3 213.5h5.3v6.4h-5.3zM391.5 213.5h24.3v6.4h-24.3zM396.2 219.3h5.3v6.4h-5.3zM310.8 248.4h5.3v6.4h-5.3zM358.2 254.2h10.1v6.4h-10.1zM329.8 260.0h5.3v6.4h-5.3z" fill="#ececec"/><path d="M329.8 213.5h5.3v6.4h-5.3zM372.5 213.5h5.3v6.4h-5.3zM306.0 219.3h10.1v6.4h-10.1zM320.3 219.3h5.3v6.4h-5.3zM329.8 219.3h5.3v6.4h-5.3zM367.7 219.3h5.3v6.4h-5.3zM377.2 219.3h5.3v6.4h-5.3zM277.5 225.1h5.3v6.4h-5.3zM306.0 225.1h10.1v6.4h-10.1zM320.3 225.1h5.3v6.4h-5.3zM334.5 225.1h14.8v6.4h-14.8zM377.2 225.1h14.8v6.4h-14.8zM277.5 230.9h5.3v6.4h-5.3zM320.3 230.9h5.3v6.4h-5.3zM334.5 230.9h14.8v6.4h-14.8zM353.5 230.9h5.3v6.4h-5.3zM377.2 230.9h5.3v6.4h-5.3zM358.2 248.4h5.3v6.4h-5.3zM315.5 254.2h5.3v6.4h-5.3zM348.7 271.6h5.3v6.4h-5.3zM348.7 277.4h5.3v6.4h-5.3zM339.2 283.3h5.3v6.4h-5.3zM348.7 283.3h5.3v6.4h-5.3zM358.2 283.3h5.3v6.4h-5.3zM367.7 283.3h10.1v6.4h-10.1zM334.5 289.1h24.3v6.4h-24.3zM334.5 294.9h14.8v6.4h-14.8zM367.7 294.9h5.3v6.4h-5.3z" fill="#f3cbb6"/><path d="M348.7 225.1h10.1v6.4h-10.1zM348.7 230.9h5.3v6.4h-5.3zM367.7 289.1h10.1v6.4h-10.1zM372.5 294.9h5.3v6.4h-5.3z" fill="#ec9a78"/></g><mask id="mb3D" maskUnits="userSpaceOnUse" x="239.6" y="208.8" width="180.9" height="97.2"><path filter="url(#bl2)" d="M244.3 213.5h19.6v6.4h-19.6zM268.0 213.5h19.6v6.4h-19.6zM339.2 213.5h29.1v6.4h-29.1zM244.3 219.3h14.8v6.4h-14.8zM277.5 219.3h5.3v6.4h-5.3zM339.2 219.3h14.8v6.4h-14.8zM244.3 225.1h19.6v6.4h-19.6zM325.0 225.1h5.3v6.4h-5.3zM367.7 225.1h5.3v6.4h-5.3zM396.2 225.1h10.1v6.4h-10.1zM244.3 230.9h10.1v6.4h-10.1zM258.5 230.9h10.1v6.4h-10.1zM310.8 230.9h10.1v6.4h-10.1zM325.0 230.9h5.3v6.4h-5.3zM367.7 230.9h5.3v6.4h-5.3zM386.7 230.9h19.6v6.4h-19.6zM244.3 236.8h10.1v6.4h-10.1zM258.5 236.8h10.1v6.4h-10.1zM306.0 236.8h48.1v6.4h-48.1zM363.0 236.8h10.1v6.4h-10.1zM382.0 236.8h24.3v6.4h-24.3zM244.3 242.6h10.1v6.4h-10.1zM258.5 242.6h10.1v6.4h-10.1zM306.0 242.6h52.8v6.4h-52.8zM367.7 242.6h5.3v6.4h-5.3zM377.2 242.6h14.8v6.4h-14.8zM396.2 242.6h10.1v6.4h-10.1zM244.3 248.4h10.1v6.4h-10.1zM258.5 248.4h10.1v6.4h-10.1zM320.3 248.4h19.6v6.4h-19.6zM344.0 248.4h14.8v6.4h-14.8zM367.7 248.4h10.1v6.4h-10.1zM382.0 248.4h5.3v6.4h-5.3zM396.2 248.4h10.1v6.4h-10.1zM244.3 254.2h10.1v6.4h-10.1zM258.5 254.2h10.1v6.4h-10.1zM296.5 254.2h19.6v6.4h-19.6zM320.3 254.2h14.8v6.4h-14.8zM344.0 254.2h10.1v6.4h-10.1zM372.5 254.2h5.3v6.4h-5.3zM396.2 254.2h10.1v6.4h-10.1zM244.3 260.0h10.1v6.4h-10.1zM258.5 260.0h10.1v6.4h-10.1zM296.5 260.0h33.8v6.4h-33.8zM334.5 260.0h14.8v6.4h-14.8zM396.2 260.0h10.1v6.4h-10.1zM244.3 265.8h10.1v6.4h-10.1zM258.5 265.8h10.1v6.4h-10.1zM315.5 265.8h5.3v6.4h-5.3zM329.8 265.8h5.3v6.4h-5.3zM339.2 265.8h5.3v6.4h-5.3zM348.7 265.8h10.1v6.4h-10.1zM363.0 265.8h5.3v6.4h-5.3zM244.3 271.6h10.1v6.4h-10.1zM258.5 271.6h10.1v6.4h-10.1zM315.5 271.6h5.3v6.4h-5.3zM329.8 271.6h10.1v6.4h-10.1zM353.5 271.6h5.3v6.4h-5.3zM363.0 271.6h10.1v6.4h-10.1zM244.3 277.4h10.1v6.4h-10.1zM258.5 277.4h10.1v6.4h-10.1zM287.0 277.4h52.8v6.4h-52.8zM358.2 277.4h10.1v6.4h-10.1zM244.3 283.3h10.1v6.4h-10.1zM258.5 283.3h10.1v6.4h-10.1zM282.3 283.3h57.6v6.4h-57.6zM244.3 289.1h10.1v6.4h-10.1zM258.5 289.1h10.1v6.4h-10.1zM277.5 289.1h43.3v6.4h-43.3zM325.0 289.1h10.1v6.4h-10.1zM244.3 294.9h10.1v6.4h-10.1zM258.5 294.9h10.1v6.4h-10.1zM272.8 294.9h52.8v6.4h-52.8z" fill="#fff"/></mask><rect x="244.6" y="213.8" width="170.9" height="87.2" fill="url(#hb)" mask="url(#mb3D)"/><mask id="mb3R" maskUnits="userSpaceOnUse" x="239.6" y="208.8" width="180.9" height="97.2"><path filter="url(#bl2)" d="M348.7 225.1h10.1v6.4h-10.1zM348.7 230.9h5.3v6.4h-5.3zM367.7 289.1h10.1v6.4h-10.1zM372.5 294.9h5.3v6.4h-5.3z" fill="#fff"/></mask><rect x="244.6" y="213.8" width="170.9" height="87.2" fill="url(#hr)" mask="url(#mb3R)"/></g><path d="M362.8 258.6 L364.5 256.8 L366.4 256.5 L368.3 257.4 L368.0 258.9 L367.8 262.6 L366.1 264.7 L364.2 265.0 L362.6 262.6 L362.6 260.3ZM356.6 267.0 L357.1 267.3 L357.6 270.5 L358.5 273.7 L360.0 276.6 L360.9 279.5 L361.1 282.1 L360.4 283.0 L359.5 281.2 L357.8 277.7 L356.9 274.8 L356.4 271.4ZM368.0 285.0 L369.2 285.9 L369.7 289.4 L370.2 292.3 L370.4 295.2 L371.1 299.0 L370.2 299.3 L369.2 296.9 L368.5 293.7 L368.0 289.4ZM372.5 244.3 L373.5 244.6 L374.0 247.8 L374.0 250.1 L373.2 249.8 L372.8 247.2ZM286.6 232.4 L287.8 232.1 L288.3 235.6 L287.6 238.8 L286.9 237.1 L286.1 234.1ZM375.1 221.6 L376.3 221.6 L376.6 223.4 L375.6 223.7ZM359.5 253.0 L360.0 251.9 L361.9 251.0 L361.4 252.2 L359.7 254.2ZM356.2 262.3 L356.9 262.3 L356.6 264.7 L355.9 264.4ZM354.7 282.7 L356.2 282.1 L356.4 284.7 L355.2 285.0ZM319.4 217.3 L321.7 217.0 L322.0 219.6 L320.3 220.5 L318.9 219.0ZM357.6 289.4 L358.5 289.1 L358.8 291.1 L357.6 290.8Z" fill="#fff" stroke="#222" stroke-width="0.5"/><path d="M249.3 206.5 L248.2 210.9 L246.7 213.8 L245.8 214.7 L247.0 215.5 L247.4 217.3 L247.7 218.7 L247.4 221.1 L248.4 222.5 L250.5 224.0 L251.7 225.7 L252.7 226.9 L254.1 228.9 L255.8 230.7 L256.0 232.7 L256.9 234.7 L258.8 236.5 L260.3 237.6 L261.7 239.1 L264.8 241.7 L267.1 243.7 L269.3 244.8 L271.9 244.0 L275.5 242.6 L277.8 242.1 L280.2 242.6 L282.6 243.6 L285.0 242.6 L287.3 241.1 L289.7 240.3 L293.3 239.1 L295.4 238.8 L298.0 239.7 L299.7 241.4 L300.6 244.0 L302.0 244.9 L303.9 244.6 L306.3 244.0 L308.0 244.3 L309.2 245.8 L310.3 247.5 L310.6 250.4 L310.6 254.5 L309.6 256.5 L309.4 258.3 L308.2 259.4 L309.2 261.8 L311.1 265.5 L313.4 268.4 L315.3 271.4 L316.3 273.7 L316.5 275.1 L317.9 278.6 L318.7 283.0 L319.1 285.0 L320.1 288.5 L319.8 291.4 L319.4 293.4 L317.2 296.3 L316.5 299.0 L316.0 301.6 L315.8 305.4 L381.1 305.4 L383.7 301.6 L384.2 299.5 L383.7 295.2 L383.5 290.8 L383.2 287.9 L381.6 284.4 L380.6 281.5 L380.6 277.7 L379.7 276.3 L380.1 273.4 L380.4 271.1 L381.6 269.0 L382.5 267.0 L383.0 265.0 L384.6 263.2 L386.1 262.1 L388.2 258.9 L390.6 255.1 L393.0 252.7 L394.8 251.6 L397.7 248.7 L400.3 244.9 L402.4 241.4 L404.3 237.1 L405.8 232.7 L407.4 228.3 L408.6 226.6 L409.1 223.1 L407.2 222.8 L404.8 224.6 L402.4 224.8 L398.9 225.7 L396.0 226.3 L394.1 227.2 L391.8 226.9 L390.3 224.6 L388.9 224.0 L389.9 223.1 L390.1 221.4 L388.7 219.6 L387.0 217.3 L384.6 215.3 L382.3 212.9 L381.1 212.1 L379.9 209.4 L378.7 206.5ZM388.2 206.5 L388.7 209.4 L388.9 212.9 L389.2 214.4 L389.9 216.7 L390.1 218.7 L390.6 220.5 L391.8 220.8 L394.1 220.2 L396.5 218.5 L400.1 217.0 L402.9 216.7 L404.8 215.0 L407.2 213.8 L411.2 212.1 L413.1 210.3 L417.9 207.1 L421.4 205.4 L421.4 203.6 L388.2 203.6ZM404.3 292.1 L405.1 293.7 L405.8 295.8 L406.5 299.5 L406.7 301.9 L407.2 305.4 L393.0 305.4 L396.5 303.6 L399.1 301.0 L400.8 298.1 L402.0 296.3 L403.2 293.7ZM413.8 220.8 L415.5 220.5 L416.7 221.1 L415.5 221.6 L414.1 221.4ZM307.5 246.6 L308.5 246.4 L308.5 247.8 L307.7 248.1Z" fill="none" stroke="#0a0a0a" stroke-width="1.1" stroke-linejoin="round"/><path d="M258.4 214.7 L260.3 221.4M247.7 217.9 L254.6 218.2M247.7 219.3 L254.6 218.7M247.7 221.5 L254.8 220.8 L260.3 221.4M254.8 220.8 L254.8 223.4 L251.7 225.7M255.8 231.2 L257.9 228.6 L260.7 228.3 L262.2 230.4 L262.2 233.3 L260.0 237.3M262.2 233.3 L264.8 232.7 L267.1 235.3M267.1 235.3 L269.5 240.5 L269.5 244.6M260.3 221.4 L262.4 222.8 L266.0 221.4 L267.6 224.6 L268.3 227.8M268.3 227.8 L268.6 231.8 L267.1 235.3M268.3 227.8 L274.3 227.2 L276.2 229.2 L280.9 229.8M274.5 227.2 L275.0 224.3 L276.9 221.1 L280.2 217.9 L285.0 213.8 L287.8 214.1M280.9 229.8 L280.4 234.4 L279.7 239.4 L280.4 242.9M280.9 229.8 L280.7 225.4 L287.3 225.4M287.3 225.4 L288.5 228.3 L288.7 233.6 L290.2 239.7M289.5 225.4 L290.6 230.1 L291.1 239.4M287.3 225.4 L289.5 225.4 L292.8 223.1 L293.0 221.6M287.8 214.1 L288.3 217.6 L289.7 219.6 L292.5 220.8 L293.0 221.6M293.7 238.8 L293.7 230.9 L295.9 227.2 L295.9 223.4M293.0 221.6 L295.9 223.4M295.9 223.4 L297.1 218.2 L301.6 217.6 L306.3 219.3 L311.1 219.0 L316.5 219.3 L319.6 217.6 L321.0 219.3M307.7 243.7 L308.7 239.4 L311.1 237.1 L315.3 236.8 L315.8 234.1 L318.2 229.8 L318.9 227.8 L320.1 225.4 L322.0 222.5 L321.0 219.3M322.0 222.5 L322.9 225.7 L324.1 228.3 L320.6 229.8 L324.1 235.6M324.1 235.6 L321.7 241.4 L322.0 245.2 L323.4 248.7 L325.5 251.0M310.6 251.0 L314.1 251.0 L318.9 251.0 L325.5 251.0M314.1 251.0 L314.1 254.5 L310.1 254.5M318.9 251.0 L318.7 253.9 L321.7 258.9 L321.3 263.2 L317.0 264.4 L313.7 268.7M331.5 247.2 L329.3 258.9 L326.3 263.2 L324.1 269.6 L318.4 270.8 L315.8 271.9M325.5 251.0 L327.0 247.2 L331.5 247.2M331.5 247.2 L334.8 244.9 L340.5 245.5 L345.5 242.6 L349.0 242.3 L352.4 242.6M324.1 235.6 L327.0 235.6 L331.2 231.5 L337.2 229.8 L339.5 225.7 L341.7 225.4M341.7 225.4 L343.6 232.1 L346.7 235.6 L350.2 239.1 L352.4 242.6M341.7 225.4 L340.7 220.8 L340.0 217.3 L341.9 213.8 L344.3 211.8M343.6 232.1 L346.7 227.8 L350.2 229.5 L353.3 229.5 L358.5 227.5 L363.3 222.2 L366.1 221.9 L368.0 228.3M368.0 228.3 L368.5 232.7 L365.7 234.7 L367.8 240.0 L371.6 244.0M371.6 244.0 L369.0 244.0 L367.8 245.8M367.8 245.8 L363.3 246.9 L360.4 247.2M352.4 242.6 L356.2 244.6 L360.4 247.2M360.4 247.2 L361.6 251.0 L358.5 253.9 L357.6 261.2M368.0 228.3 L368.7 226.9 L372.1 220.5 L373.7 217.0 L374.0 215.8 L375.1 208.0M374.0 215.8 L376.3 216.1 L379.9 215.0 L382.3 215.5 L385.8 218.7 L388.0 221.1M388.0 221.1 L386.5 223.4 L387.0 225.4 L388.9 225.4M388.9 225.4 L390.1 228.6 L391.8 231.2 L401.0 234.1 L394.1 243.2 L391.1 244.0 L387.3 245.2M387.3 245.2 L384.6 246.1 L381.1 247.2 L377.5 246.9 L372.8 244.3 L371.6 244.0M387.3 245.2 L384.6 249.3 L384.6 259.7 L386.1 262.1M367.8 245.8 L369.2 248.7 L370.4 252.5 L368.0 256.5 L367.8 257.4 L368.0 260.3M368.0 260.3 L376.6 266.4 L380.4 271.1M357.6 260.3 L367.8 260.3M357.6 261.2 L359.7 260.6 L360.7 264.4M356.2 261.8 L356.6 265.5 L356.2 270.5M356.2 265.5 L359.7 264.4M359.7 264.4 L360.4 267.0 L359.0 269.6 L357.3 270.5M357.1 270.5 L360.0 281.2M360.0 281.2 L355.9 282.1 L355.4 285.3 L354.7 289.4 L356.2 293.4 L357.3 295.8 L352.6 292.3 L347.9 290.8 L344.3 289.4M316.5 274.8 L326.0 274.5 L329.1 280.9 L333.4 280.7 L333.4 278.0 L339.1 278.6 L339.5 284.4 L344.1 288.8 L344.3 289.4M344.3 289.4 L344.3 295.2 L339.5 295.2 L339.5 304.5M360.0 281.2 L365.4 284.7M365.4 284.7 L366.1 289.1 L365.7 293.7 L364.9 296.9M365.4 284.7 L368.0 285.0 L369.5 291.1M369.5 291.1 L370.4 298.7 L372.3 299.5 L371.1 304.2M369.5 291.1 L376.3 291.1 L383.2 287.9M364.9 296.9 L359.5 302.7M390.3 220.2 L390.3 219.6" fill="none" stroke="#111" stroke-width="0.85" stroke-linejoin="round"/><rect x="302.5" y="256.0" width="1" height="1" fill="#222"/><rect x="304.4" y="252.2" width="1" height="1" fill="#222"/><rect x="300.1" y="261.0" width="1" height="1" fill="#222"/><rect x="380.1" y="274.6" width="1" height="1" fill="#222"/><rect x="381.1" y="271.7" width="1" height="1" fill="#222"/><rect x="389.6" y="290.6" width="1" height="1" fill="#222"/><rect x="390.1" y="291.5" width="1" height="1" fill="#222"/><rect x="390.8" y="292.7" width="1" height="1" fill="#222"/><rect x="392.2" y="292.4" width="1" height="1" fill="#222"/><rect x="393.9" y="294.1" width="1" height="1" fill="#222"/><rect x="396.7" y="284.2" width="1" height="1" fill="#222"/><rect x="399.6" y="285.1" width="1" height="1" fill="#222"/><rect x="252.6" y="279.9" width="1" height="1" fill="#222"/><rect x="418.6" y="270.3" width="1" height="1" fill="#222"/><rect x="412.6" y="275.8" width="1" height="1" fill="#222"/></g><rect x="244.6" y="213.8" width="170.9" height="87.2" fill="none" stroke="#777" stroke-width="0.9"/><line x1="242.4" y1="213.8" x2="244.6" y2="213.8" stroke="#333" stroke-width="0.8"/><text x="240.0" y="218.7" class="tk" text-anchor="end">15°N</text><line x1="242.4" y1="228.3" x2="244.6" y2="228.3" stroke="#333" stroke-width="0.8"/><text x="240.0" y="233.2" class="tk" text-anchor="end">10°N</text><line x1="242.4" y1="242.9" x2="244.6" y2="242.9" stroke="#333" stroke-width="0.8"/><text x="240.0" y="247.8" class="tk" text-anchor="end">5°N</text><line x1="242.4" y1="257.4" x2="244.6" y2="257.4" stroke="#333" stroke-width="0.8"/><text x="240.0" y="262.3" class="tk" text-anchor="end">0°</text><line x1="242.4" y1="271.9" x2="244.6" y2="271.9" stroke="#333" stroke-width="0.8"/><text x="240.0" y="276.8" class="tk" text-anchor="end">5°S</text><line x1="242.4" y1="286.5" x2="244.6" y2="286.5" stroke="#333" stroke-width="0.8"/><text x="240.0" y="291.4" class="tk" text-anchor="end">10°S</text><line x1="242.4" y1="301.0" x2="244.6" y2="301.0" stroke="#333" stroke-width="0.8"/><text x="240.0" y="304.6" class="tk" text-anchor="end">15°S</text><line x1="287.3" y1="213.8" x2="287.3" y2="215.8" stroke="#333" stroke-width="0.8"/><line x1="330.1" y1="213.8" x2="330.1" y2="215.8" stroke="#333" stroke-width="0.8"/><line x1="372.8" y1="213.8" x2="372.8" y2="215.8" stroke="#333" stroke-width="0.8"/><line x1="415.5" y1="213.8" x2="415.5" y2="215.8" stroke="#333" stroke-width="0.8"/><line x1="244.6" y1="301.0" x2="244.6" y2="303.0" stroke="#333" stroke-width="0.8"/><line x1="287.3" y1="301.0" x2="287.3" y2="303.0" stroke="#333" stroke-width="0.8"/><line x1="330.1" y1="301.0" x2="330.1" y2="303.0" stroke="#333" stroke-width="0.8"/><line x1="372.8" y1="301.0" x2="372.8" y2="303.0" stroke="#333" stroke-width="0.8"/><line x1="415.5" y1="301.0" x2="415.5" y2="303.0" stroke="#333" stroke-width="0.8"/><text x="248.9" y="211.1" class="tt" textLength="81.6" lengthAdjust="spacingAndGlyphs">(b3) AUTUMN, (corr AET-SST)</text><text transform="translate(220.9 258.2) rotate(-90)" class="yl" text-anchor="middle" textLength="53.0" lengthAdjust="spacingAndGlyphs">correlation&#160; AET-SST</text><clipPath id="ca4"><rect x="36.7" y="315.4" width="170.8" height="87.0"/></clipPath><clipPath id="la4"><path d="M41.4 308.1 L40.3 312.5 L38.8 315.4 L37.9 316.3 L39.1 317.1 L39.5 318.9 L39.8 320.3 L39.5 322.6 L40.5 324.1 L42.6 325.5 L43.8 327.3 L44.8 328.4 L46.2 330.5 L47.8 332.2 L48.1 334.2 L49.0 336.3 L50.9 338.0 L52.4 339.2 L53.8 340.6 L56.9 343.2 L59.2 345.3 L61.4 346.3 L64.0 345.6 L67.5 344.1 L69.9 343.7 L72.3 344.1 L74.7 345.1 L77.0 344.1 L79.4 342.7 L81.8 341.8 L85.3 340.6 L87.5 340.3 L90.1 341.2 L91.7 342.9 L92.7 345.6 L94.1 346.4 L96.0 346.1 L98.4 345.6 L100.0 345.8 L101.2 347.3 L102.4 349.0 L102.6 351.9 L102.6 356.0 L101.7 358.0 L101.5 359.8 L100.3 360.9 L101.2 363.2 L103.1 367.0 L105.5 369.9 L107.4 372.8 L108.3 375.1 L108.6 376.6 L110.0 380.1 L110.7 384.4 L111.2 386.4 L112.1 389.9 L111.9 392.8 L111.4 394.9 L109.3 397.8 L108.6 400.4 L108.1 403.0 L107.9 406.8 L173.1 406.8 L175.7 403.0 L176.2 400.9 L175.7 396.6 L175.5 392.2 L175.2 389.3 L173.6 385.9 L172.6 383.0 L172.6 379.2 L171.7 377.8 L172.2 374.8 L172.4 372.5 L173.6 370.5 L174.5 368.5 L175.0 366.4 L176.7 364.7 L178.1 363.5 L180.2 360.3 L182.6 356.6 L185.0 354.3 L186.9 353.1 L189.7 350.2 L192.3 346.4 L194.5 342.9 L196.4 338.6 L197.8 334.2 L199.4 329.9 L200.6 328.2 L201.1 324.7 L199.2 324.4 L196.8 326.1 L194.5 326.4 L190.9 327.3 L188.0 327.9 L186.2 328.7 L183.8 328.4 L182.4 326.1 L180.9 325.5 L181.9 324.7 L182.1 322.9 L180.7 321.2 L179.0 318.9 L176.7 316.8 L174.3 314.5 L173.1 313.7 L171.9 311.0 L170.7 308.1ZM180.2 308.1 L180.7 311.0 L180.9 314.5 L181.2 316.0 L181.9 318.3 L182.1 320.3 L182.6 322.1 L183.8 322.4 L186.2 321.8 L188.5 320.0 L192.1 318.6 L194.9 318.3 L196.8 316.6 L199.2 315.4 L203.2 313.7 L205.1 311.9 L209.9 308.7 L213.4 307.0 L213.4 305.2 L180.2 305.2ZM196.4 393.6 L197.1 395.1 L197.8 397.2 L198.5 400.9 L198.7 403.3 L199.2 406.8 L185.0 406.8 L188.5 405.0 L191.1 402.4 L192.8 399.5 L194.0 397.8 L195.2 395.1ZM205.8 322.4 L207.5 322.1 L208.7 322.6 L207.5 323.2 L206.1 322.9ZM99.6 348.2 L100.5 347.9 L100.5 349.3 L99.8 349.6Z"/></clipPath><g clip-path="url(#ca4)"><g clip-path="url(#la4)"><g filter="url(#bl)"><path d="M36.4 315.1h5.3v6.4h-5.3zM69.6 315.1h5.3v6.4h-5.3zM79.1 315.1h10.1v6.4h-10.1zM98.1 315.1h5.3v6.4h-5.3zM117.1 315.1h14.8v6.4h-14.8zM36.4 320.9h5.3v6.4h-5.3zM64.9 320.9h24.3v6.4h-24.3zM107.6 320.9h24.3v6.4h-24.3zM159.8 320.9h10.1v6.4h-10.1zM36.4 326.7h10.1v6.4h-10.1zM60.1 326.7h19.6v6.4h-19.6zM83.8 326.7h5.3v6.4h-5.3zM107.6 326.7h19.6v6.4h-19.6zM155.0 326.7h14.8v6.4h-14.8zM36.4 332.5h10.1v6.4h-10.1zM60.1 332.5h19.6v6.4h-19.6zM83.8 332.5h5.3v6.4h-5.3zM93.3 332.5h29.1v6.4h-29.1zM155.0 332.5h19.6v6.4h-19.6zM36.4 338.3h10.1v6.4h-10.1zM60.1 338.3h14.8v6.4h-14.8zM83.8 338.3h38.6v6.4h-38.6zM150.3 338.3h14.8v6.4h-14.8zM36.4 344.1h10.1v6.4h-10.1zM60.1 344.1h14.8v6.4h-14.8zM83.8 344.1h29.1v6.4h-29.1zM150.3 344.1h19.6v6.4h-19.6zM36.4 349.9h10.1v6.4h-10.1zM60.1 349.9h14.8v6.4h-14.8zM83.8 349.9h14.8v6.4h-14.8zM150.3 349.9h5.3v6.4h-5.3zM159.8 349.9h5.3v6.4h-5.3zM36.4 355.7h10.1v6.4h-10.1zM60.1 355.7h14.8v6.4h-14.8zM83.8 355.7h5.3v6.4h-5.3zM36.4 361.5h10.1v6.4h-10.1zM60.1 361.5h14.8v6.4h-14.8zM83.8 361.5h5.3v6.4h-5.3zM145.5 361.5h10.1v6.4h-10.1zM36.4 367.3h10.1v6.4h-10.1zM60.1 367.3h14.8v6.4h-14.8zM145.5 367.3h5.3v6.4h-5.3zM36.4 373.1h10.1v6.4h-10.1zM60.1 373.1h14.8v6.4h-14.8zM36.4 378.9h10.1v6.4h-10.1zM60.1 378.9h14.8v6.4h-14.8zM36.4 384.7h10.1v6.4h-10.1zM60.1 384.7h14.8v6.4h-14.8zM36.4 390.5h10.1v6.4h-10.1zM60.1 390.5h10.1v6.4h-10.1zM36.4 396.3h10.1v6.4h-10.1zM60.1 396.3h5.3v6.4h-5.3z" fill="#7494ee"/><path d="M41.1 315.1h19.6v6.4h-19.6zM41.1 320.9h19.6v6.4h-19.6zM45.9 326.7h14.8v6.4h-14.8zM45.9 332.5h10.1v6.4h-10.1zM45.9 338.3h10.1v6.4h-10.1zM45.9 344.1h10.1v6.4h-10.1zM45.9 349.9h10.1v6.4h-10.1zM45.9 355.7h10.1v6.4h-10.1zM45.9 361.5h10.1v6.4h-10.1zM45.9 367.3h10.1v6.4h-10.1zM45.9 373.1h10.1v6.4h-10.1zM45.9 378.9h10.1v6.4h-10.1zM45.9 384.7h10.1v6.4h-10.1zM45.9 390.5h10.1v6.4h-10.1zM45.9 396.3h10.1v6.4h-10.1z" fill="#9fbaf6"/><path d="M60.1 315.1h10.1v6.4h-10.1zM74.4 315.1h5.3v6.4h-5.3zM88.6 315.1h10.1v6.4h-10.1zM102.8 315.1h10.1v6.4h-10.1zM60.1 320.9h5.3v6.4h-5.3zM88.6 320.9h19.6v6.4h-19.6zM79.1 326.7h5.3v6.4h-5.3zM88.6 326.7h5.3v6.4h-5.3zM98.1 326.7h10.1v6.4h-10.1zM131.3 326.7h5.3v6.4h-5.3zM55.4 332.5h5.3v6.4h-5.3zM79.1 332.5h5.3v6.4h-5.3zM88.6 332.5h5.3v6.4h-5.3zM126.5 332.5h14.8v6.4h-14.8zM183.5 332.5h5.3v6.4h-5.3zM55.4 338.3h5.3v6.4h-5.3zM74.4 338.3h5.3v6.4h-5.3zM136.0 338.3h5.3v6.4h-5.3zM174.0 338.3h10.1v6.4h-10.1zM55.4 344.1h5.3v6.4h-5.3zM74.4 344.1h5.3v6.4h-5.3zM112.3 344.1h5.3v6.4h-5.3zM55.4 349.9h5.3v6.4h-5.3zM74.4 349.9h5.3v6.4h-5.3zM107.6 349.9h5.3v6.4h-5.3zM55.4 355.7h5.3v6.4h-5.3zM74.4 355.7h5.3v6.4h-5.3zM55.4 361.5h5.3v6.4h-5.3zM74.4 361.5h5.3v6.4h-5.3zM55.4 367.3h5.3v6.4h-5.3zM74.4 367.3h5.3v6.4h-5.3zM55.4 373.1h5.3v6.4h-5.3zM74.4 373.1h5.3v6.4h-5.3zM55.4 378.9h5.3v6.4h-5.3zM74.4 378.9h5.3v6.4h-5.3zM55.4 384.7h5.3v6.4h-5.3zM55.4 390.5h5.3v6.4h-5.3zM55.4 396.3h5.3v6.4h-5.3z" fill="#7f9ff7"/><path d="M112.3 315.1h5.3v6.4h-5.3zM174.0 315.1h5.3v6.4h-5.3zM193.0 315.1h14.8v6.4h-14.8zM145.5 378.9h5.3v6.4h-5.3z" fill="#ececec"/><path d="M131.3 315.1h5.3v6.4h-5.3zM140.8 315.1h5.3v6.4h-5.3zM150.3 315.1h5.3v6.4h-5.3zM164.5 315.1h10.1v6.4h-10.1zM178.7 315.1h14.8v6.4h-14.8zM131.3 320.9h10.1v6.4h-10.1zM150.3 320.9h10.1v6.4h-10.1zM169.2 320.9h10.1v6.4h-10.1zM188.2 320.9h19.6v6.4h-19.6zM93.3 326.7h5.3v6.4h-5.3zM126.5 326.7h5.3v6.4h-5.3zM136.0 326.7h5.3v6.4h-5.3zM145.5 326.7h10.1v6.4h-10.1zM169.2 326.7h10.1v6.4h-10.1zM193.0 326.7h14.8v6.4h-14.8zM121.8 332.5h5.3v6.4h-5.3zM140.8 332.5h14.8v6.4h-14.8zM174.0 332.5h10.1v6.4h-10.1zM188.2 332.5h19.6v6.4h-19.6zM79.1 338.3h5.3v6.4h-5.3zM121.8 338.3h14.8v6.4h-14.8zM140.8 338.3h10.1v6.4h-10.1zM164.5 338.3h10.1v6.4h-10.1zM183.5 338.3h24.3v6.4h-24.3zM79.1 344.1h5.3v6.4h-5.3zM140.8 344.1h10.1v6.4h-10.1zM169.2 344.1h38.6v6.4h-38.6zM79.1 349.9h5.3v6.4h-5.3zM98.1 349.9h10.1v6.4h-10.1zM112.3 349.9h5.3v6.4h-5.3zM140.8 349.9h5.3v6.4h-5.3zM155.0 349.9h5.3v6.4h-5.3zM164.5 349.9h43.3v6.4h-43.3zM79.1 355.7h5.3v6.4h-5.3zM88.6 355.7h24.3v6.4h-24.3zM140.8 355.7h5.3v6.4h-5.3zM150.3 355.7h57.5v6.4h-57.5zM79.1 361.5h5.3v6.4h-5.3zM88.6 361.5h19.6v6.4h-19.6zM140.8 361.5h5.3v6.4h-5.3zM155.0 361.5h43.3v6.4h-43.3zM79.1 367.3h5.3v6.4h-5.3zM150.3 367.3h10.1v6.4h-10.1zM164.5 367.3h29.1v6.4h-29.1zM79.1 373.1h5.3v6.4h-5.3zM131.3 373.1h10.1v6.4h-10.1zM145.5 373.1h10.1v6.4h-10.1zM169.2 373.1h19.6v6.4h-19.6zM131.3 378.9h10.1v6.4h-10.1zM150.3 378.9h5.3v6.4h-5.3zM169.2 378.9h19.6v6.4h-19.6zM131.3 384.7h5.3v6.4h-5.3zM155.0 384.7h29.1v6.4h-29.1zM126.5 390.5h5.3v6.4h-5.3zM155.0 390.5h29.1v6.4h-29.1zM126.5 396.3h10.1v6.4h-10.1zM145.5 396.3h38.6v6.4h-38.6z" fill="#c0d3f6"/><path d="M136.0 315.1h5.3v6.4h-5.3zM145.5 315.1h5.3v6.4h-5.3zM155.0 315.1h10.1v6.4h-10.1zM140.8 320.9h10.1v6.4h-10.1zM178.7 320.9h10.1v6.4h-10.1zM140.8 326.7h5.3v6.4h-5.3zM178.7 326.7h14.8v6.4h-14.8zM117.1 344.1h24.3v6.4h-24.3zM117.1 349.9h5.3v6.4h-5.3zM136.0 349.9h5.3v6.4h-5.3zM145.5 349.9h5.3v6.4h-5.3zM112.3 355.7h10.1v6.4h-10.1zM145.5 355.7h5.3v6.4h-5.3zM107.6 361.5h10.1v6.4h-10.1zM197.7 361.5h10.1v6.4h-10.1zM83.8 367.3h33.8v6.4h-33.8zM136.0 367.3h10.1v6.4h-10.1zM159.8 367.3h5.3v6.4h-5.3zM193.0 367.3h14.8v6.4h-14.8zM83.8 373.1h29.1v6.4h-29.1zM121.8 373.1h10.1v6.4h-10.1zM140.8 373.1h5.3v6.4h-5.3zM155.0 373.1h14.8v6.4h-14.8zM188.2 373.1h19.6v6.4h-19.6zM79.1 378.9h33.8v6.4h-33.8zM117.1 378.9h14.8v6.4h-14.8zM140.8 378.9h5.3v6.4h-5.3zM155.0 378.9h14.8v6.4h-14.8zM188.2 378.9h19.6v6.4h-19.6zM74.4 384.7h38.6v6.4h-38.6zM117.1 384.7h5.3v6.4h-5.3zM126.5 384.7h5.3v6.4h-5.3zM145.5 384.7h10.1v6.4h-10.1zM183.5 384.7h24.3v6.4h-24.3zM69.6 390.5h57.5v6.4h-57.5zM131.3 390.5h5.3v6.4h-5.3zM145.5 390.5h10.1v6.4h-10.1zM183.5 390.5h24.3v6.4h-24.3zM64.9 396.3h62.3v6.4h-62.3zM136.0 396.3h10.1v6.4h-10.1zM183.5 396.3h24.3v6.4h-24.3z" fill="#f3cbb6"/><path d="M121.8 349.9h14.8v6.4h-14.8zM121.8 355.7h19.6v6.4h-19.6zM117.1 361.5h24.3v6.4h-24.3zM117.1 367.3h19.6v6.4h-19.6zM112.3 373.1h10.1v6.4h-10.1zM112.3 378.9h5.3v6.4h-5.3zM112.3 384.7h5.3v6.4h-5.3zM121.8 384.7h5.3v6.4h-5.3zM136.0 384.7h10.1v6.4h-10.1zM136.0 390.5h10.1v6.4h-10.1z" fill="#f0ae92"/></g><mask id="ma4D" maskUnits="userSpaceOnUse" x="31.7" y="310.4" width="180.8" height="97.0"><path filter="url(#bl2)" d="M36.4 315.1h24.3v6.4h-24.3zM69.6 315.1h5.3v6.4h-5.3zM79.1 315.1h10.1v6.4h-10.1zM98.1 315.1h5.3v6.4h-5.3zM117.1 315.1h14.8v6.4h-14.8zM36.4 320.9h24.3v6.4h-24.3zM64.9 320.9h24.3v6.4h-24.3zM107.6 320.9h24.3v6.4h-24.3zM159.8 320.9h10.1v6.4h-10.1zM36.4 326.7h43.3v6.4h-43.3zM83.8 326.7h5.3v6.4h-5.3zM107.6 326.7h19.6v6.4h-19.6zM155.0 326.7h14.8v6.4h-14.8zM36.4 332.5h19.6v6.4h-19.6zM60.1 332.5h19.6v6.4h-19.6zM83.8 332.5h5.3v6.4h-5.3zM93.3 332.5h29.1v6.4h-29.1zM155.0 332.5h19.6v6.4h-19.6zM36.4 338.3h19.6v6.4h-19.6zM60.1 338.3h14.8v6.4h-14.8zM83.8 338.3h38.6v6.4h-38.6zM150.3 338.3h14.8v6.4h-14.8zM36.4 344.1h19.6v6.4h-19.6zM60.1 344.1h14.8v6.4h-14.8zM83.8 344.1h29.1v6.4h-29.1zM150.3 344.1h19.6v6.4h-19.6zM36.4 349.9h19.6v6.4h-19.6zM60.1 349.9h14.8v6.4h-14.8zM83.8 349.9h14.8v6.4h-14.8zM150.3 349.9h5.3v6.4h-5.3zM159.8 349.9h5.3v6.4h-5.3zM36.4 355.7h19.6v6.4h-19.6zM60.1 355.7h14.8v6.4h-14.8zM83.8 355.7h5.3v6.4h-5.3zM36.4 361.5h19.6v6.4h-19.6zM60.1 361.5h14.8v6.4h-14.8zM83.8 361.5h5.3v6.4h-5.3zM145.5 361.5h10.1v6.4h-10.1zM36.4 367.3h19.6v6.4h-19.6zM60.1 367.3h14.8v6.4h-14.8zM145.5 367.3h5.3v6.4h-5.3zM36.4 373.1h19.6v6.4h-19.6zM60.1 373.1h14.8v6.4h-14.8zM36.4 378.9h19.6v6.4h-19.6zM60.1 378.9h14.8v6.4h-14.8zM36.4 384.7h19.6v6.4h-19.6zM60.1 384.7h14.8v6.4h-14.8zM36.4 390.5h19.6v6.4h-19.6zM60.1 390.5h10.1v6.4h-10.1zM36.4 396.3h19.6v6.4h-19.6zM60.1 396.3h5.3v6.4h-5.3z" fill="#fff"/></mask><rect x="36.7" y="315.4" width="170.8" height="87.0" fill="url(#hb)" mask="url(#ma4D)"/><mask id="ma4R" maskUnits="userSpaceOnUse" x="31.7" y="310.4" width="180.8" height="97.0"><path filter="url(#bl2)" d="M121.8 349.9h14.8v6.4h-14.8zM121.8 355.7h19.6v6.4h-19.6zM117.1 361.5h24.3v6.4h-24.3zM117.1 367.3h19.6v6.4h-19.6zM112.3 373.1h10.1v6.4h-10.1zM112.3 378.9h5.3v6.4h-5.3zM112.3 384.7h5.3v6.4h-5.3zM121.8 384.7h5.3v6.4h-5.3zM136.0 384.7h10.1v6.4h-10.1zM136.0 390.5h10.1v6.4h-10.1z" fill="#fff"/></mask><rect x="36.7" y="315.4" width="170.8" height="87.0" fill="url(#hr)" mask="url(#ma4R)"/></g><path d="M154.8 360.1 L156.5 358.3 L158.4 358.0 L160.3 358.9 L160.1 360.3 L159.8 364.1 L158.2 366.1 L156.3 366.4 L154.6 364.1 L154.6 361.8ZM148.7 368.5 L149.1 368.8 L149.6 371.9 L150.6 375.1 L152.0 378.0 L152.9 380.9 L153.2 383.5 L152.5 384.4 L151.5 382.7 L149.9 379.2 L148.9 376.3 L148.4 372.8ZM160.1 386.4 L161.2 387.3 L161.7 390.8 L162.2 393.7 L162.4 396.6 L163.1 400.4 L162.2 400.7 L161.2 398.3 L160.5 395.1 L160.1 390.8ZM164.6 345.8 L165.5 346.1 L166.0 349.3 L166.0 351.6 L165.3 351.4 L164.8 348.8ZM78.7 334.0 L79.9 333.7 L80.3 337.1 L79.6 340.3 L78.9 338.6 L78.2 335.7ZM167.2 323.2 L168.4 323.2 L168.6 325.0 L167.6 325.3ZM151.5 354.5 L152.0 353.4 L153.9 352.5 L153.4 353.7 L151.8 355.7ZM148.2 363.8 L148.9 363.8 L148.7 366.1 L148.0 365.9ZM146.8 384.1 L148.2 383.5 L148.4 386.2 L147.2 386.4ZM111.4 318.9 L113.8 318.6 L114.0 321.2 L112.4 322.1 L111.0 320.6ZM149.6 390.8 L150.6 390.5 L150.8 392.5 L149.6 392.2Z" fill="#fff" stroke="#222" stroke-width="0.5"/><path d="M41.4 308.1 L40.3 312.5 L38.8 315.4 L37.9 316.3 L39.1 317.1 L39.5 318.9 L39.8 320.3 L39.5 322.6 L40.5 324.1 L42.6 325.5 L43.8 327.3 L44.8 328.4 L46.2 330.5 L47.8 332.2 L48.1 334.2 L49.0 336.3 L50.9 338.0 L52.4 339.2 L53.8 340.6 L56.9 343.2 L59.2 345.3 L61.4 346.3 L64.0 345.6 L67.5 344.1 L69.9 343.7 L72.3 344.1 L74.7 345.1 L77.0 344.1 L79.4 342.7 L81.8 341.8 L85.3 340.6 L87.5 340.3 L90.1 341.2 L91.7 342.9 L92.7 345.6 L94.1 346.4 L96.0 346.1 L98.4 345.6 L100.0 345.8 L101.2 347.3 L102.4 349.0 L102.6 351.9 L102.6 356.0 L101.7 358.0 L101.5 359.8 L100.3 360.9 L101.2 363.2 L103.1 367.0 L105.5 369.9 L107.4 372.8 L108.3 375.1 L108.6 376.6 L110.0 380.1 L110.7 384.4 L111.2 386.4 L112.1 389.9 L111.9 392.8 L111.4 394.9 L109.3 397.8 L108.6 400.4 L108.1 403.0 L107.9 406.8 L173.1 406.8 L175.7 403.0 L176.2 400.9 L175.7 396.6 L175.5 392.2 L175.2 389.3 L173.6 385.9 L172.6 383.0 L172.6 379.2 L171.7 377.8 L172.2 374.8 L172.4 372.5 L173.6 370.5 L174.5 368.5 L175.0 366.4 L176.7 364.7 L178.1 363.5 L180.2 360.3 L182.6 356.6 L185.0 354.3 L186.9 353.1 L189.7 350.2 L192.3 346.4 L194.5 342.9 L196.4 338.6 L197.8 334.2 L199.4 329.9 L200.6 328.2 L201.1 324.7 L199.2 324.4 L196.8 326.1 L194.5 326.4 L190.9 327.3 L188.0 327.9 L186.2 328.7 L183.8 328.4 L182.4 326.1 L180.9 325.5 L181.9 324.7 L182.1 322.9 L180.7 321.2 L179.0 318.9 L176.7 316.8 L174.3 314.5 L173.1 313.7 L171.9 311.0 L170.7 308.1ZM180.2 308.1 L180.7 311.0 L180.9 314.5 L181.2 316.0 L181.9 318.3 L182.1 320.3 L182.6 322.1 L183.8 322.4 L186.2 321.8 L188.5 320.0 L192.1 318.6 L194.9 318.3 L196.8 316.6 L199.2 315.4 L203.2 313.7 L205.1 311.9 L209.9 308.7 L213.4 307.0 L213.4 305.2 L180.2 305.2ZM196.4 393.6 L197.1 395.1 L197.8 397.2 L198.5 400.9 L198.7 403.3 L199.2 406.8 L185.0 406.8 L188.5 405.0 L191.1 402.4 L192.8 399.5 L194.0 397.8 L195.2 395.1ZM205.8 322.4 L207.5 322.1 L208.7 322.6 L207.5 323.2 L206.1 322.9ZM99.6 348.2 L100.5 347.9 L100.5 349.3 L99.8 349.6Z" fill="none" stroke="#0a0a0a" stroke-width="1.1" stroke-linejoin="round"/><path d="M50.5 316.3 L52.4 322.9M39.8 319.5 L46.7 319.8M39.8 320.9 L46.7 320.3M39.8 323.1 L46.9 322.4 L52.4 322.9M46.9 322.4 L46.9 325.0 L43.8 327.3M47.8 332.8 L50.0 330.2 L52.8 329.9 L54.3 331.9 L54.3 334.8 L52.1 338.9M54.3 334.8 L56.9 334.2 L59.2 336.9M59.2 336.9 L61.6 342.1 L61.6 346.1M52.4 322.9 L54.5 324.4 L58.1 322.9 L59.7 326.1 L60.4 329.3M60.4 329.3 L60.7 333.4 L59.2 336.9M60.4 329.3 L66.4 328.7 L68.3 330.8 L73.0 331.3M66.6 328.7 L67.1 325.8 L69.0 322.6 L72.3 319.5 L77.0 315.4 L79.9 315.7M73.0 331.3 L72.5 336.0 L71.8 340.9 L72.5 344.4M73.0 331.3 L72.8 327.0 L79.4 327.0M79.4 327.0 L80.6 329.9 L80.8 335.1 L82.2 341.2M81.5 327.0 L82.7 331.6 L83.2 340.9M79.4 327.0 L81.5 327.0 L84.9 324.7 L85.1 323.2M79.9 315.7 L80.3 319.2 L81.8 321.2 L84.6 322.4 L85.1 323.2M85.8 340.3 L85.8 332.5 L87.9 328.7 L87.9 325.0M85.1 323.2 L87.9 325.0M87.9 325.0 L89.1 319.8 L93.6 319.2 L98.4 320.9 L103.1 320.6 L108.6 320.9 L111.7 319.2 L113.1 320.9M99.8 345.3 L100.8 340.9 L103.1 338.6 L107.4 338.3 L107.9 335.7 L110.2 331.3 L111.0 329.3 L112.1 327.0 L114.0 324.1 L113.1 320.9M114.0 324.1 L115.0 327.3 L116.2 329.9 L112.6 331.3 L116.2 337.1M116.2 337.1 L113.8 342.9 L114.0 346.7 L115.5 350.2 L117.6 352.5M102.6 352.5 L106.2 352.5 L111.0 352.5 L117.6 352.5M106.2 352.5 L106.2 356.0 L102.2 356.0M111.0 352.5 L110.7 355.4 L113.8 360.3 L113.3 364.7 L109.1 365.9 L105.7 370.2M123.5 348.8 L121.4 360.3 L118.3 364.7 L116.2 371.1 L110.5 372.2 L107.9 373.4M117.6 352.5 L119.0 348.8 L123.5 348.8M123.5 348.8 L126.8 346.4 L132.5 347.0 L137.5 344.1 L141.1 343.8 L144.4 344.1M116.2 337.1 L119.0 337.1 L123.3 333.1 L129.2 331.3 L131.6 327.3 L133.7 327.0M133.7 327.0 L135.6 333.7 L138.7 337.1 L142.3 340.6 L144.4 344.1M133.7 327.0 L132.8 322.4 L132.1 318.9 L134.0 315.4 L136.3 313.4M135.6 333.7 L138.7 329.3 L142.3 331.1 L145.3 331.1 L150.6 329.0 L155.3 323.8 L158.2 323.5 L160.1 329.9M160.1 329.9 L160.5 334.2 L157.7 336.3 L159.8 341.5 L163.6 345.6M163.6 345.6 L161.0 345.6 L159.8 347.3M159.8 347.3 L155.3 348.5 L152.5 348.8M144.4 344.1 L148.2 346.1 L152.5 348.8M152.5 348.8 L153.7 352.5 L150.6 355.4 L149.6 362.7M160.1 329.9 L160.8 328.4 L164.1 322.1 L165.7 318.6 L166.0 317.4 L167.2 309.6M166.0 317.4 L168.4 317.7 L171.9 316.6 L174.3 317.1 L177.8 320.3 L180.0 322.6M180.0 322.6 L178.6 325.0 L179.0 327.0 L180.9 327.0M180.9 327.0 L182.1 330.2 L183.8 332.8 L193.0 335.7 L186.2 344.7 L183.1 345.6 L179.3 346.7M179.3 346.7 L176.7 347.6 L173.1 348.8 L169.5 348.5 L164.8 345.8 L163.6 345.6M179.3 346.7 L176.7 350.8 L176.7 361.2 L178.1 363.5M159.8 347.3 L161.2 350.2 L162.4 354.0 L160.1 358.0 L159.8 358.9 L160.1 361.8M160.1 361.8 L168.6 367.9 L172.4 372.5M149.6 361.8 L159.8 361.8M149.6 362.7 L151.8 362.1 L152.7 365.9M148.2 363.2 L148.7 367.0 L148.2 371.9M148.2 367.0 L151.8 365.9M151.8 365.9 L152.5 368.5 L151.0 371.1 L149.4 371.9M149.1 371.9 L152.0 382.7M152.0 382.7 L148.0 383.5 L147.5 386.7 L146.8 390.8 L148.2 394.9 L149.4 397.2 L144.6 393.7 L139.9 392.2 L136.3 390.8M108.6 376.3 L118.1 376.0 L121.2 382.4 L125.4 382.1 L125.4 379.5 L131.1 380.1 L131.6 385.9 L136.1 390.2 L136.3 390.8M136.3 390.8 L136.3 396.6 L131.6 396.6 L131.6 405.9M152.0 382.7 L157.4 386.2M157.4 386.2 L158.2 390.5 L157.7 395.1 L157.0 398.3M157.4 386.2 L160.1 386.4 L161.5 392.5M161.5 392.5 L162.4 400.1 L164.3 400.9 L163.1 405.6M161.5 392.5 L168.4 392.5 L175.2 389.3M157.0 398.3 L151.5 404.1M182.4 321.8 L182.4 321.2" fill="none" stroke="#111" stroke-width="0.85" stroke-linejoin="round"/><rect x="94.6" y="357.5" width="1" height="1" fill="#222"/><rect x="96.5" y="353.8" width="1" height="1" fill="#222"/><rect x="92.2" y="362.5" width="1" height="1" fill="#222"/><rect x="172.1" y="376.1" width="1" height="1" fill="#222"/><rect x="173.1" y="373.2" width="1" height="1" fill="#222"/><rect x="181.6" y="392.0" width="1" height="1" fill="#222"/><rect x="182.1" y="392.9" width="1" height="1" fill="#222"/><rect x="182.8" y="394.1" width="1" height="1" fill="#222"/><rect x="184.2" y="393.8" width="1" height="1" fill="#222"/><rect x="185.9" y="395.5" width="1" height="1" fill="#222"/><rect x="188.7" y="385.7" width="1" height="1" fill="#222"/><rect x="191.6" y="386.5" width="1" height="1" fill="#222"/><rect x="44.7" y="381.3" width="1" height="1" fill="#222"/><rect x="210.6" y="371.7" width="1" height="1" fill="#222"/><rect x="204.6" y="377.2" width="1" height="1" fill="#222"/></g><rect x="36.7" y="315.4" width="170.8" height="87.0" fill="none" stroke="#777" stroke-width="0.9"/><line x1="34.5" y1="315.4" x2="36.7" y2="315.4" stroke="#333" stroke-width="0.8"/><text x="30.6" y="320.3" class="tk" text-anchor="end">15°N</text><line x1="34.5" y1="329.9" x2="36.7" y2="329.9" stroke="#333" stroke-width="0.8"/><text x="30.6" y="334.8" class="tk" text-anchor="end">10°N</text><line x1="34.5" y1="344.4" x2="36.7" y2="344.4" stroke="#333" stroke-width="0.8"/><text x="30.6" y="349.3" class="tk" text-anchor="end">5°N</text><line x1="34.5" y1="358.9" x2="36.7" y2="358.9" stroke="#333" stroke-width="0.8"/><text x="30.6" y="363.8" class="tk" text-anchor="end">0°</text><line x1="34.5" y1="373.4" x2="36.7" y2="373.4" stroke="#333" stroke-width="0.8"/><text x="30.6" y="378.3" class="tk" text-anchor="end">5°S</text><line x1="34.5" y1="387.9" x2="36.7" y2="387.9" stroke="#333" stroke-width="0.8"/><text x="30.6" y="392.8" class="tk" text-anchor="end">10°S</text><line x1="34.5" y1="402.4" x2="36.7" y2="402.4" stroke="#333" stroke-width="0.8"/><text x="30.6" y="406.0" class="tk" text-anchor="end">15°S</text><line x1="79.4" y1="315.4" x2="79.4" y2="317.4" stroke="#333" stroke-width="0.8"/><line x1="122.1" y1="315.4" x2="122.1" y2="317.4" stroke="#333" stroke-width="0.8"/><line x1="164.8" y1="315.4" x2="164.8" y2="317.4" stroke="#333" stroke-width="0.8"/><line x1="207.5" y1="315.4" x2="207.5" y2="317.4" stroke="#333" stroke-width="0.8"/><line x1="36.7" y1="402.4" x2="36.7" y2="404.4" stroke="#333" stroke-width="0.8"/><line x1="79.4" y1="402.4" x2="79.4" y2="404.4" stroke="#333" stroke-width="0.8"/><line x1="122.1" y1="402.4" x2="122.1" y2="404.4" stroke="#333" stroke-width="0.8"/><line x1="164.8" y1="402.4" x2="164.8" y2="404.4" stroke="#333" stroke-width="0.8"/><line x1="207.5" y1="402.4" x2="207.5" y2="404.4" stroke="#333" stroke-width="0.8"/><text x="41.2" y="311.5" class="tt" textLength="78.8" lengthAdjust="spacingAndGlyphs">(a4) WINTER,&#160; (corr PET-SST)</text><text transform="translate(11.4 361.9) rotate(-90)" class="yl" text-anchor="middle" textLength="56.5" lengthAdjust="spacingAndGlyphs">correlation&#160; PET-SST</text><clipPath id="cb4"><rect x="246.0" y="314.8" width="169.5" height="87.5"/></clipPath><clipPath id="lb4"><path d="M250.7 307.5 L249.5 311.9 L248.1 314.8 L247.2 315.7 L248.4 316.6 L248.8 318.3 L249.1 319.8 L248.8 322.1 L249.8 323.6 L251.9 325.0 L253.1 326.8 L254.0 327.9 L255.4 330.0 L257.1 331.7 L257.3 333.8 L258.2 335.8 L260.1 337.6 L261.5 338.7 L262.9 340.2 L266.0 342.8 L268.4 344.8 L270.5 345.9 L273.1 345.1 L276.6 343.7 L279.0 343.2 L281.3 343.7 L283.7 344.7 L286.0 343.7 L288.4 342.2 L290.7 341.3 L294.3 340.2 L296.4 339.9 L299.0 340.8 L300.6 342.5 L301.6 345.1 L303.0 346.0 L304.9 345.7 L307.2 345.1 L308.9 345.4 L310.0 346.9 L311.2 348.6 L311.4 351.6 L311.4 355.6 L310.5 357.7 L310.3 359.4 L309.1 360.6 L310.0 362.9 L311.9 366.7 L314.3 369.6 L316.2 372.6 L317.1 374.9 L317.3 376.3 L318.7 379.8 L319.4 384.2 L319.9 386.3 L320.9 389.8 L320.6 392.7 L320.2 394.7 L318.0 397.6 L317.3 400.3 L316.9 402.9 L316.6 406.7 L381.4 406.7 L384.0 402.9 L384.4 400.8 L384.0 396.5 L383.7 392.1 L383.5 389.2 L381.8 385.7 L380.9 382.8 L380.9 379.0 L380.0 377.5 L380.4 374.6 L380.7 372.3 L381.8 370.2 L382.8 368.2 L383.2 366.1 L384.9 364.4 L386.3 363.2 L388.4 360.0 L390.8 356.2 L393.1 353.9 L395.0 352.7 L397.8 349.8 L400.4 346.0 L402.6 342.5 L404.4 338.1 L405.8 333.8 L407.5 329.4 L408.7 327.6 L409.1 324.1 L407.3 323.8 L404.9 325.6 L402.6 325.9 L399.0 326.8 L396.2 327.3 L394.3 328.2 L392.0 327.9 L390.5 325.6 L389.1 325.0 L390.1 324.1 L390.3 322.4 L388.9 320.6 L387.2 318.3 L384.9 316.3 L382.5 313.9 L381.4 313.1 L380.2 310.4 L379.0 307.5ZM388.4 307.5 L388.9 310.4 L389.1 313.9 L389.4 315.4 L390.1 317.7 L390.3 319.8 L390.8 321.5 L392.0 321.8 L394.3 321.2 L396.7 319.5 L400.2 318.0 L403.0 317.7 L404.9 316.0 L407.3 314.8 L411.3 313.1 L413.1 311.3 L417.9 308.1 L421.4 306.3 L421.4 304.6 L388.4 304.6ZM404.4 393.4 L405.1 395.0 L405.8 397.1 L406.6 400.8 L406.8 403.2 L407.3 406.7 L393.1 406.7 L396.7 404.9 L399.3 402.3 L400.9 399.4 L402.1 397.6 L403.3 395.0ZM413.9 321.8 L415.5 321.5 L416.7 322.1 L415.5 322.7 L414.1 322.4ZM308.4 347.8 L309.3 347.5 L309.3 348.9 L308.6 349.2Z"/></clipPath><g clip-path="url(#cb4)"><g clip-path="url(#lb4)"><g filter="url(#bl)"><path d="M245.7 314.5h14.7v6.4h-14.7zM273.9 314.5h38.3v6.4h-38.3zM344.6 314.5h24.1v6.4h-24.1zM245.7 320.3h10.0v6.4h-10.0zM278.7 320.3h10.0v6.4h-10.0zM325.7 320.3h5.3v6.4h-5.3zM344.6 320.3h10.0v6.4h-10.0zM358.7 320.3h10.0v6.4h-10.0zM245.7 326.2h10.0v6.4h-10.0zM245.7 332.0h10.0v6.4h-10.0zM368.1 332.0h14.7v6.4h-14.7zM386.9 332.0h10.0v6.4h-10.0zM245.7 337.8h10.0v6.4h-10.0zM368.1 337.8h10.0v6.4h-10.0zM386.9 337.8h10.0v6.4h-10.0zM245.7 343.7h10.0v6.4h-10.0zM363.4 343.7h14.7v6.4h-14.7zM386.9 343.7h5.3v6.4h-5.3zM245.7 349.5h10.0v6.4h-10.0zM368.1 349.5h10.0v6.4h-10.0zM245.7 355.3h10.0v6.4h-10.0zM325.7 355.3h5.3v6.4h-5.3zM372.8 355.3h5.3v6.4h-5.3zM245.7 361.2h10.0v6.4h-10.0zM321.0 361.2h14.7v6.4h-14.7zM363.4 361.2h14.7v6.4h-14.7zM245.7 367.0h10.0v6.4h-10.0zM363.4 367.0h10.0v6.4h-10.0zM245.7 372.8h10.0v6.4h-10.0zM321.0 372.8h5.3v6.4h-5.3zM344.6 372.8h5.3v6.4h-5.3zM245.7 378.7h10.0v6.4h-10.0zM321.0 378.7h5.3v6.4h-5.3zM245.7 384.5h10.0v6.4h-10.0zM245.7 390.3h10.0v6.4h-10.0zM278.7 390.3h43.0v6.4h-43.0zM245.7 396.2h10.0v6.4h-10.0zM273.9 396.2h47.7v6.4h-47.7z" fill="#88a6f2"/><path d="M259.8 314.5h14.7v6.4h-14.7zM311.6 314.5h10.0v6.4h-10.0zM325.7 314.5h5.3v6.4h-5.3zM335.2 314.5h10.0v6.4h-10.0zM368.1 314.5h14.7v6.4h-14.7zM386.9 314.5h5.3v6.4h-5.3zM255.1 320.3h14.7v6.4h-14.7zM273.9 320.3h5.3v6.4h-5.3zM288.1 320.3h14.7v6.4h-14.7zM321.0 320.3h5.3v6.4h-5.3zM339.9 320.3h5.3v6.4h-5.3zM354.0 320.3h5.3v6.4h-5.3zM368.1 320.3h10.0v6.4h-10.0zM386.9 320.3h14.7v6.4h-14.7zM405.8 320.3h10.0v6.4h-10.0zM255.1 326.2h14.7v6.4h-14.7zM283.4 326.2h19.4v6.4h-19.4zM339.9 326.2h14.7v6.4h-14.7zM363.4 326.2h10.0v6.4h-10.0zM386.9 326.2h10.0v6.4h-10.0zM401.1 326.2h14.7v6.4h-14.7zM255.1 332.0h19.4v6.4h-19.4zM283.4 332.0h24.1v6.4h-24.1zM363.4 332.0h5.3v6.4h-5.3zM382.2 332.0h5.3v6.4h-5.3zM396.4 332.0h19.4v6.4h-19.4zM255.1 337.8h24.1v6.4h-24.1zM283.4 337.8h24.1v6.4h-24.1zM377.5 337.8h10.0v6.4h-10.0zM396.4 337.8h19.4v6.4h-19.4zM255.1 343.7h24.1v6.4h-24.1zM283.4 343.7h24.1v6.4h-24.1zM377.5 343.7h10.0v6.4h-10.0zM391.7 343.7h24.1v6.4h-24.1zM255.1 349.5h24.1v6.4h-24.1zM283.4 349.5h28.9v6.4h-28.9zM377.5 349.5h38.3v6.4h-38.3zM255.1 355.3h24.1v6.4h-24.1zM283.4 355.3h33.6v6.4h-33.6zM330.4 355.3h5.3v6.4h-5.3zM344.6 355.3h10.0v6.4h-10.0zM368.1 355.3h5.3v6.4h-5.3zM377.5 355.3h38.3v6.4h-38.3zM255.1 361.2h24.1v6.4h-24.1zM283.4 361.2h38.3v6.4h-38.3zM344.6 361.2h5.3v6.4h-5.3zM358.7 361.2h5.3v6.4h-5.3zM377.5 361.2h38.3v6.4h-38.3zM255.1 367.0h24.1v6.4h-24.1zM283.4 367.0h43.0v6.4h-43.0zM339.9 367.0h5.3v6.4h-5.3zM349.3 367.0h5.3v6.4h-5.3zM358.7 367.0h5.3v6.4h-5.3zM372.8 367.0h5.3v6.4h-5.3zM401.1 367.0h14.7v6.4h-14.7zM255.1 372.8h24.1v6.4h-24.1zM283.4 372.8h38.3v6.4h-38.3zM335.2 372.8h10.0v6.4h-10.0zM349.3 372.8h5.3v6.4h-5.3zM358.7 372.8h10.0v6.4h-10.0zM377.5 372.8h38.3v6.4h-38.3zM255.1 378.7h24.1v6.4h-24.1zM283.4 378.7h38.3v6.4h-38.3zM339.9 378.7h28.9v6.4h-28.9zM377.5 378.7h38.3v6.4h-38.3zM255.1 384.5h24.1v6.4h-24.1zM283.4 384.5h43.0v6.4h-43.0zM335.2 384.5h5.3v6.4h-5.3zM363.4 384.5h10.0v6.4h-10.0zM377.5 384.5h38.3v6.4h-38.3zM255.1 390.3h24.1v6.4h-24.1zM325.7 390.3h5.3v6.4h-5.3zM335.2 390.3h5.3v6.4h-5.3zM358.7 390.3h5.3v6.4h-5.3zM368.1 390.3h47.7v6.4h-47.7zM255.1 396.2h19.4v6.4h-19.4zM321.0 396.2h10.0v6.4h-10.0zM349.3 396.2h66.5v6.4h-66.5z" fill="#c0d3f6"/><path d="M321.0 314.5h5.3v6.4h-5.3zM391.7 314.5h24.1v6.4h-24.1zM335.2 349.5h5.3v6.4h-5.3zM363.4 349.5h5.3v6.4h-5.3zM358.7 355.3h10.0v6.4h-10.0z" fill="#ececec"/><path d="M330.4 314.5h5.3v6.4h-5.3zM382.2 314.5h5.3v6.4h-5.3zM269.2 320.3h5.3v6.4h-5.3zM302.2 320.3h10.0v6.4h-10.0zM316.3 320.3h5.3v6.4h-5.3zM330.4 320.3h10.0v6.4h-10.0zM377.5 320.3h10.0v6.4h-10.0zM401.1 320.3h5.3v6.4h-5.3zM269.2 326.2h10.0v6.4h-10.0zM302.2 326.2h10.0v6.4h-10.0zM316.3 326.2h5.3v6.4h-5.3zM330.4 326.2h10.0v6.4h-10.0zM354.0 326.2h10.0v6.4h-10.0zM372.8 326.2h14.7v6.4h-14.7zM396.4 326.2h5.3v6.4h-5.3zM273.9 332.0h5.3v6.4h-5.3zM306.9 332.0h14.7v6.4h-14.7zM349.3 332.0h10.0v6.4h-10.0zM278.7 337.8h5.3v6.4h-5.3zM306.9 337.8h10.0v6.4h-10.0zM325.7 337.8h5.3v6.4h-5.3zM354.0 337.8h5.3v6.4h-5.3zM363.4 337.8h5.3v6.4h-5.3zM278.7 343.7h5.3v6.4h-5.3zM306.9 343.7h10.0v6.4h-10.0zM325.7 343.7h5.3v6.4h-5.3zM349.3 343.7h10.0v6.4h-10.0zM278.7 349.5h5.3v6.4h-5.3zM311.6 349.5h5.3v6.4h-5.3zM321.0 349.5h14.7v6.4h-14.7zM339.9 349.5h14.7v6.4h-14.7zM278.7 355.3h5.3v6.4h-5.3zM316.3 355.3h10.0v6.4h-10.0zM335.2 355.3h10.0v6.4h-10.0zM278.7 361.2h5.3v6.4h-5.3zM335.2 361.2h10.0v6.4h-10.0zM349.3 361.2h10.0v6.4h-10.0zM278.7 367.0h5.3v6.4h-5.3zM325.7 367.0h14.7v6.4h-14.7zM344.6 367.0h5.3v6.4h-5.3zM354.0 367.0h5.3v6.4h-5.3zM377.5 367.0h24.1v6.4h-24.1zM278.7 372.8h5.3v6.4h-5.3zM325.7 372.8h10.0v6.4h-10.0zM354.0 372.8h5.3v6.4h-5.3zM368.1 372.8h10.0v6.4h-10.0zM278.7 378.7h5.3v6.4h-5.3zM325.7 378.7h5.3v6.4h-5.3zM335.2 378.7h5.3v6.4h-5.3zM368.1 378.7h10.0v6.4h-10.0zM278.7 384.5h5.3v6.4h-5.3zM325.7 384.5h10.0v6.4h-10.0zM339.9 384.5h5.3v6.4h-5.3zM354.0 384.5h10.0v6.4h-10.0zM372.8 384.5h5.3v6.4h-5.3zM321.0 390.3h5.3v6.4h-5.3zM330.4 390.3h5.3v6.4h-5.3zM339.9 390.3h5.3v6.4h-5.3zM354.0 390.3h5.3v6.4h-5.3zM363.4 390.3h5.3v6.4h-5.3zM330.4 396.2h19.4v6.4h-19.4z" fill="#f3cbb6"/><path d="M311.6 320.3h5.3v6.4h-5.3zM278.7 326.2h5.3v6.4h-5.3zM311.6 326.2h5.3v6.4h-5.3zM321.0 326.2h10.0v6.4h-10.0zM278.7 332.0h5.3v6.4h-5.3zM321.0 332.0h28.9v6.4h-28.9zM358.7 332.0h5.3v6.4h-5.3zM316.3 337.8h10.0v6.4h-10.0zM330.4 337.8h24.1v6.4h-24.1zM358.7 337.8h5.3v6.4h-5.3zM316.3 343.7h10.0v6.4h-10.0zM330.4 343.7h19.4v6.4h-19.4zM358.7 343.7h5.3v6.4h-5.3zM316.3 349.5h5.3v6.4h-5.3zM354.0 349.5h10.0v6.4h-10.0zM354.0 355.3h5.3v6.4h-5.3zM330.4 378.7h5.3v6.4h-5.3zM344.6 384.5h10.0v6.4h-10.0zM344.6 390.3h10.0v6.4h-10.0z" fill="#f0ae92"/></g><mask id="mb4D" maskUnits="userSpaceOnUse" x="241.0" y="309.8" width="179.5" height="97.5"><path filter="url(#bl2)" d="M245.7 314.5h14.7v6.4h-14.7zM273.9 314.5h38.3v6.4h-38.3zM344.6 314.5h24.1v6.4h-24.1zM245.7 320.3h10.0v6.4h-10.0zM278.7 320.3h10.0v6.4h-10.0zM325.7 320.3h5.3v6.4h-5.3zM344.6 320.3h10.0v6.4h-10.0zM358.7 320.3h10.0v6.4h-10.0zM245.7 326.2h10.0v6.4h-10.0zM245.7 332.0h10.0v6.4h-10.0zM368.1 332.0h14.7v6.4h-14.7zM386.9 332.0h10.0v6.4h-10.0zM245.7 337.8h10.0v6.4h-10.0zM368.1 337.8h10.0v6.4h-10.0zM386.9 337.8h10.0v6.4h-10.0zM245.7 343.7h10.0v6.4h-10.0zM363.4 343.7h14.7v6.4h-14.7zM386.9 343.7h5.3v6.4h-5.3zM245.7 349.5h10.0v6.4h-10.0zM368.1 349.5h10.0v6.4h-10.0zM245.7 355.3h10.0v6.4h-10.0zM325.7 355.3h5.3v6.4h-5.3zM372.8 355.3h5.3v6.4h-5.3zM245.7 361.2h10.0v6.4h-10.0zM321.0 361.2h14.7v6.4h-14.7zM363.4 361.2h14.7v6.4h-14.7zM245.7 367.0h10.0v6.4h-10.0zM363.4 367.0h10.0v6.4h-10.0zM245.7 372.8h10.0v6.4h-10.0zM321.0 372.8h5.3v6.4h-5.3zM344.6 372.8h5.3v6.4h-5.3zM245.7 378.7h10.0v6.4h-10.0zM321.0 378.7h5.3v6.4h-5.3zM245.7 384.5h10.0v6.4h-10.0zM245.7 390.3h10.0v6.4h-10.0zM278.7 390.3h43.0v6.4h-43.0zM245.7 396.2h10.0v6.4h-10.0zM273.9 396.2h47.7v6.4h-47.7z" fill="#fff"/></mask><rect x="246.0" y="314.8" width="169.5" height="87.5" fill="url(#hb)" mask="url(#mb4D)"/><mask id="mb4R" maskUnits="userSpaceOnUse" x="241.0" y="309.8" width="179.5" height="97.5"><path filter="url(#bl2)" d="M311.6 320.3h5.3v6.4h-5.3zM278.7 326.2h5.3v6.4h-5.3zM311.6 326.2h5.3v6.4h-5.3zM321.0 326.2h10.0v6.4h-10.0zM278.7 332.0h5.3v6.4h-5.3zM321.0 332.0h28.9v6.4h-28.9zM358.7 332.0h5.3v6.4h-5.3zM316.3 337.8h10.0v6.4h-10.0zM330.4 337.8h24.1v6.4h-24.1zM358.7 337.8h5.3v6.4h-5.3zM316.3 343.7h10.0v6.4h-10.0zM330.4 343.7h19.4v6.4h-19.4zM358.7 343.7h5.3v6.4h-5.3zM316.3 349.5h5.3v6.4h-5.3zM354.0 349.5h10.0v6.4h-10.0zM354.0 355.3h5.3v6.4h-5.3zM330.4 378.7h5.3v6.4h-5.3zM344.6 384.5h10.0v6.4h-10.0zM344.6 390.3h10.0v6.4h-10.0z" fill="#fff"/></mask><rect x="246.0" y="314.8" width="169.5" height="87.5" fill="url(#hr)" mask="url(#mb4R)"/></g><path d="M363.2 359.7 L364.9 358.0 L366.8 357.7 L368.7 358.6 L368.4 360.0 L368.2 363.8 L366.5 365.8 L364.6 366.1 L363.0 363.8 L363.0 361.5ZM357.1 368.2 L357.6 368.5 L358.1 371.7 L359.0 374.9 L360.4 377.8 L361.4 380.7 L361.6 383.3 L360.9 384.2 L359.9 382.5 L358.3 379.0 L357.4 376.1 L356.9 372.6ZM368.4 386.3 L369.6 387.1 L370.1 390.6 L370.5 393.6 L370.8 396.5 L371.5 400.3 L370.5 400.6 L369.6 398.2 L368.9 395.0 L368.4 390.6ZM372.9 345.4 L373.8 345.7 L374.3 348.9 L374.3 351.3 L373.6 351.0 L373.1 348.3ZM287.7 333.5 L288.8 333.2 L289.3 336.7 L288.6 339.9 L287.9 338.1 L287.2 335.2ZM375.5 322.7 L376.7 322.7 L376.9 324.4 L376.0 324.7ZM359.9 354.2 L360.4 353.0 L362.3 352.1 L361.8 353.3 L360.2 355.3ZM356.6 363.5 L357.4 363.5 L357.1 365.8 L356.4 365.6ZM355.2 383.9 L356.6 383.3 L356.9 386.0 L355.7 386.3ZM320.2 318.3 L322.5 318.0 L322.7 320.6 L321.1 321.5 L319.7 320.1ZM358.1 390.6 L359.0 390.3 L359.2 392.4 L358.1 392.1Z" fill="#fff" stroke="#222" stroke-width="0.5"/><path d="M250.7 307.5 L249.5 311.9 L248.1 314.8 L247.2 315.7 L248.4 316.6 L248.8 318.3 L249.1 319.8 L248.8 322.1 L249.8 323.6 L251.9 325.0 L253.1 326.8 L254.0 327.9 L255.4 330.0 L257.1 331.7 L257.3 333.8 L258.2 335.8 L260.1 337.6 L261.5 338.7 L262.9 340.2 L266.0 342.8 L268.4 344.8 L270.5 345.9 L273.1 345.1 L276.6 343.7 L279.0 343.2 L281.3 343.7 L283.7 344.7 L286.0 343.7 L288.4 342.2 L290.7 341.3 L294.3 340.2 L296.4 339.9 L299.0 340.8 L300.6 342.5 L301.6 345.1 L303.0 346.0 L304.9 345.7 L307.2 345.1 L308.9 345.4 L310.0 346.9 L311.2 348.6 L311.4 351.6 L311.4 355.6 L310.5 357.7 L310.3 359.4 L309.1 360.6 L310.0 362.9 L311.9 366.7 L314.3 369.6 L316.2 372.6 L317.1 374.9 L317.3 376.3 L318.7 379.8 L319.4 384.2 L319.9 386.3 L320.9 389.8 L320.6 392.7 L320.2 394.7 L318.0 397.6 L317.3 400.3 L316.9 402.9 L316.6 406.7 L381.4 406.7 L384.0 402.9 L384.4 400.8 L384.0 396.5 L383.7 392.1 L383.5 389.2 L381.8 385.7 L380.9 382.8 L380.9 379.0 L380.0 377.5 L380.4 374.6 L380.7 372.3 L381.8 370.2 L382.8 368.2 L383.2 366.1 L384.9 364.4 L386.3 363.2 L388.4 360.0 L390.8 356.2 L393.1 353.9 L395.0 352.7 L397.8 349.8 L400.4 346.0 L402.6 342.5 L404.4 338.1 L405.8 333.8 L407.5 329.4 L408.7 327.6 L409.1 324.1 L407.3 323.8 L404.9 325.6 L402.6 325.9 L399.0 326.8 L396.2 327.3 L394.3 328.2 L392.0 327.9 L390.5 325.6 L389.1 325.0 L390.1 324.1 L390.3 322.4 L388.9 320.6 L387.2 318.3 L384.9 316.3 L382.5 313.9 L381.4 313.1 L380.2 310.4 L379.0 307.5ZM388.4 307.5 L388.9 310.4 L389.1 313.9 L389.4 315.4 L390.1 317.7 L390.3 319.8 L390.8 321.5 L392.0 321.8 L394.3 321.2 L396.7 319.5 L400.2 318.0 L403.0 317.7 L404.9 316.0 L407.3 314.8 L411.3 313.1 L413.1 311.3 L417.9 308.1 L421.4 306.3 L421.4 304.6 L388.4 304.6ZM404.4 393.4 L405.1 395.0 L405.8 397.1 L406.6 400.8 L406.8 403.2 L407.3 406.7 L393.1 406.7 L396.7 404.9 L399.3 402.3 L400.9 399.4 L402.1 397.6 L403.3 395.0ZM413.9 321.8 L415.5 321.5 L416.7 322.1 L415.5 322.7 L414.1 322.4ZM308.4 347.8 L309.3 347.5 L309.3 348.9 L308.6 349.2Z" fill="none" stroke="#0a0a0a" stroke-width="1.1" stroke-linejoin="round"/><path d="M259.7 315.7 L261.5 322.4M249.1 318.9 L255.9 319.2M249.1 320.3 L255.9 319.8M249.1 322.5 L256.1 321.8 L261.5 322.4M256.1 321.8 L256.1 324.4 L253.1 326.8M257.1 332.3 L259.2 329.7 L262.0 329.4 L263.4 331.4 L263.4 334.3 L261.3 338.4M263.4 334.3 L266.0 333.8 L268.4 336.4M268.4 336.4 L270.7 341.6 L270.7 345.7M261.5 322.4 L263.7 323.8 L267.2 322.4 L268.8 325.6 L269.5 328.8M269.5 328.8 L269.8 332.9 L268.4 336.4M269.5 328.8 L275.4 328.2 L277.3 330.3 L282.0 330.8M275.7 328.2 L276.1 325.3 L278.0 322.1 L281.3 318.9 L286.0 314.8 L288.8 315.1M282.0 330.8 L281.5 335.5 L280.8 340.5 L281.5 344.0M282.0 330.8 L281.8 326.5 L288.4 326.5M288.4 326.5 L289.6 329.4 L289.8 334.6 L291.2 340.8M290.5 326.5 L291.7 331.1 L292.1 340.5M288.4 326.5 L290.5 326.5 L293.8 324.1 L294.0 322.7M288.8 315.1 L289.3 318.6 L290.7 320.6 L293.6 321.8 L294.0 322.7M294.7 339.9 L294.7 332.0 L296.9 328.2 L296.9 324.4M294.0 322.7 L296.9 324.4M296.9 324.4 L298.0 319.2 L302.5 318.6 L307.2 320.3 L311.9 320.1 L317.3 320.3 L320.4 318.6 L321.8 320.3M308.6 344.8 L309.6 340.5 L311.9 338.1 L316.2 337.8 L316.6 335.2 L319.0 330.8 L319.7 328.8 L320.9 326.5 L322.7 323.6 L321.8 320.3M322.7 323.6 L323.7 326.8 L324.9 329.4 L321.3 330.8 L324.9 336.7M324.9 336.7 L322.5 342.5 L322.7 346.3 L324.2 349.8 L326.3 352.1M311.4 352.1 L315.0 352.1 L319.7 352.1 L326.3 352.1M315.0 352.1 L315.0 355.6 L311.0 355.6M319.7 352.1 L319.4 355.1 L322.5 360.0 L322.0 364.4 L317.8 365.6 L314.5 369.9M332.2 348.3 L330.0 360.0 L327.0 364.4 L324.9 370.8 L319.2 372.0 L316.6 373.1M326.3 352.1 L327.7 348.3 L332.2 348.3M332.2 348.3 L335.5 346.0 L341.1 346.6 L346.1 343.7 L349.6 343.4 L352.9 343.7M324.9 336.7 L327.7 336.7 L331.9 332.6 L337.8 330.8 L340.2 326.8 L342.3 326.5M342.3 326.5 L344.2 333.2 L347.2 336.7 L350.8 340.2 L352.9 343.7M342.3 326.5 L341.3 321.8 L340.6 318.3 L342.5 314.8 L344.9 312.8M344.2 333.2 L347.2 328.8 L350.8 330.6 L353.8 330.6 L359.0 328.5 L363.7 323.3 L366.5 323.0 L368.4 329.4M368.4 329.4 L368.9 333.8 L366.1 335.8 L368.2 341.1 L371.9 345.1M371.9 345.1 L369.4 345.1 L368.2 346.9M368.2 346.9 L363.7 348.1 L360.9 348.3M352.9 343.7 L356.6 345.7 L360.9 348.3M360.9 348.3 L362.1 352.1 L359.0 355.1 L358.1 362.3M368.4 329.4 L369.1 327.9 L372.4 321.5 L374.1 318.0 L374.3 316.8 L375.5 309.0M374.3 316.8 L376.7 317.1 L380.2 316.0 L382.5 316.6 L386.1 319.8 L388.2 322.1M388.2 322.1 L386.8 324.4 L387.2 326.5 L389.1 326.5M389.1 326.5 L390.3 329.7 L392.0 332.3 L401.1 335.2 L394.3 344.3 L391.3 345.1 L387.5 346.3M387.5 346.3 L384.9 347.2 L381.4 348.3 L377.8 348.1 L373.1 345.4 L371.9 345.1M387.5 346.3 L384.9 350.4 L384.9 360.9 L386.3 363.2M368.2 346.9 L369.6 349.8 L370.8 353.6 L368.4 357.7 L368.2 358.6 L368.4 361.5M368.4 361.5 L376.9 367.6 L380.7 372.3M358.1 361.5 L368.2 361.5M358.1 362.3 L360.2 361.8 L361.1 365.6M356.6 362.9 L357.1 366.7 L356.6 371.7M356.6 366.7 L360.2 365.6M360.2 365.6 L360.9 368.2 L359.5 370.8 L357.8 371.7M357.6 371.7 L360.4 382.5M360.4 382.5 L356.4 383.3 L355.9 386.6 L355.2 390.6 L356.6 394.7 L357.8 397.1 L353.1 393.6 L348.4 392.1 L344.9 390.6M317.3 376.1 L326.7 375.8 L329.8 382.2 L334.0 381.9 L334.0 379.3 L339.7 379.8 L340.2 385.7 L344.6 390.1 L344.9 390.6M344.9 390.6 L344.9 396.5 L340.2 396.5 L340.2 405.8M360.4 382.5 L365.8 386.0M365.8 386.0 L366.5 390.3 L366.1 395.0 L365.4 398.2M365.8 386.0 L368.4 386.3 L369.8 392.4M369.8 392.4 L370.8 400.0 L372.7 400.8 L371.5 405.5M369.8 392.4 L376.7 392.4 L383.5 389.2M365.4 398.2 L359.9 404.1M390.5 321.2 L390.5 320.6" fill="none" stroke="#111" stroke-width="0.85" stroke-linejoin="round"/><rect x="303.4" y="357.2" width="1" height="1" fill="#222"/><rect x="305.3" y="353.4" width="1" height="1" fill="#222"/><rect x="301.1" y="362.1" width="1" height="1" fill="#222"/><rect x="380.4" y="375.8" width="1" height="1" fill="#222"/><rect x="381.3" y="372.9" width="1" height="1" fill="#222"/><rect x="389.8" y="391.9" width="1" height="1" fill="#222"/><rect x="390.3" y="392.8" width="1" height="1" fill="#222"/><rect x="391.0" y="393.9" width="1" height="1" fill="#222"/><rect x="392.4" y="393.6" width="1" height="1" fill="#222"/><rect x="394.0" y="395.4" width="1" height="1" fill="#222"/><rect x="396.9" y="385.5" width="1" height="1" fill="#222"/><rect x="399.7" y="386.3" width="1" height="1" fill="#222"/><rect x="254.0" y="381.1" width="1" height="1" fill="#222"/><rect x="418.5" y="371.5" width="1" height="1" fill="#222"/><rect x="412.6" y="377.0" width="1" height="1" fill="#222"/></g><rect x="246.0" y="314.8" width="169.5" height="87.5" fill="none" stroke="#777" stroke-width="0.9"/><line x1="243.8" y1="314.8" x2="246.0" y2="314.8" stroke="#333" stroke-width="0.8"/><text x="240.0" y="319.7" class="tk" text-anchor="end">15°N</text><line x1="243.8" y1="329.4" x2="246.0" y2="329.4" stroke="#333" stroke-width="0.8"/><text x="240.0" y="334.3" class="tk" text-anchor="end">10°N</text><line x1="243.8" y1="344.0" x2="246.0" y2="344.0" stroke="#333" stroke-width="0.8"/><text x="240.0" y="348.9" class="tk" text-anchor="end">5°N</text><line x1="243.8" y1="358.6" x2="246.0" y2="358.6" stroke="#333" stroke-width="0.8"/><text x="240.0" y="363.4" class="tk" text-anchor="end">0°</text><line x1="243.8" y1="373.1" x2="246.0" y2="373.1" stroke="#333" stroke-width="0.8"/><text x="240.0" y="378.0" class="tk" text-anchor="end">5°S</text><line x1="243.8" y1="387.7" x2="246.0" y2="387.7" stroke="#333" stroke-width="0.8"/><text x="240.0" y="392.6" class="tk" text-anchor="end">10°S</text><line x1="243.8" y1="402.3" x2="246.0" y2="402.3" stroke="#333" stroke-width="0.8"/><text x="240.0" y="405.9" class="tk" text-anchor="end">15°S</text><line x1="288.4" y1="314.8" x2="288.4" y2="316.8" stroke="#333" stroke-width="0.8"/><line x1="330.8" y1="314.8" x2="330.8" y2="316.8" stroke="#333" stroke-width="0.8"/><line x1="373.1" y1="314.8" x2="373.1" y2="316.8" stroke="#333" stroke-width="0.8"/><line x1="415.5" y1="314.8" x2="415.5" y2="316.8" stroke="#333" stroke-width="0.8"/><line x1="246.0" y1="402.3" x2="246.0" y2="404.3" stroke="#333" stroke-width="0.8"/><line x1="288.4" y1="402.3" x2="288.4" y2="404.3" stroke="#333" stroke-width="0.8"/><line x1="330.8" y1="402.3" x2="330.8" y2="404.3" stroke="#333" stroke-width="0.8"/><line x1="373.1" y1="402.3" x2="373.1" y2="404.3" stroke="#333" stroke-width="0.8"/><line x1="415.5" y1="402.3" x2="415.5" y2="404.3" stroke="#333" stroke-width="0.8"/><text x="248.2" y="312.1" class="tt" textLength="79.2" lengthAdjust="spacingAndGlyphs">(b4) WINTER, (corr AET-SST)</text><text transform="translate(220.9 359.4) rotate(-90)" class="yl" text-anchor="middle" textLength="53.0" lengthAdjust="spacingAndGlyphs">correlation&#160; AET-SST</text><clipPath id="ca5"><rect x="36.0" y="416.4" width="171.5" height="86.6"/></clipPath><clipPath id="la5"><path d="M40.8 409.2 L39.6 413.5 L38.1 416.4 L37.2 417.3 L38.4 418.1 L38.9 419.9 L39.1 421.3 L38.9 423.6 L39.8 425.1 L42.0 426.5 L43.1 428.2 L44.1 429.4 L45.5 431.4 L47.2 433.1 L47.4 435.2 L48.4 437.2 L50.3 438.9 L51.7 440.1 L53.1 441.5 L56.2 444.1 L58.6 446.1 L60.8 447.1 L63.4 446.4 L67.0 445.0 L69.3 444.5 L71.7 445.0 L74.1 446.0 L76.5 445.0 L78.9 443.5 L81.3 442.7 L84.8 441.5 L87.0 441.2 L89.6 442.1 L91.3 443.8 L92.2 446.4 L93.6 447.3 L95.5 447.0 L97.9 446.4 L99.6 446.7 L100.8 448.2 L102.0 449.9 L102.2 452.8 L102.2 456.8 L101.3 458.8 L101.0 460.6 L99.8 461.7 L100.8 464.0 L102.7 467.8 L105.1 470.7 L107.0 473.6 L107.9 475.9 L108.2 477.3 L109.6 480.8 L110.3 485.1 L110.8 487.1 L111.7 490.6 L111.5 493.5 L111.0 495.5 L108.9 498.4 L108.2 501.0 L107.7 503.6 L107.5 507.3 L173.0 507.3 L175.6 503.6 L176.1 501.6 L175.6 497.2 L175.3 492.9 L175.1 490.0 L173.4 486.5 L172.5 483.7 L172.5 479.9 L171.5 478.5 L172.0 475.6 L172.2 473.3 L173.4 471.2 L174.4 469.2 L174.9 467.2 L176.5 465.5 L178.0 464.3 L180.1 461.1 L182.5 457.4 L184.9 455.1 L186.8 453.9 L189.6 451.0 L192.3 447.3 L194.4 443.8 L196.3 439.5 L197.7 435.2 L199.4 430.8 L200.6 429.1 L201.1 425.6 L199.2 425.3 L196.8 427.1 L194.4 427.4 L190.8 428.2 L188.0 428.8 L186.1 429.7 L183.7 429.4 L182.3 427.1 L180.8 426.5 L181.8 425.6 L182.0 423.9 L180.6 422.2 L178.9 419.9 L176.5 417.8 L174.2 415.5 L173.0 414.7 L171.8 412.1 L170.6 409.2ZM180.1 409.2 L180.6 412.1 L180.8 415.5 L181.1 417.0 L181.8 419.3 L182.0 421.3 L182.5 423.0 L183.7 423.3 L186.1 422.8 L188.4 421.0 L192.0 419.6 L194.9 419.3 L196.8 417.6 L199.2 416.4 L203.2 414.7 L205.1 412.9 L209.9 409.8 L213.5 408.0 L213.5 406.3 L180.1 406.3ZM196.3 494.2 L197.0 495.8 L197.7 497.8 L198.4 501.6 L198.7 503.9 L199.2 507.3 L184.9 507.3 L188.4 505.6 L191.1 503.0 L192.7 500.1 L193.9 498.4 L195.1 495.8ZM205.8 423.3 L207.5 423.0 L208.7 423.6 L207.5 424.2 L206.1 423.9ZM99.1 449.0 L100.1 448.7 L100.1 450.2 L99.4 450.5Z"/></clipPath><g clip-path="url(#ca5)"><g clip-path="url(#la5)"><g filter="url(#bl)"><path d="M35.7 416.1h5.4v6.4h-5.4zM54.8 416.1h24.4v6.4h-24.4zM88.1 416.1h24.4v6.4h-24.4zM116.7 416.1h10.1v6.4h-10.1zM173.9 416.1h5.4v6.4h-5.4zM35.7 421.9h5.4v6.4h-5.4zM54.8 421.9h29.2v6.4h-29.2zM88.1 421.9h38.7v6.4h-38.7zM173.9 421.9h5.4v6.4h-5.4zM35.7 427.6h5.4v6.4h-5.4zM59.5 427.6h24.4v6.4h-24.4zM102.4 427.6h10.1v6.4h-10.1zM35.7 433.4h5.4v6.4h-5.4zM102.4 433.4h10.1v6.4h-10.1zM126.2 433.4h5.4v6.4h-5.4zM154.8 433.4h10.1v6.4h-10.1zM173.9 433.4h5.4v6.4h-5.4zM35.7 439.2h5.4v6.4h-5.4zM121.5 439.2h5.4v6.4h-5.4zM135.7 439.2h5.4v6.4h-5.4zM145.3 439.2h5.4v6.4h-5.4zM154.8 439.2h10.1v6.4h-10.1zM173.9 439.2h5.4v6.4h-5.4zM35.7 445.0h5.4v6.4h-5.4zM145.3 445.0h14.9v6.4h-14.9zM35.7 450.7h5.4v6.4h-5.4zM107.2 450.7h5.4v6.4h-5.4zM154.8 450.7h5.4v6.4h-5.4zM35.7 456.5h5.4v6.4h-5.4zM107.2 456.5h5.4v6.4h-5.4zM35.7 462.3h5.4v6.4h-5.4zM35.7 468.1h5.4v6.4h-5.4zM131.0 468.1h10.1v6.4h-10.1zM35.7 473.8h5.4v6.4h-5.4zM131.0 473.8h10.1v6.4h-10.1zM35.7 479.6h5.4v6.4h-5.4zM111.9 479.6h5.4v6.4h-5.4zM159.6 479.6h10.1v6.4h-10.1zM35.7 485.4h5.4v6.4h-5.4zM145.3 485.4h5.4v6.4h-5.4zM154.8 485.4h14.9v6.4h-14.9zM35.7 491.2h5.4v6.4h-5.4zM159.6 491.2h10.1v6.4h-10.1zM35.7 496.9h5.4v6.4h-5.4zM154.8 496.9h10.1v6.4h-10.1z" fill="#7494ee"/><path d="M40.5 416.1h14.9v6.4h-14.9zM83.3 416.1h5.4v6.4h-5.4zM126.2 416.1h29.2v6.4h-29.2zM159.6 416.1h10.1v6.4h-10.1zM183.4 416.1h24.4v6.4h-24.4zM40.5 421.9h10.1v6.4h-10.1zM83.3 421.9h5.4v6.4h-5.4zM126.2 421.9h10.1v6.4h-10.1zM145.3 421.9h10.1v6.4h-10.1zM159.6 421.9h14.9v6.4h-14.9zM178.6 421.9h10.1v6.4h-10.1zM197.7 421.9h10.1v6.4h-10.1zM40.5 427.6h19.7v6.4h-19.7zM83.3 427.6h19.7v6.4h-19.7zM111.9 427.6h24.4v6.4h-24.4zM154.8 427.6h14.9v6.4h-14.9zM173.9 427.6h5.4v6.4h-5.4zM197.7 427.6h10.1v6.4h-10.1zM40.5 433.4h5.4v6.4h-5.4zM64.3 433.4h5.4v6.4h-5.4zM73.8 433.4h10.1v6.4h-10.1zM97.6 433.4h5.4v6.4h-5.4zM111.9 433.4h14.9v6.4h-14.9zM131.0 433.4h10.1v6.4h-10.1zM145.3 433.4h10.1v6.4h-10.1zM164.3 433.4h10.1v6.4h-10.1zM178.6 433.4h5.4v6.4h-5.4zM188.1 433.4h19.7v6.4h-19.7zM40.5 439.2h5.4v6.4h-5.4zM73.8 439.2h10.1v6.4h-10.1zM107.2 439.2h10.1v6.4h-10.1zM126.2 439.2h10.1v6.4h-10.1zM140.5 439.2h5.4v6.4h-5.4zM150.0 439.2h5.4v6.4h-5.4zM164.3 439.2h10.1v6.4h-10.1zM178.6 439.2h29.2v6.4h-29.2zM40.5 445.0h5.4v6.4h-5.4zM73.8 445.0h10.1v6.4h-10.1zM140.5 445.0h5.4v6.4h-5.4zM159.6 445.0h14.9v6.4h-14.9zM183.4 445.0h24.4v6.4h-24.4zM40.5 450.7h5.4v6.4h-5.4zM73.8 450.7h10.1v6.4h-10.1zM97.6 450.7h5.4v6.4h-5.4zM145.3 450.7h10.1v6.4h-10.1zM159.6 450.7h10.1v6.4h-10.1zM183.4 450.7h24.4v6.4h-24.4zM40.5 456.5h5.4v6.4h-5.4zM73.8 456.5h10.1v6.4h-10.1zM150.0 456.5h10.1v6.4h-10.1zM164.3 456.5h5.4v6.4h-5.4zM183.4 456.5h24.4v6.4h-24.4zM40.5 462.3h5.4v6.4h-5.4zM73.8 462.3h10.1v6.4h-10.1zM111.9 462.3h10.1v6.4h-10.1zM140.5 462.3h14.9v6.4h-14.9zM159.6 462.3h5.4v6.4h-5.4zM188.1 462.3h19.7v6.4h-19.7zM40.5 468.1h5.4v6.4h-5.4zM73.8 468.1h10.1v6.4h-10.1zM111.9 468.1h10.1v6.4h-10.1zM126.2 468.1h5.4v6.4h-5.4zM140.5 468.1h19.7v6.4h-19.7zM164.3 468.1h43.5v6.4h-43.5zM40.5 473.8h5.4v6.4h-5.4zM73.8 473.8h10.1v6.4h-10.1zM111.9 473.8h19.7v6.4h-19.7zM140.5 473.8h19.7v6.4h-19.7zM169.1 473.8h38.7v6.4h-38.7zM40.5 479.6h5.4v6.4h-5.4zM73.8 479.6h38.7v6.4h-38.7zM116.7 479.6h24.4v6.4h-24.4zM145.3 479.6h14.9v6.4h-14.9zM169.1 479.6h38.7v6.4h-38.7zM40.5 485.4h5.4v6.4h-5.4zM111.9 485.4h33.9v6.4h-33.9zM150.0 485.4h5.4v6.4h-5.4zM169.1 485.4h38.7v6.4h-38.7zM40.5 491.2h5.4v6.4h-5.4zM69.0 491.2h53.0v6.4h-53.0zM126.2 491.2h5.4v6.4h-5.4zM135.7 491.2h24.4v6.4h-24.4zM169.1 491.2h38.7v6.4h-38.7zM40.5 496.9h5.4v6.4h-5.4zM64.3 496.9h62.5v6.4h-62.5zM135.7 496.9h19.7v6.4h-19.7zM164.3 496.9h43.5v6.4h-43.5z" fill="#c0d3f6"/><path d="M78.6 416.1h5.4v6.4h-5.4zM50.0 421.9h5.4v6.4h-5.4z" fill="#7f9ff7"/><path d="M111.9 416.1h5.4v6.4h-5.4zM169.1 416.1h5.4v6.4h-5.4zM178.6 416.1h5.4v6.4h-5.4z" fill="#ececec"/><path d="M154.8 416.1h5.4v6.4h-5.4zM135.7 421.9h10.1v6.4h-10.1zM154.8 421.9h5.4v6.4h-5.4zM188.1 421.9h10.1v6.4h-10.1zM150.0 427.6h5.4v6.4h-5.4zM169.1 427.6h5.4v6.4h-5.4zM178.6 427.6h19.7v6.4h-19.7zM45.2 433.4h10.1v6.4h-10.1zM69.0 433.4h5.4v6.4h-5.4zM83.3 433.4h14.9v6.4h-14.9zM140.5 433.4h5.4v6.4h-5.4zM183.4 433.4h5.4v6.4h-5.4zM45.2 439.2h10.1v6.4h-10.1zM64.3 439.2h10.1v6.4h-10.1zM83.3 439.2h24.4v6.4h-24.4zM116.7 439.2h5.4v6.4h-5.4zM45.2 445.0h10.1v6.4h-10.1zM64.3 445.0h10.1v6.4h-10.1zM83.3 445.0h29.2v6.4h-29.2zM135.7 445.0h5.4v6.4h-5.4zM173.9 445.0h10.1v6.4h-10.1zM45.2 450.7h10.1v6.4h-10.1zM64.3 450.7h10.1v6.4h-10.1zM83.3 450.7h14.9v6.4h-14.9zM102.4 450.7h5.4v6.4h-5.4zM111.9 450.7h5.4v6.4h-5.4zM140.5 450.7h5.4v6.4h-5.4zM169.1 450.7h14.9v6.4h-14.9zM45.2 456.5h10.1v6.4h-10.1zM64.3 456.5h10.1v6.4h-10.1zM83.3 456.5h24.4v6.4h-24.4zM111.9 456.5h10.1v6.4h-10.1zM140.5 456.5h5.4v6.4h-5.4zM159.6 456.5h5.4v6.4h-5.4zM169.1 456.5h14.9v6.4h-14.9zM45.2 462.3h10.1v6.4h-10.1zM64.3 462.3h10.1v6.4h-10.1zM83.3 462.3h24.4v6.4h-24.4zM135.7 462.3h5.4v6.4h-5.4zM154.8 462.3h5.4v6.4h-5.4zM164.3 462.3h24.4v6.4h-24.4zM45.2 468.1h10.1v6.4h-10.1zM64.3 468.1h10.1v6.4h-10.1zM83.3 468.1h24.4v6.4h-24.4zM121.5 468.1h5.4v6.4h-5.4zM159.6 468.1h5.4v6.4h-5.4zM45.2 473.8h10.1v6.4h-10.1zM64.3 473.8h10.1v6.4h-10.1zM83.3 473.8h29.2v6.4h-29.2zM159.6 473.8h10.1v6.4h-10.1zM45.2 479.6h10.1v6.4h-10.1zM64.3 479.6h10.1v6.4h-10.1zM140.5 479.6h5.4v6.4h-5.4zM45.2 485.4h10.1v6.4h-10.1zM64.3 485.4h48.2v6.4h-48.2zM45.2 491.2h10.1v6.4h-10.1zM64.3 491.2h5.4v6.4h-5.4zM121.5 491.2h5.4v6.4h-5.4zM131.0 491.2h5.4v6.4h-5.4zM45.2 496.9h10.1v6.4h-10.1zM126.2 496.9h10.1v6.4h-10.1z" fill="#f3cbb6"/><path d="M135.7 427.6h14.9v6.4h-14.9zM54.8 433.4h10.1v6.4h-10.1zM54.8 439.2h10.1v6.4h-10.1zM54.8 445.0h10.1v6.4h-10.1zM111.9 445.0h24.4v6.4h-24.4zM54.8 450.7h10.1v6.4h-10.1zM116.7 450.7h24.4v6.4h-24.4zM54.8 456.5h10.1v6.4h-10.1zM121.5 456.5h19.7v6.4h-19.7zM145.3 456.5h5.4v6.4h-5.4zM54.8 462.3h10.1v6.4h-10.1zM107.2 462.3h5.4v6.4h-5.4zM121.5 462.3h14.9v6.4h-14.9zM54.8 468.1h10.1v6.4h-10.1zM107.2 468.1h5.4v6.4h-5.4zM54.8 473.8h10.1v6.4h-10.1zM54.8 479.6h10.1v6.4h-10.1zM54.8 485.4h10.1v6.4h-10.1zM54.8 491.2h10.1v6.4h-10.1zM54.8 496.9h10.1v6.4h-10.1z" fill="#f0ae92"/></g><mask id="ma5D" maskUnits="userSpaceOnUse" x="31.0" y="411.4" width="181.5" height="96.6"><path filter="url(#bl2)" d="M35.7 416.1h5.4v6.4h-5.4zM54.8 416.1h24.4v6.4h-24.4zM88.1 416.1h24.4v6.4h-24.4zM116.7 416.1h10.1v6.4h-10.1zM173.9 416.1h5.4v6.4h-5.4zM35.7 421.9h5.4v6.4h-5.4zM54.8 421.9h29.2v6.4h-29.2zM88.1 421.9h38.7v6.4h-38.7zM173.9 421.9h5.4v6.4h-5.4zM35.7 427.6h5.4v6.4h-5.4zM59.5 427.6h24.4v6.4h-24.4zM102.4 427.6h10.1v6.4h-10.1zM35.7 433.4h5.4v6.4h-5.4zM102.4 433.4h10.1v6.4h-10.1zM126.2 433.4h5.4v6.4h-5.4zM154.8 433.4h10.1v6.4h-10.1zM173.9 433.4h5.4v6.4h-5.4zM35.7 439.2h5.4v6.4h-5.4zM121.5 439.2h5.4v6.4h-5.4zM135.7 439.2h5.4v6.4h-5.4zM145.3 439.2h5.4v6.4h-5.4zM154.8 439.2h10.1v6.4h-10.1zM173.9 439.2h5.4v6.4h-5.4zM35.7 445.0h5.4v6.4h-5.4zM145.3 445.0h14.9v6.4h-14.9zM35.7 450.7h5.4v6.4h-5.4zM107.2 450.7h5.4v6.4h-5.4zM154.8 450.7h5.4v6.4h-5.4zM35.7 456.5h5.4v6.4h-5.4zM107.2 456.5h5.4v6.4h-5.4zM35.7 462.3h5.4v6.4h-5.4zM35.7 468.1h5.4v6.4h-5.4zM131.0 468.1h10.1v6.4h-10.1zM35.7 473.8h5.4v6.4h-5.4zM131.0 473.8h10.1v6.4h-10.1zM35.7 479.6h5.4v6.4h-5.4zM111.9 479.6h5.4v6.4h-5.4zM159.6 479.6h10.1v6.4h-10.1zM35.7 485.4h5.4v6.4h-5.4zM145.3 485.4h5.4v6.4h-5.4zM154.8 485.4h14.9v6.4h-14.9zM35.7 491.2h5.4v6.4h-5.4zM159.6 491.2h10.1v6.4h-10.1zM35.7 496.9h5.4v6.4h-5.4zM154.8 496.9h10.1v6.4h-10.1z" fill="#fff"/></mask><rect x="36.0" y="416.4" width="171.5" height="86.6" fill="url(#hb)" mask="url(#ma5D)"/><mask id="ma5R" maskUnits="userSpaceOnUse" x="31.0" y="411.4" width="181.5" height="96.6"><path filter="url(#bl2)" d="M135.7 427.6h14.9v6.4h-14.9zM54.8 433.4h10.1v6.4h-10.1zM54.8 439.2h10.1v6.4h-10.1zM54.8 445.0h10.1v6.4h-10.1zM111.9 445.0h24.4v6.4h-24.4zM54.8 450.7h10.1v6.4h-10.1zM116.7 450.7h24.4v6.4h-24.4zM54.8 456.5h10.1v6.4h-10.1zM121.5 456.5h19.7v6.4h-19.7zM145.3 456.5h5.4v6.4h-5.4zM54.8 462.3h10.1v6.4h-10.1zM107.2 462.3h5.4v6.4h-5.4zM121.5 462.3h14.9v6.4h-14.9zM54.8 468.1h10.1v6.4h-10.1zM107.2 468.1h5.4v6.4h-5.4zM54.8 473.8h10.1v6.4h-10.1zM54.8 479.6h10.1v6.4h-10.1zM54.8 485.4h10.1v6.4h-10.1zM54.8 491.2h10.1v6.4h-10.1zM54.8 496.9h10.1v6.4h-10.1z" fill="#fff"/></mask><rect x="36.0" y="416.4" width="171.5" height="86.6" fill="url(#hr)" mask="url(#ma5R)"/></g><path d="M154.6 460.9 L156.3 459.1 L158.2 458.8 L160.1 459.7 L159.9 461.1 L159.6 464.9 L158.0 466.9 L156.1 467.2 L154.4 464.9 L154.4 462.6ZM148.4 469.2 L148.9 469.5 L149.4 472.7 L150.3 475.9 L151.8 478.8 L152.7 481.6 L153.0 484.2 L152.2 485.1 L151.3 483.4 L149.6 479.9 L148.7 477.0 L148.2 473.6ZM159.9 487.1 L161.1 488.0 L161.5 491.5 L162.0 494.3 L162.2 497.2 L163.0 501.0 L162.0 501.3 L161.1 499.0 L160.3 495.8 L159.9 491.5ZM164.4 446.7 L165.3 447.0 L165.8 450.2 L165.8 452.5 L165.1 452.2 L164.6 449.6ZM78.2 434.9 L79.4 434.6 L79.8 438.0 L79.1 441.2 L78.4 439.5 L77.7 436.6ZM167.0 424.2 L168.2 424.2 L168.4 425.9 L167.5 426.2ZM151.3 455.4 L151.8 454.2 L153.7 453.3 L153.2 454.5 L151.5 456.5ZM148.0 464.6 L148.7 464.6 L148.4 466.9 L147.7 466.6ZM146.5 484.8 L148.0 484.2 L148.2 486.8 L147.0 487.1ZM111.0 419.9 L113.4 419.6 L113.7 422.2 L112.0 423.0 L110.6 421.6ZM149.4 491.5 L150.3 491.2 L150.6 493.2 L149.4 492.9Z" fill="#fff" stroke="#222" stroke-width="0.5"/><path d="M40.8 409.2 L39.6 413.5 L38.1 416.4 L37.2 417.3 L38.4 418.1 L38.9 419.9 L39.1 421.3 L38.9 423.6 L39.8 425.1 L42.0 426.5 L43.1 428.2 L44.1 429.4 L45.5 431.4 L47.2 433.1 L47.4 435.2 L48.4 437.2 L50.3 438.9 L51.7 440.1 L53.1 441.5 L56.2 444.1 L58.6 446.1 L60.8 447.1 L63.4 446.4 L67.0 445.0 L69.3 444.5 L71.7 445.0 L74.1 446.0 L76.5 445.0 L78.9 443.5 L81.3 442.7 L84.8 441.5 L87.0 441.2 L89.6 442.1 L91.3 443.8 L92.2 446.4 L93.6 447.3 L95.5 447.0 L97.9 446.4 L99.6 446.7 L100.8 448.2 L102.0 449.9 L102.2 452.8 L102.2 456.8 L101.3 458.8 L101.0 460.6 L99.8 461.7 L100.8 464.0 L102.7 467.8 L105.1 470.7 L107.0 473.6 L107.9 475.9 L108.2 477.3 L109.6 480.8 L110.3 485.1 L110.8 487.1 L111.7 490.6 L111.5 493.5 L111.0 495.5 L108.9 498.4 L108.2 501.0 L107.7 503.6 L107.5 507.3 L173.0 507.3 L175.6 503.6 L176.1 501.6 L175.6 497.2 L175.3 492.9 L175.1 490.0 L173.4 486.5 L172.5 483.7 L172.5 479.9 L171.5 478.5 L172.0 475.6 L172.2 473.3 L173.4 471.2 L174.4 469.2 L174.9 467.2 L176.5 465.5 L178.0 464.3 L180.1 461.1 L182.5 457.4 L184.9 455.1 L186.8 453.9 L189.6 451.0 L192.3 447.3 L194.4 443.8 L196.3 439.5 L197.7 435.2 L199.4 430.8 L200.6 429.1 L201.1 425.6 L199.2 425.3 L196.8 427.1 L194.4 427.4 L190.8 428.2 L188.0 428.8 L186.1 429.7 L183.7 429.4 L182.3 427.1 L180.8 426.5 L181.8 425.6 L182.0 423.9 L180.6 422.2 L178.9 419.9 L176.5 417.8 L174.2 415.5 L173.0 414.7 L171.8 412.1 L170.6 409.2ZM180.1 409.2 L180.6 412.1 L180.8 415.5 L181.1 417.0 L181.8 419.3 L182.0 421.3 L182.5 423.0 L183.7 423.3 L186.1 422.8 L188.4 421.0 L192.0 419.6 L194.9 419.3 L196.8 417.6 L199.2 416.4 L203.2 414.7 L205.1 412.9 L209.9 409.8 L213.5 408.0 L213.5 406.3 L180.1 406.3ZM196.3 494.2 L197.0 495.8 L197.7 497.8 L198.4 501.6 L198.7 503.9 L199.2 507.3 L184.9 507.3 L188.4 505.6 L191.1 503.0 L192.7 500.1 L193.9 498.4 L195.1 495.8ZM205.8 423.3 L207.5 423.0 L208.7 423.6 L207.5 424.2 L206.1 423.9ZM99.1 449.0 L100.1 448.7 L100.1 450.2 L99.4 450.5Z" fill="none" stroke="#0a0a0a" stroke-width="1.1" stroke-linejoin="round"/><path d="M49.8 417.3 L51.7 423.9M39.1 420.4 L46.0 420.7M39.1 421.9 L46.0 421.3M39.1 424.0 L46.2 423.3 L51.7 423.9M46.2 423.3 L46.2 425.9 L43.1 428.2M47.2 433.7 L49.3 431.1 L52.2 430.8 L53.6 432.9 L53.6 435.7 L51.5 439.8M53.6 435.7 L56.2 435.2 L58.6 437.8M58.6 437.8 L61.0 443.0 L61.0 447.0M51.7 423.9 L53.9 425.3 L57.4 423.9 L59.1 427.1 L59.8 430.3M59.8 430.3 L60.1 434.3 L58.6 437.8M59.8 430.3 L65.8 429.7 L67.7 431.7 L72.4 432.3M66.0 429.7 L66.5 426.8 L68.4 423.6 L71.7 420.4 L76.5 416.4 L79.4 416.7M72.4 432.3 L72.0 436.9 L71.3 441.8 L72.0 445.3M72.4 432.3 L72.2 427.9 L78.9 427.9M78.9 427.9 L80.1 430.8 L80.3 436.0 L81.7 442.1M81.0 427.9 L82.2 432.6 L82.7 441.8M78.9 427.9 L81.0 427.9 L84.4 425.6 L84.6 424.2M79.4 416.7 L79.8 420.2 L81.3 422.2 L84.1 423.3 L84.6 424.2M85.3 441.2 L85.3 433.4 L87.5 429.7 L87.5 425.9M84.6 424.2 L87.5 425.9M87.5 425.9 L88.6 420.7 L93.2 420.2 L97.9 421.9 L102.7 421.6 L108.2 421.9 L111.3 420.2 L112.7 421.9M99.4 446.1 L100.3 441.8 L102.7 439.5 L107.0 439.2 L107.5 436.6 L109.8 432.3 L110.6 430.3 L111.7 427.9 L113.7 425.1 L112.7 421.9M113.7 425.1 L114.6 428.2 L115.8 430.8 L112.2 432.3 L115.8 438.0M115.8 438.0 L113.4 443.8 L113.7 447.6 L115.1 451.0 L117.2 453.3M102.2 453.3 L105.8 453.3 L110.6 453.3 L117.2 453.3M105.8 453.3 L105.8 456.8 L101.7 456.8M110.6 453.3 L110.3 456.2 L113.4 461.1 L112.9 465.5 L108.6 466.6 L105.3 471.0M123.2 449.6 L121.0 461.1 L117.9 465.5 L115.8 471.8 L110.1 473.0 L107.5 474.1M117.2 453.3 L118.7 449.6 L123.2 449.6M123.2 449.6 L126.5 447.3 L132.2 447.9 L137.2 445.0 L140.8 444.7 L144.1 445.0M115.8 438.0 L118.7 438.0 L122.9 434.0 L128.9 432.3 L131.3 428.2 L133.4 427.9M133.4 427.9 L135.3 434.6 L138.4 438.0 L142.0 441.5 L144.1 445.0M133.4 427.9 L132.5 423.3 L131.8 419.9 L133.7 416.4 L136.0 414.4M135.3 434.6 L138.4 430.3 L142.0 432.0 L145.1 432.0 L150.3 430.0 L155.1 424.8 L158.0 424.5 L159.9 430.8M159.9 430.8 L160.3 435.2 L157.5 437.2 L159.6 442.4 L163.4 446.4M163.4 446.4 L160.8 446.4 L159.6 448.2M159.6 448.2 L155.1 449.3 L152.2 449.6M144.1 445.0 L148.0 447.0 L152.2 449.6M152.2 449.6 L153.4 453.3 L150.3 456.2 L149.4 463.5M159.9 430.8 L160.6 429.4 L163.9 423.0 L165.6 419.6 L165.8 418.4 L167.0 410.6M165.8 418.4 L168.2 418.7 L171.8 417.6 L174.2 418.1 L177.7 421.3 L179.9 423.6M179.9 423.6 L178.4 425.9 L178.9 427.9 L180.8 427.9M180.8 427.9 L182.0 431.1 L183.7 433.7 L193.0 436.6 L186.1 445.6 L183.0 446.4 L179.2 447.6M179.2 447.6 L176.5 448.4 L173.0 449.6 L169.4 449.3 L164.6 446.7 L163.4 446.4M179.2 447.6 L176.5 451.6 L176.5 462.0 L178.0 464.3M159.6 448.2 L161.1 451.0 L162.2 454.8 L159.9 458.8 L159.6 459.7 L159.9 462.6M159.9 462.6 L168.4 468.6 L172.2 473.3M149.4 462.6 L159.6 462.6M149.4 463.5 L151.5 462.9 L152.5 466.6M148.0 464.0 L148.4 467.8 L148.0 472.7M148.0 467.8 L151.5 466.6M151.5 466.6 L152.2 469.2 L150.8 471.8 L149.1 472.7M148.9 472.7 L151.8 483.4M151.8 483.4 L147.7 484.2 L147.2 487.4 L146.5 491.5 L148.0 495.5 L149.1 497.8 L144.4 494.3 L139.6 492.9 L136.0 491.5M108.2 477.0 L117.7 476.7 L120.8 483.1 L125.1 482.8 L125.1 480.2 L130.8 480.8 L131.3 486.5 L135.8 490.9 L136.0 491.5M136.0 491.5 L136.0 497.2 L131.3 497.2 L131.3 506.5M151.8 483.4 L157.2 486.8M157.2 486.8 L158.0 491.2 L157.5 495.8 L156.8 499.0M157.2 486.8 L159.9 487.1 L161.3 493.2M161.3 493.2 L162.2 500.7 L164.1 501.6 L163.0 506.2M161.3 493.2 L168.2 493.2 L175.1 490.0M156.8 499.0 L151.3 504.7M182.3 422.8 L182.3 422.2" fill="none" stroke="#111" stroke-width="0.85" stroke-linejoin="round"/><rect x="94.1" y="458.3" width="1" height="1" fill="#222"/><rect x="96.0" y="454.6" width="1" height="1" fill="#222"/><rect x="91.7" y="463.2" width="1" height="1" fill="#222"/><rect x="172.0" y="476.8" width="1" height="1" fill="#222"/><rect x="172.9" y="473.9" width="1" height="1" fill="#222"/><rect x="181.5" y="492.7" width="1" height="1" fill="#222"/><rect x="182.0" y="493.6" width="1" height="1" fill="#222"/><rect x="182.7" y="494.7" width="1" height="1" fill="#222"/><rect x="184.1" y="494.4" width="1" height="1" fill="#222"/><rect x="185.8" y="496.1" width="1" height="1" fill="#222"/><rect x="188.7" y="486.3" width="1" height="1" fill="#222"/><rect x="191.5" y="487.2" width="1" height="1" fill="#222"/><rect x="44.1" y="482.0" width="1" height="1" fill="#222"/><rect x="210.6" y="472.5" width="1" height="1" fill="#222"/><rect x="204.6" y="478.0" width="1" height="1" fill="#222"/></g><rect x="36.0" y="416.4" width="171.5" height="86.6" fill="none" stroke="#777" stroke-width="0.9"/><line x1="33.8" y1="416.4" x2="36.0" y2="416.4" stroke="#333" stroke-width="0.8"/><text x="30.6" y="421.3" class="tk" text-anchor="end">15°N</text><line x1="33.8" y1="430.8" x2="36.0" y2="430.8" stroke="#333" stroke-width="0.8"/><text x="30.6" y="435.7" class="tk" text-anchor="end">10°N</text><line x1="33.8" y1="445.3" x2="36.0" y2="445.3" stroke="#333" stroke-width="0.8"/><text x="30.6" y="450.2" class="tk" text-anchor="end">5°N</text><line x1="33.8" y1="459.7" x2="36.0" y2="459.7" stroke="#333" stroke-width="0.8"/><text x="30.6" y="464.6" class="tk" text-anchor="end">0°</text><line x1="33.8" y1="474.1" x2="36.0" y2="474.1" stroke="#333" stroke-width="0.8"/><text x="30.6" y="479.0" class="tk" text-anchor="end">5°S</text><line x1="33.8" y1="488.6" x2="36.0" y2="488.6" stroke="#333" stroke-width="0.8"/><text x="30.6" y="493.5" class="tk" text-anchor="end">10°S</text><line x1="33.8" y1="503.0" x2="36.0" y2="503.0" stroke="#333" stroke-width="0.8"/><text x="30.6" y="506.6" class="tk" text-anchor="end">15°S</text><line x1="78.9" y1="416.4" x2="78.9" y2="418.4" stroke="#333" stroke-width="0.8"/><line x1="121.8" y1="416.4" x2="121.8" y2="418.4" stroke="#333" stroke-width="0.8"/><line x1="164.6" y1="416.4" x2="164.6" y2="418.4" stroke="#333" stroke-width="0.8"/><line x1="207.5" y1="416.4" x2="207.5" y2="418.4" stroke="#333" stroke-width="0.8"/><line x1="36.0" y1="503.0" x2="36.0" y2="505.0" stroke="#333" stroke-width="0.8"/><line x1="78.9" y1="503.0" x2="78.9" y2="505.0" stroke="#333" stroke-width="0.8"/><line x1="121.8" y1="503.0" x2="121.8" y2="505.0" stroke="#333" stroke-width="0.8"/><line x1="164.6" y1="503.0" x2="164.6" y2="505.0" stroke="#333" stroke-width="0.8"/><line x1="207.5" y1="503.0" x2="207.5" y2="505.0" stroke="#333" stroke-width="0.8"/><text x="38.8" y="413.7" class="tt" textLength="78.8" lengthAdjust="spacingAndGlyphs">(a5) SPRING,&#160; (corr PET-SST)</text><text transform="translate(11.4 462.7) rotate(-90)" class="yl" text-anchor="middle" textLength="56.5" lengthAdjust="spacingAndGlyphs">correlation&#160; PET-SST</text><clipPath id="cb5"><rect x="245.5" y="415.0" width="170.0" height="87.3"/></clipPath><clipPath id="lb5"><path d="M250.2 407.7 L249.0 412.1 L247.6 415.0 L246.7 415.9 L247.9 416.7 L248.3 418.5 L248.6 419.9 L248.3 422.3 L249.3 423.7 L251.4 425.2 L252.6 426.9 L253.5 428.1 L254.9 430.1 L256.6 431.9 L256.8 433.9 L257.8 436.0 L259.7 437.7 L261.1 438.9 L262.5 440.3 L265.6 442.9 L267.9 445.0 L270.1 446.0 L272.7 445.3 L276.2 443.8 L278.6 443.4 L280.9 443.8 L283.3 444.8 L285.6 443.8 L288.0 442.4 L290.4 441.5 L293.9 440.3 L296.0 440.0 L298.6 440.9 L300.3 442.6 L301.2 445.3 L302.6 446.1 L304.5 445.8 L306.9 445.3 L308.5 445.6 L309.7 447.0 L310.9 448.8 L311.1 451.7 L311.1 455.7 L310.2 457.8 L310.0 459.5 L308.8 460.7 L309.7 463.0 L311.6 466.8 L314.0 469.7 L315.9 472.6 L316.8 474.9 L317.0 476.4 L318.5 479.9 L319.2 484.3 L319.6 486.3 L320.6 489.8 L320.3 492.7 L319.9 494.7 L317.8 497.6 L317.0 500.3 L316.6 502.9 L316.3 506.7 L381.3 506.7 L383.9 502.9 L384.3 500.8 L383.9 496.5 L383.6 492.1 L383.4 489.2 L381.7 485.7 L380.8 482.8 L380.8 479.0 L379.8 477.6 L380.3 474.7 L380.6 472.3 L381.7 470.3 L382.7 468.3 L383.2 466.2 L384.8 464.5 L386.2 463.3 L388.3 460.1 L390.7 456.3 L393.1 454.0 L395.0 452.8 L397.8 449.9 L400.4 446.1 L402.5 442.6 L404.4 438.3 L405.8 433.9 L407.5 429.6 L408.7 427.8 L409.1 424.3 L407.2 424.0 L404.9 425.8 L402.5 426.1 L399.0 426.9 L396.1 427.5 L394.2 428.4 L391.9 428.1 L390.5 425.8 L389.1 425.2 L390.0 424.3 L390.2 422.6 L388.8 420.8 L387.2 418.5 L384.8 416.5 L382.4 414.1 L381.3 413.3 L380.1 410.6 L378.9 407.7ZM388.3 407.7 L388.8 410.6 L389.1 414.1 L389.3 415.6 L390.0 417.9 L390.2 419.9 L390.7 421.7 L391.9 422.0 L394.2 421.4 L396.6 419.7 L400.2 418.2 L403.0 417.9 L404.9 416.2 L407.2 415.0 L411.2 413.3 L413.1 411.5 L417.9 408.3 L421.4 406.6 L421.4 404.8 L388.3 404.8ZM404.4 493.4 L405.1 495.0 L405.8 497.1 L406.5 500.8 L406.8 503.2 L407.2 506.7 L393.1 506.7 L396.6 504.9 L399.2 502.3 L400.9 499.4 L402.0 497.6 L403.2 495.0ZM413.8 422.0 L415.5 421.7 L416.7 422.3 L415.5 422.9 L414.1 422.6ZM308.1 447.9 L309.0 447.6 L309.0 449.0 L308.3 449.3Z"/></clipPath><g clip-path="url(#cb5)"><g clip-path="url(#lb5)"><g filter="url(#bl)"><path d="M245.2 414.7h5.3v6.4h-5.3zM259.4 414.7h10.0v6.4h-10.0zM278.3 414.7h24.2v6.4h-24.2zM245.2 420.5h5.3v6.4h-5.3zM287.7 420.5h10.0v6.4h-10.0zM245.2 426.3h5.3v6.4h-5.3zM292.4 426.3h5.3v6.4h-5.3zM245.2 432.2h5.3v6.4h-5.3zM372.7 432.2h5.3v6.4h-5.3zM391.6 432.2h10.0v6.4h-10.0zM245.2 438.0h5.3v6.4h-5.3zM368.0 438.0h14.8v6.4h-14.8zM386.9 438.0h14.8v6.4h-14.8zM245.2 443.8h5.3v6.4h-5.3zM349.1 443.8h10.0v6.4h-10.0zM368.0 443.8h10.0v6.4h-10.0zM386.9 443.8h14.8v6.4h-14.8zM245.2 449.6h5.3v6.4h-5.3zM325.5 449.6h5.3v6.4h-5.3zM344.4 449.6h10.0v6.4h-10.0zM368.0 449.6h10.0v6.4h-10.0zM386.9 449.6h14.8v6.4h-14.8zM245.2 455.4h5.3v6.4h-5.3zM320.8 455.4h10.0v6.4h-10.0zM344.4 455.4h5.3v6.4h-5.3zM368.0 455.4h5.3v6.4h-5.3zM386.9 455.4h14.8v6.4h-14.8zM245.2 461.3h5.3v6.4h-5.3zM320.8 461.3h5.3v6.4h-5.3zM334.9 461.3h14.8v6.4h-14.8zM363.3 461.3h14.8v6.4h-14.8zM386.9 461.3h14.8v6.4h-14.8zM245.2 467.1h5.3v6.4h-5.3zM320.8 467.1h5.3v6.4h-5.3zM330.2 467.1h24.2v6.4h-24.2zM358.5 467.1h14.8v6.4h-14.8zM245.2 472.9h5.3v6.4h-5.3zM330.2 472.9h14.8v6.4h-14.8zM358.5 472.9h10.0v6.4h-10.0zM372.7 472.9h5.3v6.4h-5.3zM245.2 478.7h5.3v6.4h-5.3zM287.7 478.7h38.4v6.4h-38.4zM330.2 478.7h10.0v6.4h-10.0zM353.8 478.7h10.0v6.4h-10.0zM372.7 478.7h5.3v6.4h-5.3zM245.2 484.5h5.3v6.4h-5.3zM283.0 484.5h38.4v6.4h-38.4zM330.2 484.5h10.0v6.4h-10.0zM363.3 484.5h14.8v6.4h-14.8zM245.2 490.4h5.3v6.4h-5.3zM278.3 490.4h43.1v6.4h-43.1zM330.2 490.4h10.0v6.4h-10.0zM344.4 490.4h5.3v6.4h-5.3zM368.0 490.4h10.0v6.4h-10.0zM245.2 496.2h5.3v6.4h-5.3zM273.5 496.2h52.5v6.4h-52.5zM334.9 496.2h14.8v6.4h-14.8zM368.0 496.2h5.3v6.4h-5.3z" fill="#8eabf2"/><path d="M249.9 414.7h10.0v6.4h-10.0zM268.8 414.7h10.0v6.4h-10.0zM301.9 414.7h19.5v6.4h-19.5zM325.5 414.7h5.3v6.4h-5.3zM339.6 414.7h28.9v6.4h-28.9zM382.1 414.7h10.0v6.4h-10.0zM249.9 420.5h19.5v6.4h-19.5zM273.5 420.5h14.8v6.4h-14.8zM297.1 420.5h14.8v6.4h-14.8zM325.5 420.5h5.3v6.4h-5.3zM344.4 420.5h19.5v6.4h-19.5zM386.9 420.5h5.3v6.4h-5.3zM401.0 420.5h14.8v6.4h-14.8zM249.9 426.3h19.5v6.4h-19.5zM278.3 426.3h5.3v6.4h-5.3zM287.7 426.3h5.3v6.4h-5.3zM297.1 426.3h10.0v6.4h-10.0zM320.8 426.3h5.3v6.4h-5.3zM349.1 426.3h5.3v6.4h-5.3zM363.3 426.3h5.3v6.4h-5.3zM377.4 426.3h10.0v6.4h-10.0zM401.0 426.3h14.8v6.4h-14.8zM249.9 432.2h19.5v6.4h-19.5zM273.5 432.2h5.3v6.4h-5.3zM287.7 432.2h24.2v6.4h-24.2zM377.4 432.2h10.0v6.4h-10.0zM401.0 432.2h14.8v6.4h-14.8zM249.9 438.0h33.7v6.4h-33.7zM287.7 438.0h24.2v6.4h-24.2zM330.2 438.0h5.3v6.4h-5.3zM339.6 438.0h10.0v6.4h-10.0zM353.8 438.0h14.8v6.4h-14.8zM382.1 438.0h5.3v6.4h-5.3zM401.0 438.0h14.8v6.4h-14.8zM249.9 443.8h33.7v6.4h-33.7zM287.7 443.8h28.9v6.4h-28.9zM325.5 443.8h5.3v6.4h-5.3zM358.5 443.8h10.0v6.4h-10.0zM377.4 443.8h10.0v6.4h-10.0zM401.0 443.8h14.8v6.4h-14.8zM249.9 449.6h33.7v6.4h-33.7zM287.7 449.6h28.9v6.4h-28.9zM320.8 449.6h5.3v6.4h-5.3zM363.3 449.6h5.3v6.4h-5.3zM377.4 449.6h10.0v6.4h-10.0zM401.0 449.6h14.8v6.4h-14.8zM249.9 455.4h33.7v6.4h-33.7zM287.7 455.4h33.7v6.4h-33.7zM330.2 455.4h5.3v6.4h-5.3zM339.6 455.4h5.3v6.4h-5.3zM349.1 455.4h5.3v6.4h-5.3zM372.7 455.4h14.8v6.4h-14.8zM401.0 455.4h14.8v6.4h-14.8zM249.9 461.3h33.7v6.4h-33.7zM287.7 461.3h33.7v6.4h-33.7zM325.5 461.3h10.0v6.4h-10.0zM349.1 461.3h14.8v6.4h-14.8zM377.4 461.3h10.0v6.4h-10.0zM401.0 461.3h14.8v6.4h-14.8zM249.9 467.1h33.7v6.4h-33.7zM287.7 467.1h33.7v6.4h-33.7zM325.5 467.1h5.3v6.4h-5.3zM353.8 467.1h5.3v6.4h-5.3zM372.7 467.1h43.1v6.4h-43.1zM249.9 472.9h33.7v6.4h-33.7zM287.7 472.9h43.1v6.4h-43.1zM344.4 472.9h5.3v6.4h-5.3zM353.8 472.9h5.3v6.4h-5.3zM368.0 472.9h5.3v6.4h-5.3zM377.4 472.9h38.4v6.4h-38.4zM249.9 478.7h33.7v6.4h-33.7zM325.5 478.7h5.3v6.4h-5.3zM339.6 478.7h5.3v6.4h-5.3zM349.1 478.7h5.3v6.4h-5.3zM363.3 478.7h10.0v6.4h-10.0zM377.4 478.7h38.4v6.4h-38.4zM249.9 484.5h33.7v6.4h-33.7zM320.8 484.5h10.0v6.4h-10.0zM339.6 484.5h14.8v6.4h-14.8zM377.4 484.5h38.4v6.4h-38.4zM249.9 490.4h28.9v6.4h-28.9zM320.8 490.4h10.0v6.4h-10.0zM339.6 490.4h5.3v6.4h-5.3zM349.1 490.4h10.0v6.4h-10.0zM363.3 490.4h5.3v6.4h-5.3zM377.4 490.4h38.4v6.4h-38.4zM249.9 496.2h24.2v6.4h-24.2zM325.5 496.2h10.0v6.4h-10.0zM349.1 496.2h19.5v6.4h-19.5zM372.7 496.2h43.1v6.4h-43.1z" fill="#c0d3f6"/><path d="M320.8 414.7h5.3v6.4h-5.3zM391.6 414.7h24.2v6.4h-24.2zM358.5 449.6h5.3v6.4h-5.3zM358.5 455.4h10.0v6.4h-10.0zM349.1 472.9h5.3v6.4h-5.3z" fill="#ececec"/><path d="M330.2 414.7h5.3v6.4h-5.3zM311.3 420.5h5.3v6.4h-5.3zM330.2 420.5h10.0v6.4h-10.0zM368.0 420.5h5.3v6.4h-5.3zM330.2 426.3h14.8v6.4h-14.8zM358.5 426.3h5.3v6.4h-5.3zM334.9 432.2h10.0v6.4h-10.0zM353.8 432.2h14.8v6.4h-14.8zM316.0 443.8h5.3v6.4h-5.3zM334.9 443.8h10.0v6.4h-10.0zM353.8 455.4h5.3v6.4h-5.3z" fill="#f0ae92"/><path d="M334.9 414.7h5.3v6.4h-5.3zM368.0 414.7h14.8v6.4h-14.8zM268.8 420.5h5.3v6.4h-5.3zM316.0 420.5h10.0v6.4h-10.0zM339.6 420.5h5.3v6.4h-5.3zM363.3 420.5h5.3v6.4h-5.3zM372.7 420.5h14.8v6.4h-14.8zM391.6 420.5h10.0v6.4h-10.0zM268.8 426.3h10.0v6.4h-10.0zM283.0 426.3h5.3v6.4h-5.3zM306.6 426.3h14.8v6.4h-14.8zM325.5 426.3h5.3v6.4h-5.3zM344.4 426.3h5.3v6.4h-5.3zM353.8 426.3h5.3v6.4h-5.3zM368.0 426.3h10.0v6.4h-10.0zM386.9 426.3h14.8v6.4h-14.8zM268.8 432.2h5.3v6.4h-5.3zM278.3 432.2h10.0v6.4h-10.0zM311.3 432.2h24.2v6.4h-24.2zM344.4 432.2h10.0v6.4h-10.0zM368.0 432.2h5.3v6.4h-5.3zM386.9 432.2h5.3v6.4h-5.3zM283.0 438.0h5.3v6.4h-5.3zM311.3 438.0h19.5v6.4h-19.5zM334.9 438.0h5.3v6.4h-5.3zM349.1 438.0h5.3v6.4h-5.3zM283.0 443.8h5.3v6.4h-5.3zM320.8 443.8h5.3v6.4h-5.3zM330.2 443.8h5.3v6.4h-5.3zM344.4 443.8h5.3v6.4h-5.3zM283.0 449.6h5.3v6.4h-5.3zM316.0 449.6h5.3v6.4h-5.3zM330.2 449.6h14.8v6.4h-14.8zM353.8 449.6h5.3v6.4h-5.3zM283.0 455.4h5.3v6.4h-5.3zM334.9 455.4h5.3v6.4h-5.3zM283.0 461.3h5.3v6.4h-5.3zM283.0 467.1h5.3v6.4h-5.3zM283.0 472.9h5.3v6.4h-5.3zM283.0 478.7h5.3v6.4h-5.3zM344.4 478.7h5.3v6.4h-5.3zM353.8 484.5h10.0v6.4h-10.0zM358.5 490.4h5.3v6.4h-5.3z" fill="#f3cbb6"/></g><mask id="mb5D" maskUnits="userSpaceOnUse" x="240.5" y="410.0" width="180.0" height="97.3"><path filter="url(#bl2)" d="M245.2 414.7h5.3v6.4h-5.3zM259.4 414.7h10.0v6.4h-10.0zM278.3 414.7h24.2v6.4h-24.2zM245.2 420.5h5.3v6.4h-5.3zM287.7 420.5h10.0v6.4h-10.0zM245.2 426.3h5.3v6.4h-5.3zM292.4 426.3h5.3v6.4h-5.3zM245.2 432.2h5.3v6.4h-5.3zM372.7 432.2h5.3v6.4h-5.3zM391.6 432.2h10.0v6.4h-10.0zM245.2 438.0h5.3v6.4h-5.3zM368.0 438.0h14.8v6.4h-14.8zM386.9 438.0h14.8v6.4h-14.8zM245.2 443.8h5.3v6.4h-5.3zM349.1 443.8h10.0v6.4h-10.0zM368.0 443.8h10.0v6.4h-10.0zM386.9 443.8h14.8v6.4h-14.8zM245.2 449.6h5.3v6.4h-5.3zM325.5 449.6h5.3v6.4h-5.3zM344.4 449.6h10.0v6.4h-10.0zM368.0 449.6h10.0v6.4h-10.0zM386.9 449.6h14.8v6.4h-14.8zM245.2 455.4h5.3v6.4h-5.3zM320.8 455.4h10.0v6.4h-10.0zM344.4 455.4h5.3v6.4h-5.3zM368.0 455.4h5.3v6.4h-5.3zM386.9 455.4h14.8v6.4h-14.8zM245.2 461.3h5.3v6.4h-5.3zM320.8 461.3h5.3v6.4h-5.3zM334.9 461.3h14.8v6.4h-14.8zM363.3 461.3h14.8v6.4h-14.8zM386.9 461.3h14.8v6.4h-14.8zM245.2 467.1h5.3v6.4h-5.3zM320.8 467.1h5.3v6.4h-5.3zM330.2 467.1h24.2v6.4h-24.2zM358.5 467.1h14.8v6.4h-14.8zM245.2 472.9h5.3v6.4h-5.3zM330.2 472.9h14.8v6.4h-14.8zM358.5 472.9h10.0v6.4h-10.0zM372.7 472.9h5.3v6.4h-5.3zM245.2 478.7h5.3v6.4h-5.3zM287.7 478.7h38.4v6.4h-38.4zM330.2 478.7h10.0v6.4h-10.0zM353.8 478.7h10.0v6.4h-10.0zM372.7 478.7h5.3v6.4h-5.3zM245.2 484.5h5.3v6.4h-5.3zM283.0 484.5h38.4v6.4h-38.4zM330.2 484.5h10.0v6.4h-10.0zM363.3 484.5h14.8v6.4h-14.8zM245.2 490.4h5.3v6.4h-5.3zM278.3 490.4h43.1v6.4h-43.1zM330.2 490.4h10.0v6.4h-10.0zM344.4 490.4h5.3v6.4h-5.3zM368.0 490.4h10.0v6.4h-10.0zM245.2 496.2h5.3v6.4h-5.3zM273.5 496.2h52.5v6.4h-52.5zM334.9 496.2h14.8v6.4h-14.8zM368.0 496.2h5.3v6.4h-5.3z" fill="#fff"/></mask><rect x="245.5" y="415.0" width="170.0" height="87.3" fill="url(#hb)" mask="url(#mb5D)"/><mask id="mb5R" maskUnits="userSpaceOnUse" x="240.5" y="410.0" width="180.0" height="97.3"><path filter="url(#bl2)" d="M330.2 414.7h5.3v6.4h-5.3zM311.3 420.5h5.3v6.4h-5.3zM330.2 420.5h10.0v6.4h-10.0zM368.0 420.5h5.3v6.4h-5.3zM330.2 426.3h14.8v6.4h-14.8zM358.5 426.3h5.3v6.4h-5.3zM334.9 432.2h10.0v6.4h-10.0zM353.8 432.2h14.8v6.4h-14.8zM316.0 443.8h5.3v6.4h-5.3zM334.9 443.8h10.0v6.4h-10.0zM353.8 455.4h5.3v6.4h-5.3z" fill="#fff"/></mask><rect x="245.5" y="415.0" width="170.0" height="87.3" fill="url(#hr)" mask="url(#mb5R)"/></g><path d="M363.1 459.8 L364.7 458.1 L366.6 457.8 L368.5 458.6 L368.3 460.1 L368.0 463.9 L366.4 465.9 L364.5 466.2 L362.8 463.9 L362.8 461.6ZM356.9 468.3 L357.4 468.5 L357.9 471.7 L358.8 474.9 L360.2 477.9 L361.2 480.8 L361.4 483.4 L360.7 484.3 L359.8 482.5 L358.1 479.0 L357.2 476.1 L356.7 472.6ZM368.3 486.3 L369.5 487.2 L369.9 490.7 L370.4 493.6 L370.6 496.5 L371.3 500.3 L370.4 500.6 L369.5 498.2 L368.8 495.0 L368.3 490.7ZM372.8 445.6 L373.7 445.8 L374.2 449.0 L374.2 451.4 L373.5 451.1 L373.0 448.5ZM287.3 433.6 L288.5 433.3 L288.9 436.8 L288.2 440.0 L287.5 438.3 L286.8 435.4ZM375.4 422.9 L376.5 422.9 L376.8 424.6 L375.8 424.9ZM359.8 454.3 L360.2 453.1 L362.1 452.2 L361.7 453.4 L360.0 455.4ZM356.5 463.6 L357.2 463.6 L356.9 465.9 L356.2 465.6ZM355.1 484.0 L356.5 483.4 L356.7 486.0 L355.5 486.3ZM319.9 418.5 L322.2 418.2 L322.5 420.8 L320.8 421.7 L319.4 420.2ZM357.9 490.7 L358.8 490.4 L359.1 492.4 L357.9 492.1Z" fill="#fff" stroke="#222" stroke-width="0.5"/><path d="M250.2 407.7 L249.0 412.1 L247.6 415.0 L246.7 415.9 L247.9 416.7 L248.3 418.5 L248.6 419.9 L248.3 422.3 L249.3 423.7 L251.4 425.2 L252.6 426.9 L253.5 428.1 L254.9 430.1 L256.6 431.9 L256.8 433.9 L257.8 436.0 L259.7 437.7 L261.1 438.9 L262.5 440.3 L265.6 442.9 L267.9 445.0 L270.1 446.0 L272.7 445.3 L276.2 443.8 L278.6 443.4 L280.9 443.8 L283.3 444.8 L285.6 443.8 L288.0 442.4 L290.4 441.5 L293.9 440.3 L296.0 440.0 L298.6 440.9 L300.3 442.6 L301.2 445.3 L302.6 446.1 L304.5 445.8 L306.9 445.3 L308.5 445.6 L309.7 447.0 L310.9 448.8 L311.1 451.7 L311.1 455.7 L310.2 457.8 L310.0 459.5 L308.8 460.7 L309.7 463.0 L311.6 466.8 L314.0 469.7 L315.9 472.6 L316.8 474.9 L317.0 476.4 L318.5 479.9 L319.2 484.3 L319.6 486.3 L320.6 489.8 L320.3 492.7 L319.9 494.7 L317.8 497.6 L317.0 500.3 L316.6 502.9 L316.3 506.7 L381.3 506.7 L383.9 502.9 L384.3 500.8 L383.9 496.5 L383.6 492.1 L383.4 489.2 L381.7 485.7 L380.8 482.8 L380.8 479.0 L379.8 477.6 L380.3 474.7 L380.6 472.3 L381.7 470.3 L382.7 468.3 L383.2 466.2 L384.8 464.5 L386.2 463.3 L388.3 460.1 L390.7 456.3 L393.1 454.0 L395.0 452.8 L397.8 449.9 L400.4 446.1 L402.5 442.6 L404.4 438.3 L405.8 433.9 L407.5 429.6 L408.7 427.8 L409.1 424.3 L407.2 424.0 L404.9 425.8 L402.5 426.1 L399.0 426.9 L396.1 427.5 L394.2 428.4 L391.9 428.1 L390.5 425.8 L389.1 425.2 L390.0 424.3 L390.2 422.6 L388.8 420.8 L387.2 418.5 L384.8 416.5 L382.4 414.1 L381.3 413.3 L380.1 410.6 L378.9 407.7ZM388.3 407.7 L388.8 410.6 L389.1 414.1 L389.3 415.6 L390.0 417.9 L390.2 419.9 L390.7 421.7 L391.9 422.0 L394.2 421.4 L396.6 419.7 L400.2 418.2 L403.0 417.9 L404.9 416.2 L407.2 415.0 L411.2 413.3 L413.1 411.5 L417.9 408.3 L421.4 406.6 L421.4 404.8 L388.3 404.8ZM404.4 493.4 L405.1 495.0 L405.8 497.1 L406.5 500.8 L406.8 503.2 L407.2 506.7 L393.1 506.7 L396.6 504.9 L399.2 502.3 L400.9 499.4 L402.0 497.6 L403.2 495.0ZM413.8 422.0 L415.5 421.7 L416.7 422.3 L415.5 422.9 L414.1 422.6ZM308.1 447.9 L309.0 447.6 L309.0 449.0 L308.3 449.3Z" fill="none" stroke="#0a0a0a" stroke-width="1.1" stroke-linejoin="round"/><path d="M259.2 415.9 L261.1 422.6M248.6 419.1 L255.4 419.4M248.6 420.5 L255.4 419.9M248.6 422.7 L255.7 422.0 L261.1 422.6M255.7 422.0 L255.7 424.6 L252.6 426.9M256.6 432.5 L258.7 429.8 L261.6 429.6 L263.0 431.6 L263.0 434.5 L260.8 438.6M263.0 434.5 L265.6 433.9 L267.9 436.5M267.9 436.5 L270.3 441.8 L270.3 445.8M261.1 422.6 L263.2 424.0 L266.8 422.6 L268.4 425.8 L269.1 429.0M269.1 429.0 L269.3 433.0 L267.9 436.5M269.1 429.0 L275.0 428.4 L276.9 430.4 L281.6 431.0M275.2 428.4 L275.7 425.5 L277.6 422.3 L280.9 419.1 L285.6 415.0 L288.5 415.3M281.6 431.0 L281.2 435.7 L280.4 440.6 L281.2 444.1M281.6 431.0 L281.4 426.6 L288.0 426.6M288.0 426.6 L289.2 429.6 L289.4 434.8 L290.8 440.9M290.1 426.6 L291.3 431.3 L291.8 440.6M288.0 426.6 L290.1 426.6 L293.4 424.3 L293.7 422.9M288.5 415.3 L288.9 418.8 L290.4 420.8 L293.2 422.0 L293.7 422.9M294.4 440.0 L294.4 432.2 L296.5 428.4 L296.5 424.6M293.7 422.9 L296.5 424.6M296.5 424.6 L297.7 419.4 L302.2 418.8 L306.9 420.5 L311.6 420.2 L317.0 420.5 L320.1 418.8 L321.5 420.5M308.3 445.0 L309.2 440.6 L311.6 438.3 L315.9 438.0 L316.3 435.4 L318.7 431.0 L319.4 429.0 L320.6 426.6 L322.5 423.7 L321.5 420.5M322.5 423.7 L323.4 426.9 L324.6 429.6 L321.1 431.0 L324.6 436.8M324.6 436.8 L322.2 442.6 L322.5 446.4 L323.9 449.9 L326.0 452.2M311.1 452.2 L314.7 452.2 L319.4 452.2 L326.0 452.2M314.7 452.2 L314.7 455.7 L310.7 455.7M319.4 452.2 L319.2 455.2 L322.2 460.1 L321.8 464.5 L317.5 465.6 L314.2 470.0M331.9 448.5 L329.8 460.1 L326.7 464.5 L324.6 470.9 L318.9 472.0 L316.3 473.2M326.0 452.2 L327.4 448.5 L331.9 448.5M331.9 448.5 L335.2 446.1 L340.9 446.7 L345.8 443.8 L349.4 443.5 L352.7 443.8M324.6 436.8 L327.4 436.8 L331.7 432.8 L337.6 431.0 L339.9 426.9 L342.1 426.6M342.1 426.6 L344.0 433.3 L347.0 436.8 L350.6 440.3 L352.7 443.8M342.1 426.6 L341.1 422.0 L340.4 418.5 L342.3 415.0 L344.7 413.0M344.0 433.3 L347.0 429.0 L350.6 430.7 L353.6 430.7 L358.8 428.7 L363.6 423.4 L366.4 423.1 L368.3 429.6M368.3 429.6 L368.8 433.9 L365.9 436.0 L368.0 441.2 L371.8 445.3M371.8 445.3 L369.2 445.3 L368.0 447.0M368.0 447.0 L363.6 448.2 L360.7 448.5M352.7 443.8 L356.5 445.8 L360.7 448.5M360.7 448.5 L361.9 452.2 L358.8 455.2 L357.9 462.4M368.3 429.6 L369.0 428.1 L372.3 421.7 L373.9 418.2 L374.2 417.0 L375.4 409.2M374.2 417.0 L376.5 417.3 L380.1 416.2 L382.4 416.7 L386.0 419.9 L388.1 422.3M388.1 422.3 L386.7 424.6 L387.2 426.6 L389.1 426.6M389.1 426.6 L390.2 429.8 L391.9 432.5 L401.1 435.4 L394.2 444.4 L391.2 445.3 L387.4 446.4M387.4 446.4 L384.8 447.3 L381.3 448.5 L377.7 448.2 L373.0 445.6 L371.8 445.3M387.4 446.4 L384.8 450.5 L384.8 461.0 L386.2 463.3M368.0 447.0 L369.5 449.9 L370.6 453.7 L368.3 457.8 L368.0 458.6 L368.3 461.6M368.3 461.6 L376.8 467.7 L380.6 472.3M357.9 461.6 L368.0 461.6M357.9 462.4 L360.0 461.9 L361.0 465.6M356.5 463.0 L356.9 466.8 L356.5 471.7M356.5 466.8 L360.0 465.6M360.0 465.6 L360.7 468.3 L359.3 470.9 L357.7 471.7M357.4 471.7 L360.2 482.5M360.2 482.5 L356.2 483.4 L355.8 486.6 L355.1 490.7 L356.5 494.7 L357.7 497.1 L352.9 493.6 L348.2 492.1 L344.7 490.7M317.0 476.1 L326.5 475.8 L329.6 482.2 L333.8 481.9 L333.8 479.3 L339.5 479.9 L339.9 485.7 L344.4 490.1 L344.7 490.7M344.7 490.7 L344.7 496.5 L339.9 496.5 L339.9 505.8M360.2 482.5 L365.7 486.0M365.7 486.0 L366.4 490.4 L365.9 495.0 L365.2 498.2M365.7 486.0 L368.3 486.3 L369.7 492.4M369.7 492.4 L370.6 500.0 L372.5 500.8 L371.3 505.5M369.7 492.4 L376.5 492.4 L383.4 489.2M365.2 498.2 L359.8 504.0M390.5 421.4 L390.5 420.8" fill="none" stroke="#111" stroke-width="0.85" stroke-linejoin="round"/><rect x="303.1" y="457.3" width="1" height="1" fill="#222"/><rect x="305.0" y="453.5" width="1" height="1" fill="#222"/><rect x="300.7" y="462.2" width="1" height="1" fill="#222"/><rect x="380.3" y="475.9" width="1" height="1" fill="#222"/><rect x="381.2" y="473.0" width="1" height="1" fill="#222"/><rect x="389.7" y="491.9" width="1" height="1" fill="#222"/><rect x="390.2" y="492.8" width="1" height="1" fill="#222"/><rect x="390.9" y="493.9" width="1" height="1" fill="#222"/><rect x="392.3" y="493.7" width="1" height="1" fill="#222"/><rect x="394.0" y="495.4" width="1" height="1" fill="#222"/><rect x="396.8" y="485.5" width="1" height="1" fill="#222"/><rect x="399.7" y="486.4" width="1" height="1" fill="#222"/><rect x="253.5" y="481.1" width="1" height="1" fill="#222"/><rect x="418.5" y="471.5" width="1" height="1" fill="#222"/><rect x="412.6" y="477.1" width="1" height="1" fill="#222"/></g><rect x="245.5" y="415.0" width="170.0" height="87.3" fill="none" stroke="#777" stroke-width="0.9"/><line x1="243.3" y1="415.0" x2="245.5" y2="415.0" stroke="#333" stroke-width="0.8"/><text x="240.0" y="419.9" class="tk" text-anchor="end">15°N</text><line x1="243.3" y1="429.6" x2="245.5" y2="429.6" stroke="#333" stroke-width="0.8"/><text x="240.0" y="434.4" class="tk" text-anchor="end">10°N</text><line x1="243.3" y1="444.1" x2="245.5" y2="444.1" stroke="#333" stroke-width="0.8"/><text x="240.0" y="449.0" class="tk" text-anchor="end">5°N</text><line x1="243.3" y1="458.6" x2="245.5" y2="458.6" stroke="#333" stroke-width="0.8"/><text x="240.0" y="463.5" class="tk" text-anchor="end">0°</text><line x1="243.3" y1="473.2" x2="245.5" y2="473.2" stroke="#333" stroke-width="0.8"/><text x="240.0" y="478.1" class="tk" text-anchor="end">5°S</text><line x1="243.3" y1="487.8" x2="245.5" y2="487.8" stroke="#333" stroke-width="0.8"/><text x="240.0" y="492.6" class="tk" text-anchor="end">10°S</text><line x1="243.3" y1="502.3" x2="245.5" y2="502.3" stroke="#333" stroke-width="0.8"/><text x="240.0" y="505.9" class="tk" text-anchor="end">15°S</text><line x1="288.0" y1="415.0" x2="288.0" y2="417.0" stroke="#333" stroke-width="0.8"/><line x1="330.5" y1="415.0" x2="330.5" y2="417.0" stroke="#333" stroke-width="0.8"/><line x1="373.0" y1="415.0" x2="373.0" y2="417.0" stroke="#333" stroke-width="0.8"/><line x1="415.5" y1="415.0" x2="415.5" y2="417.0" stroke="#333" stroke-width="0.8"/><line x1="245.5" y1="502.3" x2="245.5" y2="504.3" stroke="#333" stroke-width="0.8"/><line x1="288.0" y1="502.3" x2="288.0" y2="504.3" stroke="#333" stroke-width="0.8"/><line x1="330.5" y1="502.3" x2="330.5" y2="504.3" stroke="#333" stroke-width="0.8"/><line x1="373.0" y1="502.3" x2="373.0" y2="504.3" stroke="#333" stroke-width="0.8"/><line x1="415.5" y1="502.3" x2="415.5" y2="504.3" stroke="#333" stroke-width="0.8"/><text x="247.7" y="412.7" class="tt" textLength="76.9" lengthAdjust="spacingAndGlyphs">(b5) SPRING, (corr AET-SST)</text><text transform="translate(220.9 459.4) rotate(-90)" class="yl" text-anchor="middle" textLength="53.0" lengthAdjust="spacingAndGlyphs">correlation&#160; AET-SST</text><text x="44.0" y="515.4" class="tk" text-anchor="middle">18°W</text><text x="78.8" y="515.4" class="tk" text-anchor="middle">0°</text><text x="119.9" y="515.4" class="tk" text-anchor="middle">18°E</text><text x="162.4" y="515.4" class="tk" text-anchor="middle">36°E</text><text x="202.7" y="515.4" class="tk" text-anchor="middle">54°E</text><text x="253.6" y="512.2" class="tk" text-anchor="middle">18°W</text><text x="289.0" y="512.2" class="tk" text-anchor="middle">0°</text><text x="329.8" y="512.2" class="tk" text-anchor="middle">18°E</text><text x="372.9" y="512.2" class="tk" text-anchor="middle">36°E</text><text x="412.0" y="512.2" class="tk" text-anchor="middle">54°E</text><rect x="88.85" y="522.9" width="13.69" height="11.3" fill="#bd1f2d"/><rect x="102.44" y="522.9" width="13.69" height="11.3" fill="#cf453c"/><rect x="116.02" y="522.9" width="13.69" height="11.3" fill="#de614d"/><rect x="129.61" y="522.9" width="13.69" height="11.3" fill="#e9785d"/><rect x="143.19" y="522.9" width="13.69" height="11.3" fill="#f18f71"/><rect x="156.78" y="522.9" width="13.69" height="11.3" fill="#f6a385"/><rect x="170.36" y="522.9" width="13.69" height="11.3" fill="#f7b599"/><rect x="183.94" y="522.9" width="13.69" height="11.3" fill="#f4c5ad"/><rect x="197.53" y="522.9" width="13.69" height="11.3" fill="#eed0c0"/><rect x="211.12" y="522.9" width="13.69" height="11.3" fill="#e3d9d3"/><rect x="224.70" y="522.9" width="13.69" height="11.3" fill="#d6dce4"/><rect x="238.29" y="522.9" width="13.69" height="11.3" fill="#c7d7f0"/><rect x="251.87" y="522.9" width="13.69" height="11.3" fill="#b7cff9"/><rect x="265.46" y="522.9" width="13.69" height="11.3" fill="#a7c5fe"/><rect x="279.04" y="522.9" width="13.69" height="11.3" fill="#96b7ff"/><rect x="292.63" y="522.9" width="13.69" height="11.3" fill="#84a7fc"/><rect x="306.21" y="522.9" width="13.69" height="11.3" fill="#7295f4"/><rect x="319.80" y="522.9" width="13.69" height="11.3" fill="#6180e9"/><rect x="333.38" y="522.9" width="13.69" height="11.3" fill="#516ddb"/><rect x="346.97" y="522.9" width="13.69" height="11.3" fill="#4257c9"/><polygon points="89.0,522.9 75.5,528.5 89.0,534.2" fill="#b40426"/><polygon points="360.5,522.9 375.2,528.5 360.5,534.2" fill="#3b4cc0"/><polygon points="75.5,528.5 88.9,522.9 360.6,522.9 375.2,528.5 360.6,534.2 88.9,534.2" fill="none" stroke="#444" stroke-width="0.5"/><line x1="102.5" y1="532.7" x2="102.5" y2="534.2" stroke="#555" stroke-width="0.6"/><text x="102.5" y="545.6" class="cb" text-anchor="middle">−0.9</text><line x1="143.2" y1="532.7" x2="143.2" y2="534.2" stroke="#555" stroke-width="0.6"/><text x="143.2" y="545.6" class="cb" text-anchor="middle">−0.6</text><line x1="184.0" y1="532.7" x2="184.0" y2="534.2" stroke="#555" stroke-width="0.6"/><text x="184.0" y="545.6" class="cb" text-anchor="middle">−0.3</text><line x1="224.8" y1="532.7" x2="224.8" y2="534.2" stroke="#555" stroke-width="0.6"/><text x="224.8" y="545.6" class="cb" text-anchor="middle">0.0</text><line x1="265.5" y1="532.7" x2="265.5" y2="534.2" stroke="#555" stroke-width="0.6"/><text x="265.5" y="545.6" class="cb" text-anchor="middle">0.3</text><line x1="306.3" y1="532.7" x2="306.3" y2="534.2" stroke="#555" stroke-width="0.6"/><text x="306.3" y="545.6" class="cb" text-anchor="middle">0.6</text><line x1="347.0" y1="532.7" x2="347.0" y2="534.2" stroke="#555" stroke-width="0.6"/><text x="347.0" y="545.6" class="cb" text-anchor="middle">0.9</text></svg></body></html>
